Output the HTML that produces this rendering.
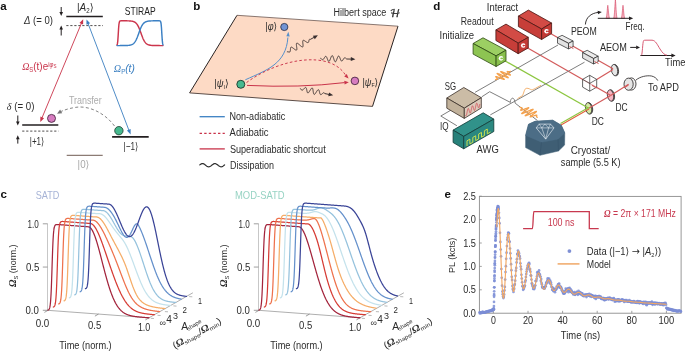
<!DOCTYPE html>
<html><head><meta charset="utf-8"><title>Superadiabatic figure</title>
<style>
html,body{margin:0;padding:0;background:#fff;}
body{width:685px;height:354px;overflow:hidden;}
svg{display:block;}
svg text{font-family:"Liberation Sans", "DejaVu Sans", sans-serif;}
</style></head><body>
<svg width="685" height="354" viewBox="0 0 685 354" fill="#2b2b2b">
<rect width="685" height="354" fill="#fff"/>
<text x="0.30" y="10.20" font-size="11.55" fill="#111" font-weight="bold">a</text>
<line x1="66.30" y1="16.40" x2="102.80" y2="16.40" stroke="#231f20" stroke-width="1.5" />
<line x1="66.30" y1="25.60" x2="103.00" y2="25.60" stroke="#231f20" stroke-width="0.8" stroke-dasharray="2.2,1.8"/>
<line x1="61.20" y1="7.00" x2="61.20" y2="13.00" stroke="#231f20" stroke-width="1.0" />
<polygon points="61.20,16.00 59.40,12.00 63.00,12.00" fill="#231f20" stroke="none" stroke-width="0" stroke-linejoin="round" />
<line x1="61.20" y1="28.50" x2="61.20" y2="35.50" stroke="#231f20" stroke-width="1.0" />
<polygon points="61.20,25.40 63.00,29.40 59.40,29.40" fill="#231f20" stroke="none" stroke-width="0" stroke-linejoin="round" />
<text x="24.00" y="24.40" font-size="10.56" textLength="29.00" lengthAdjust="spacingAndGlyphs"><tspan font-style="italic">Δ</tspan> (= 0)</text>
<text x="77.00" y="11.20" font-size="10.56" textLength="16.60" lengthAdjust="spacingAndGlyphs">|<tspan font-style="italic">A</tspan><tspan font-size="6.5" dy="2">2</tspan><tspan dy="-2">⟩</tspan></text>
<line x1="22.20" y1="124.90" x2="58.30" y2="124.90" stroke="#231f20" stroke-width="1.5" />
<line x1="22.20" y1="131.10" x2="58.50" y2="131.10" stroke="#231f20" stroke-width="0.8" stroke-dasharray="2.2,1.8"/>
<line x1="17.80" y1="115.50" x2="17.80" y2="122.00" stroke="#231f20" stroke-width="1.0" />
<polygon points="17.80,125.50 16.00,121.50 19.60,121.50" fill="#231f20" stroke="none" stroke-width="0" stroke-linejoin="round" />
<line x1="17.80" y1="138.50" x2="17.80" y2="143.60" stroke="#231f20" stroke-width="1.0" />
<polygon points="17.80,135.30 19.60,139.30 16.00,139.30" fill="#231f20" stroke="none" stroke-width="0" stroke-linejoin="round" />
<text x="6.80" y="110.30" font-size="10.56" textLength="27.60" lengthAdjust="spacingAndGlyphs"><tspan font-style="italic" font-family="Liberation Serif, serif" font-size="11">δ</tspan> (= 0)</text>
<text x="29.80" y="144.60" font-size="10.56" textLength="14.40" lengthAdjust="spacingAndGlyphs">|+1⟩</text>
<line x1="112.10" y1="136.90" x2="148.70" y2="136.90" stroke="#231f20" stroke-width="1.6" />
<text x="123.60" y="150.40" font-size="10.56" textLength="14.60" lengthAdjust="spacingAndGlyphs">|−1⟩</text>
<line x1="66.70" y1="155.40" x2="102.70" y2="155.40" stroke="#8c7b74" stroke-width="1.1" />
<text x="77.60" y="168.40" font-size="10.56" fill="#a8a8a8" textLength="11.80" lengthAdjust="spacingAndGlyphs">|0⟩</text>
<line x1="81.80" y1="22.40" x2="41.70" y2="118.60" stroke="#c9334a" stroke-width="0.9" />
<polygon points="83.20,19.20 83.11,24.58 79.42,23.03" fill="#c9334a" stroke="none" stroke-width="0" stroke-linejoin="round" />
<polygon points="40.30,122.00 40.37,116.62 44.07,118.15" fill="#c9334a" stroke="none" stroke-width="0" stroke-linejoin="round" />
<line x1="87.80" y1="22.80" x2="129.20" y2="131.00" stroke="#3b7fc1" stroke-width="0.9" />
<polygon points="86.50,19.40 90.15,23.36 86.42,24.78" fill="#3b7fc1" stroke="none" stroke-width="0" stroke-linejoin="round" />
<polygon points="130.60,134.40 126.94,130.45 130.67,129.02" fill="#3b7fc1" stroke="none" stroke-width="0" stroke-linejoin="round" />
<text x="22.20" y="70.30" font-size="10.56" fill="#c9334a" textLength="34.20" lengthAdjust="spacingAndGlyphs"><tspan font-style="italic" font-family="Liberation Serif, serif" font-size="10.5">Ω</tspan><tspan font-size="6.3" dy="2">S</tspan><tspan dy="-2">(t)e</tspan><tspan font-size="6.3" dy="-3.6">i<tspan font-style="italic">φ</tspan></tspan><tspan font-size="4.8" dy="1.5">S</tspan></text>
<text x="113.80" y="72.00" font-size="10.56" fill="#3b7fc1" textLength="21.00" lengthAdjust="spacingAndGlyphs"><tspan font-style="italic" font-family="Liberation Serif, serif" font-size="10.5">Ω</tspan><tspan font-size="6.3" dy="2">P</tspan><tspan dy="-2" font-style="italic">(t)</tspan></text>
<text x="68.90" y="104.00" font-size="10.56" fill="#acacac" textLength="32.90" lengthAdjust="spacingAndGlyphs">Transfer</text>
<path d="M 114.5,126.0 C 104,112 88,105.5 76,107.3 C 68,108.5 63,110.5 60.5,111.8" stroke="#7e7e7e" stroke-width="0.95" fill="none" stroke-dasharray="3,2.3"/>
<polygon points="57.00,113.80 60.09,109.57 62.20,113.20" fill="#777" stroke="none" stroke-width="0" stroke-linejoin="round" />
<circle cx="51.50" cy="118.40" r="4.00" fill="#d77cc0" stroke="#3a1c33" stroke-width="0.8"/>
<circle cx="118.90" cy="130.70" r="4.20" fill="#46b98e" stroke="#1b3a2c" stroke-width="0.8"/>
<text x="124.80" y="15.30" font-size="10.23" fill="#222" textLength="30.80" lengthAdjust="spacingAndGlyphs">STIRAP</text>
<polyline points="117.00,45.01 117.39,43.90 117.77,41.10 118.16,35.65 118.55,29.01 118.93,24.29 119.32,22.08 119.71,21.24 120.09,20.95 120.48,20.85 120.87,20.82 121.25,20.81 121.64,20.81 122.03,20.81 122.41,20.81 122.80,20.81 123.18,20.81 123.57,20.81 123.96,20.81 124.34,20.81 124.73,20.82 125.12,20.82 125.50,20.82 125.89,20.83 126.28,20.83 126.66,20.84 127.05,20.84 127.44,20.85 127.82,20.86 128.21,20.87 128.60,20.89 128.98,20.90 129.37,20.92 129.76,20.95 130.14,20.98 130.53,21.01 130.92,21.05 131.30,21.10 131.69,21.15 132.08,21.22 132.46,21.30 132.85,21.40 133.24,21.51 133.62,21.64 134.01,21.79 134.39,21.97 134.78,22.19 135.17,22.44 135.55,22.72 135.94,23.06 136.33,23.45 136.71,23.89 137.10,24.40 137.49,24.98 137.87,25.62 138.26,26.34 138.65,27.14 139.03,28.00 139.42,28.93 139.81,29.92 140.19,30.95 140.58,32.02 140.97,33.11 141.35,34.19 141.74,35.26 142.13,36.31 142.51,37.30 142.90,38.24 143.29,39.12 143.67,39.92 144.06,40.66 144.45,41.32 144.83,41.90 145.22,42.42 145.61,42.88 145.99,43.28 146.38,43.62 146.76,43.92 147.15,44.17 147.54,44.39 147.92,44.58 148.31,44.74 148.70,44.87 149.08,44.99 149.47,45.08 149.86,45.17 150.24,45.23 150.63,45.29 151.02,45.34 151.40,45.38 151.79,45.42 152.18,45.45 152.56,45.47 152.95,45.49 153.34,45.51 153.72,45.52 154.11,45.54 154.50,45.55 154.88,45.56 155.27,45.56 155.66,45.57 156.04,45.57 156.43,45.58 156.82,45.58 157.20,45.58 157.59,45.59 157.97,45.59 158.36,45.59 158.75,45.59 159.13,45.59 159.52,45.59 159.91,45.60 160.29,45.60 160.68,45.60 161.07,45.60 161.45,45.60 161.84,45.60 162.23,45.60 162.61,45.60 163.00,45.60" fill="none" stroke="#cc354c" stroke-width="1.45" stroke-linejoin="round" stroke-linecap="round" />
<polyline points="117.00,45.60 117.39,45.60 117.77,45.60 118.16,45.60 118.55,45.60 118.93,45.60 119.32,45.60 119.71,45.60 120.09,45.59 120.48,45.59 120.87,45.59 121.25,45.59 121.64,45.59 122.03,45.59 122.41,45.59 122.80,45.58 123.18,45.58 123.57,45.58 123.96,45.57 124.34,45.57 124.73,45.56 125.12,45.55 125.50,45.54 125.89,45.53 126.28,45.52 126.66,45.50 127.05,45.48 127.44,45.46 127.82,45.43 128.21,45.40 128.60,45.36 128.98,45.32 129.37,45.26 129.76,45.20 130.14,45.12 130.53,45.04 130.92,44.93 131.30,44.81 131.69,44.66 132.08,44.49 132.46,44.28 132.85,44.05 133.24,43.77 133.62,43.45 134.01,43.08 134.39,42.65 134.78,42.16 135.17,41.61 135.55,40.98 135.94,40.29 136.33,39.52 136.71,38.67 137.10,37.76 137.49,36.79 137.87,35.77 138.26,34.71 138.65,33.63 139.03,32.54 139.42,31.46 139.81,30.41 140.19,29.40 140.58,28.44 140.97,27.54 141.35,26.72 141.74,25.96 142.13,25.28 142.51,24.67 142.90,24.13 143.29,23.66 143.67,23.24 144.06,22.88 144.45,22.57 144.83,22.30 145.22,22.07 145.61,21.88 145.99,21.71 146.38,21.57 146.76,21.45 147.15,21.34 147.54,21.26 147.92,21.19 148.31,21.12 148.70,21.07 149.08,21.03 149.47,20.99 149.86,20.96 150.24,20.94 150.63,20.91 151.02,20.90 151.40,20.88 151.79,20.87 152.18,20.86 152.56,20.85 152.95,20.84 153.34,20.83 153.72,20.83 154.11,20.82 154.50,20.82 154.88,20.82 155.27,20.81 155.66,20.81 156.04,20.81 156.43,20.81 156.82,20.81 157.20,20.81 157.59,20.80 157.97,20.80 158.36,20.80 158.75,20.81 159.13,20.81 159.52,20.84 159.91,20.91 160.29,21.13 160.68,21.77 161.07,23.52 161.45,27.52 161.84,33.91 162.23,39.95 162.61,43.39 163.00,44.82" fill="none" stroke="#3b80c4" stroke-width="1.45" stroke-linejoin="round" stroke-linecap="round" />
<text x="193.20" y="10.20" font-size="11.55" fill="#111" font-weight="bold">b</text>
<polygon points="237.00,15.30 398.00,26.20 372.50,106.40 189.60,92.90" fill="#fddac5" stroke="none" stroke-width="0" stroke-linejoin="round" />
<line x1="237.00" y1="15.30" x2="398.00" y2="26.20" stroke="#6b5750" stroke-width="0.8" />
<line x1="189.60" y1="92.90" x2="372.50" y2="106.40" stroke="#4a3c38" stroke-width="0.9" />
<line x1="237.00" y1="15.30" x2="189.60" y2="92.90" stroke="#2a2424" stroke-width="1.0" />
<line x1="398.00" y1="26.20" x2="372.50" y2="106.40" stroke="#2a2424" stroke-width="1.0" />
<text x="333.50" y="16.40" font-size="10.45" textLength="52.80" lengthAdjust="spacingAndGlyphs">Hilbert space</text>
<text x="389.80" y="16.80" font-size="10.89" stroke="#2b2b2b" stroke-width="0.3" style="font-family:'DejaVu Math TeX Gyre', 'DejaVu Sans', serif">ℋ</text>
<path d="M 245.3,79.8 C 267,70 286,64 287.9,37.5" stroke="#5590cc" stroke-width="1.0" fill="none" />
<polygon points="288.30,31.80 289.72,36.49 286.33,36.29" fill="#5590cc" stroke="none" stroke-width="0" stroke-linejoin="round" />
<path d="M 246.5,82.6 C 280,58 330,50 345.6,75.2" stroke="#c9334a" stroke-width="0.95" fill="none" stroke-dasharray="2.6,2.2"/>
<polygon points="348.60,78.40 344.22,76.56 346.76,74.02" fill="#c9334a" stroke="none" stroke-width="0" stroke-linejoin="round" />
<path d="M 247,85.4 Q 300,88 344.6,82.6" stroke="#c9334a" stroke-width="1.0" fill="none" />
<polygon points="348.80,82.20 344.61,84.44 344.24,80.86" fill="#c9334a" stroke="none" stroke-width="0" stroke-linejoin="round" />
<polyline points="287.30,51.80 287.46,51.76 287.65,51.76 287.85,51.78 288.05,51.81 288.26,51.86 288.48,51.91 288.69,51.96 288.90,52.00 289.10,52.03 289.29,52.04 289.47,52.03 289.63,51.99 289.78,51.93 289.92,51.83 290.03,51.70 290.13,51.54 290.22,51.35 290.28,51.13 290.33,50.88 290.37,50.61 290.40,50.31 290.42,50.00 290.43,49.68 290.44,49.36 290.46,49.04 290.47,48.73 290.50,48.43 290.53,48.15 290.58,47.90 290.65,47.67 290.73,47.48 290.84,47.34 290.97,47.23 291.12,47.17 291.30,47.15 291.50,47.18 291.72,47.25 291.96,47.36 292.23,47.51 292.52,47.69 292.81,47.90 293.13,48.13 293.45,48.38 293.77,48.64 294.10,48.90 294.42,49.15 294.73,49.39 295.03,49.61 295.32,49.80 295.59,49.95 295.84,50.06 296.06,50.13 296.26,50.15 296.43,50.12 296.57,50.04 296.68,49.90 296.76,49.71 296.82,49.46 296.84,49.17 296.85,48.83 296.83,48.46 296.80,48.05 296.75,47.62 296.69,47.16 296.63,46.70 296.56,46.24 296.50,45.78 296.45,45.34 296.41,44.92 296.39,44.54 296.39,44.19 296.41,43.88 296.45,43.62 296.53,43.42 296.64,43.27 296.77,43.18 296.94,43.15 297.14,43.17 297.37,43.25 297.62,43.38 297.91,43.56 298.21,43.78 298.53,44.04 298.87,44.32 299.22,44.62 299.58,44.93 299.93,45.25 300.29,45.56 300.63,45.86 300.97,46.13 301.28,46.38 301.58,46.59 301.86,46.75 302.11,46.87 302.33,46.94 302.52,46.95 302.68,46.91 302.81,46.81 302.92,46.65 302.99,46.44 303.04,46.18 303.06,45.88 303.06,45.54 303.04,45.16 303.01,44.75 302.97,44.33 302.92,43.90 302.87,43.46 302.82,43.02 302.78,42.60 302.74,42.20 302.73,41.82 302.73,41.48 302.75,41.17 302.79,40.91 302.86,40.69 302.95,40.52 303.07,40.39 303.22,40.32 303.39,40.30 303.59,40.32 303.81,40.38 304.05,40.48 304.31,40.62 304.58,40.78 304.87,40.97 305.16,41.16 305.46,41.37 305.76,41.58 306.05,41.79 306.34,41.98 306.62,42.15 306.89,42.31 307.14,42.43 307.38,42.53 307.60,42.59 307.80,42.61 307.98,42.60 308.14,42.55 308.28,42.46 308.40,42.34 308.50,42.19 308.59,42.01 308.66,41.81 308.73,41.58 308.79,41.34 308.84,41.10 308.89,40.85 308.94,40.60 309.00,40.36 309.06,40.13 309.13,39.92 309.22,39.73 309.31,39.56 309.43,39.43 309.55,39.32 309.70,39.25 309.87,39.22 310.06,39.23 310.33,39.38 314.29,37.25" fill="none" stroke="#382e2e" stroke-width="0.95" stroke-linejoin="round" stroke-linecap="round" />
<polygon points="317.90,35.30 314.80,39.24 312.90,35.72" fill="#382e2e" stroke="none" stroke-width="0" stroke-linejoin="round" />
<polyline points="320.70,58.40 320.86,58.45 321.02,58.54 321.18,58.67 321.34,58.81 321.50,58.96 321.66,59.12 321.82,59.26 321.98,59.40 322.14,59.51 322.30,59.60 322.47,59.66 322.63,59.68 322.79,59.66 322.96,59.60 323.12,59.50 323.29,59.36 323.46,59.18 323.62,58.97 323.79,58.74 323.96,58.48 324.13,58.20 324.30,57.91 324.47,57.63 324.64,57.36 324.81,57.10 324.98,56.87 325.15,56.67 325.31,56.51 325.48,56.40 325.64,56.33 325.81,56.33 325.97,56.38 326.13,56.48 326.29,56.65 326.45,56.86 326.61,57.13 326.76,57.44 326.92,57.78 327.07,58.16 327.23,58.55 327.38,58.95 327.53,59.35 327.69,59.74 327.84,60.11 328.00,60.45 328.15,60.74 328.31,60.99 328.47,61.18 328.63,61.30 328.79,61.36 328.96,61.35 329.12,61.27 329.29,61.13 329.46,60.91 329.63,60.64 329.80,60.31 329.97,59.93 330.14,59.52 330.31,59.08 330.49,58.63 330.66,58.16 330.84,57.71 331.01,57.28 331.18,56.87 331.35,56.51 331.52,56.20 331.69,55.94 331.86,55.76 332.03,55.64 332.19,55.60 332.35,55.63 332.51,55.75 332.67,55.93 332.83,56.18 332.99,56.50 333.14,56.87 333.29,57.28 333.45,57.74 333.60,58.21 333.75,58.70 333.90,59.19 334.06,59.67 334.21,60.12 334.36,60.53 334.52,60.90 334.67,61.22 334.83,61.47 334.99,61.66 335.15,61.77 335.31,61.80 335.48,61.76 335.64,61.64 335.81,61.46 335.98,61.20 336.15,60.89 336.32,60.53 336.49,60.12 336.67,59.69 336.84,59.24 337.01,58.78 337.19,58.32 337.36,57.88 337.53,57.47 337.71,57.09 337.88,56.76 338.05,56.49 338.21,56.28 338.38,56.13 338.55,56.05 338.71,56.04 338.87,56.10 339.03,56.23 339.19,56.41 339.35,56.66 339.50,56.95 339.66,57.29 339.81,57.66 339.97,58.05 340.12,58.45 340.28,58.85 340.43,59.24 340.59,59.62 340.74,59.96 340.90,60.27 341.05,60.54 341.21,60.75 341.37,60.92 341.53,61.02 341.69,61.07 341.86,61.07 342.02,61.01 342.19,60.89 342.36,60.73 342.52,60.54 342.69,60.30 342.86,60.05 343.03,59.77 343.20,59.49 343.37,59.20 343.54,58.93 343.71,58.67 343.88,58.43 344.05,58.22 344.21,58.04 344.38,57.90 344.54,57.80 344.71,57.74 344.87,57.73 345.04,57.75 345.20,57.80 345.36,57.89 345.52,58.00 345.68,58.14 345.84,58.29 346.00,58.44 346.16,58.59 346.32,58.73 346.48,58.86 346.64,58.95 346.80,59.00 351.30,59.11" fill="none" stroke="#382e2e" stroke-width="0.95" stroke-linejoin="round" stroke-linecap="round" />
<polygon points="355.40,59.20 350.76,61.09 350.85,57.09" fill="#382e2e" stroke="none" stroke-width="0" stroke-linejoin="round" />
<polyline points="300.30,88.60 300.44,88.67 300.58,88.79 300.71,88.93 300.84,89.08 300.96,89.25 301.09,89.42 301.21,89.59 301.34,89.75 301.47,89.89 301.61,90.01 301.75,90.11 301.89,90.17 302.04,90.21 302.20,90.20 302.37,90.17 302.54,90.09 302.73,89.99 302.91,89.84 303.11,89.68 303.31,89.48 303.51,89.27 303.72,89.04 303.92,88.80 304.13,88.57 304.34,88.34 304.54,88.12 304.74,87.93 304.93,87.76 305.12,87.62 305.30,87.53 305.47,87.47 305.63,87.46 305.78,87.51 305.92,87.60 306.05,87.74 306.17,87.93 306.28,88.17 306.39,88.44 306.48,88.76 306.57,89.11 306.65,89.48 306.73,89.87 306.81,90.27 306.89,90.67 306.97,91.06 307.05,91.43 307.14,91.78 307.24,92.09 307.34,92.36 307.45,92.59 307.58,92.76 307.71,92.88 307.86,92.94 308.02,92.93 308.19,92.87 308.38,92.75 308.57,92.57 308.78,92.34 308.99,92.06 309.22,91.74 309.45,91.39 309.68,91.02 309.92,90.63 310.16,90.24 310.40,89.85 310.64,89.47 310.87,89.12 311.09,88.81 311.31,88.53 311.51,88.30 311.71,88.13 311.89,88.02 312.06,87.97 312.21,87.98 312.36,88.06 312.49,88.21 312.60,88.41 312.71,88.68 312.80,89.00 312.89,89.36 312.97,89.77 313.04,90.20 313.10,90.66 313.17,91.12 313.23,91.59 313.30,92.05 313.37,92.49 313.44,92.90 313.52,93.28 313.62,93.61 313.72,93.89 313.83,94.12 313.96,94.28 314.10,94.38 314.25,94.42 314.41,94.39 314.59,94.30 314.78,94.15 314.98,93.95 315.19,93.70 315.41,93.40 315.64,93.08 315.87,92.72 316.10,92.35 316.34,91.98 316.57,91.60 316.81,91.24 317.04,90.90 317.26,90.59 317.47,90.32 317.68,90.09 317.88,89.90 318.06,89.77 318.24,89.70 318.40,89.68 318.55,89.72 318.69,89.82 318.82,89.96 318.94,90.16 319.05,90.41 319.15,90.69 319.25,91.00 319.34,91.34 319.42,91.69 319.51,92.06 319.59,92.42 319.68,92.78 319.77,93.12 319.86,93.44 319.96,93.73 320.07,93.99 320.19,94.21 320.31,94.38 320.44,94.52 320.58,94.61 320.73,94.65 320.89,94.65 321.06,94.62 321.23,94.54 321.41,94.43 321.60,94.30 321.79,94.14 321.99,93.97 322.18,93.79 322.38,93.60 322.58,93.42 322.77,93.25 322.96,93.09 323.15,92.96 323.33,92.85 323.51,92.77 323.67,92.72 323.84,92.70 323.99,92.72 324.14,92.77 324.29,92.85 324.42,92.96 324.55,93.10 324.68,93.28 324.77,93.58 329.18,94.48" fill="none" stroke="#382e2e" stroke-width="0.95" stroke-linejoin="round" stroke-linecap="round" />
<polygon points="333.20,95.30 328.29,96.34 329.09,92.42" fill="#382e2e" stroke="none" stroke-width="0" stroke-linejoin="round" />
<circle cx="284.30" cy="27.00" r="3.60" fill="#7294d4" stroke="#222a44" stroke-width="0.8"/>
<circle cx="240.80" cy="84.30" r="4.00" fill="#47b98f" stroke="#1b3a2c" stroke-width="0.9"/>
<circle cx="354.90" cy="80.90" r="3.80" fill="#d77cc0" stroke="#3a1c33" stroke-width="0.8"/>
<text x="265.30" y="29.60" font-size="10.23" textLength="11.80" lengthAdjust="spacingAndGlyphs">|<tspan font-style="italic">φ</tspan>⟩</text>
<text x="214.30" y="87.20" font-size="10.23" textLength="14.40" lengthAdjust="spacingAndGlyphs">|<tspan font-style="italic">ψ</tspan><tspan font-size="5.8" dy="1.8">I</tspan><tspan dy="-1.8">⟩</tspan></text>
<text x="362.40" y="85.60" font-size="10.23" textLength="15.80" lengthAdjust="spacingAndGlyphs">|<tspan font-style="italic">ψ</tspan><tspan font-size="5.8" dy="1.8">F</tspan><tspan dy="-1.8">⟩</tspan></text>
<line x1="199.60" y1="116.70" x2="224.80" y2="116.70" stroke="#3b80c2" stroke-width="1.3" />
<line x1="199.60" y1="133.30" x2="224.80" y2="133.30" stroke="#c9334a" stroke-width="1.2" stroke-dasharray="2.4,2.2"/>
<line x1="199.60" y1="148.90" x2="224.80" y2="148.90" stroke="#c9334a" stroke-width="1.3" />
<polyline points="199.80,164.88 200.22,164.56 200.64,164.26 201.06,164.01 201.48,163.81 201.90,163.67 202.32,163.61 202.74,163.61 203.16,163.69 203.58,163.83 204.00,164.04 204.42,164.30 204.84,164.60 205.26,164.93 205.68,165.26 206.11,165.60 206.53,165.92 206.95,166.21 207.37,166.45 207.79,166.63 208.21,166.75 208.63,166.80 209.05,166.78 209.47,166.68 209.89,166.52 210.31,166.30 210.73,166.03 211.15,165.72 211.57,165.39 211.99,165.05 212.41,164.72 212.83,164.41 213.25,164.13 213.67,163.90 214.09,163.73 214.51,163.63 214.93,163.60 215.35,163.64 215.77,163.75 216.19,163.93 216.61,164.16 217.03,164.44 217.45,164.76 217.87,165.09 218.29,165.43 218.72,165.76 219.14,166.07 219.56,166.33 219.98,166.55 220.40,166.70 220.82,166.78 221.24,166.80 221.66,166.74 222.08,166.61 222.50,166.42 222.92,166.17 223.34,165.88 223.76,165.56 224.18,165.22 224.60,164.88" fill="none" stroke="#2b2b2b" stroke-width="1.2" stroke-linejoin="round" stroke-linecap="round" />
<text x="229.60" y="120.20" font-size="10.45" textLength="55.60" lengthAdjust="spacingAndGlyphs">Non-adiabatic</text>
<text x="229.60" y="136.20" font-size="10.45" textLength="39.00" lengthAdjust="spacingAndGlyphs">Adiabatic</text>
<text x="229.90" y="152.80" font-size="10.45" textLength="95.80" lengthAdjust="spacingAndGlyphs">Superadiabatic shortcut</text>
<text x="229.90" y="169.20" font-size="10.45" textLength="44.00" lengthAdjust="spacingAndGlyphs">Dissipation</text>
<text x="433.20" y="9.90" font-size="11.55" fill="#111" font-weight="bold">d</text>
<ellipse cx="615.40" cy="70.10" rx="3.1" ry="5.7" fill="#9a9a9a" stroke="#231f20" stroke-width="0.7" transform="rotate(-10 615.40 70.10)"/>
<ellipse cx="614.50" cy="70.10" rx="3.1" ry="5.7" fill="#e6e6e6" stroke="#231f20" stroke-width="0.7" transform="rotate(-10 614.50 70.10)"/>
<ellipse cx="611.40" cy="95.50" rx="3.1" ry="5.7" fill="#9a9a9a" stroke="#231f20" stroke-width="0.7" transform="rotate(-10 611.40 95.50)"/>
<ellipse cx="610.50" cy="95.50" rx="3.1" ry="5.7" fill="#f4b6c3" stroke="#231f20" stroke-width="0.7" transform="rotate(-10 610.50 95.50)"/>
<ellipse cx="589.50" cy="108.30" rx="3.1" ry="5.7" fill="#9a9a9a" stroke="#231f20" stroke-width="0.7" transform="rotate(-10 589.50 108.30)"/>
<ellipse cx="588.60" cy="108.30" rx="3.1" ry="5.7" fill="#d6e9a5" stroke="#231f20" stroke-width="0.7" transform="rotate(-10 588.60 108.30)"/>
<ellipse cx="631.4" cy="84.0" rx="4.6" ry="6.1" fill="#f2f2f2" stroke="#231f20" stroke-width="0.8"/>
<ellipse cx="628.60" cy="84.20" rx="4.6" ry="6.1" fill="#e6e6e6" stroke="#231f20" stroke-width="0.8" transform="rotate(0 628.60 84.20)"/>
<line x1="546.50" y1="31.30" x2="613.00" y2="68.80" stroke="#d35b5b" stroke-width="1.2" />
<line x1="613.00" y1="69.40" x2="596.70" y2="79.50" stroke="#d35b5b" stroke-width="1.2" />
<line x1="523.30" y1="45.60" x2="610.40" y2="95.30" stroke="#d35b5b" stroke-width="1.2" />
<line x1="610.60" y1="95.40" x2="628.60" y2="84.30" stroke="#d35b5b" stroke-width="1.2" />
<line x1="610.60" y1="95.60" x2="588.80" y2="108.20" stroke="#d35b5b" stroke-width="1.2" />
<line x1="500.90" y1="58.50" x2="588.80" y2="108.20" stroke="#8cc63f" stroke-width="1.3" />
<line x1="588.60" y1="107.60" x2="560.50" y2="123.60" stroke="#8cc63f" stroke-width="1.1" />
<line x1="589.00" y1="108.90" x2="561.00" y2="124.90" stroke="#e0603a" stroke-width="1.1" />
<line x1="475.10" y1="92.30" x2="558.00" y2="45.00" stroke="#777777" stroke-width="0.95" />
<polyline points="482.10,96.60 489.70,91.70 510.20,102.30" fill="none" stroke="#777777" stroke-width="0.95" stroke-linejoin="round" stroke-linecap="round" />
<path d="M 510.2,102.3 C 511,96.5 514.5,96.8 515.2,103.2" stroke="#777777" stroke-width="0.95" fill="none" />
<line x1="515.20" y1="103.20" x2="537.50" y2="120.60" stroke="#777777" stroke-width="0.95" />
<line x1="490.30" y1="114.90" x2="584.50" y2="62.20" stroke="#777777" stroke-width="0.95" />
<polyline points="455.50,107.50 440.80,116.00 456.50,125.50" fill="none" stroke="#777777" stroke-width="0.95" stroke-linejoin="round" stroke-linecap="round" />
<polyline points="495.61,79.57 495.70,79.53 495.79,79.50 495.89,79.48 496.00,79.45 496.11,79.44 496.23,79.42 496.35,79.40 496.48,79.39 496.61,79.38 496.74,79.37 496.87,79.36 497.00,79.35 497.12,79.33 497.23,79.31 497.33,79.29 497.42,79.25 497.49,79.21 497.54,79.16 497.57,79.09 497.58,79.01 497.56,78.92 497.51,78.81 497.44,78.68 497.35,78.55 497.23,78.40 497.09,78.24 496.93,78.06 496.77,77.89 496.60,77.71 496.42,77.53 496.25,77.35 496.10,77.18 495.97,77.02 495.86,76.88 495.79,76.75 495.75,76.65 495.76,76.57 495.83,76.52 495.94,76.51 496.11,76.52 496.34,76.57 496.63,76.64 496.97,76.75 497.36,76.89 497.80,77.05 498.28,77.24 498.79,77.45 499.33,77.67 499.89,77.90 500.45,78.13 501.01,78.36 501.56,78.59 502.08,78.80 502.56,78.99 503.01,79.15 503.40,79.29 503.73,79.39 503.99,79.46 504.19,79.48 504.30,79.47 504.34,79.41 504.31,79.30 504.19,79.15 504.00,78.96 503.74,78.73 503.42,78.47 503.04,78.17 502.61,77.85 502.14,77.50 501.64,77.13 501.11,76.75 500.58,76.37 500.06,75.99 499.54,75.62 499.05,75.26 498.59,74.92 498.18,74.60 497.82,74.32 497.52,74.07 497.30,73.85 497.14,73.68 497.06,73.55 497.06,73.47 497.15,73.44 497.31,73.45 497.56,73.50 497.88,73.60 498.28,73.74 498.74,73.92 499.27,74.13 499.84,74.37 500.46,74.64 501.12,74.92 501.79,75.22 502.48,75.53 503.18,75.83 503.86,76.13 504.53,76.43 505.16,76.70 505.76,76.96 506.31,77.18 506.81,77.38 507.24,77.54 507.60,77.66 507.88,77.73 508.09,77.77 508.21,77.75 508.26,77.70 508.22,77.59 508.11,77.44 507.91,77.25 507.65,77.02 507.32,76.75 506.93,76.45 506.50,76.12 506.02,75.77 505.51,75.40 504.98,75.01 504.43,74.63 503.89,74.24 503.36,73.86 502.86,73.49 502.38,73.14 501.95,72.81 501.57,72.51 501.26,72.25 501.00,72.03 500.82,71.84 500.72,71.70 500.70,71.60 500.75,71.55 500.89,71.55 501.11,71.59 501.40,71.67 501.76,71.79 502.19,71.95 502.68,72.14 503.21,72.35 503.78,72.59 504.39,72.85 505.01,73.11 505.63,73.38 506.26,73.65 506.87,73.91 507.45,74.16 508.00,74.39 508.51,74.59 508.97,74.76 509.37,74.91 509.71,75.01 509.98,75.08 510.19,75.12 510.33,75.11 510.40,75.07 510.41,74.99 510.36,74.88 510.25,74.74 510.10,74.56 509.90,74.37 509.67,74.16 509.42,73.93 509.15,73.70 508.87,73.46 508.60,73.22 508.33,72.99 508.08,72.77 507.86,72.55 507.66,72.36 507.49,72.18 507.36,72.02 507.26,71.89 507.21,71.77 507.19,71.68 507.20,71.60 507.26,71.55 507.34,71.51 507.45,71.49 507.59,71.49 507.74,71.49 507.91,71.50 508.09,71.52 508.28,71.54 508.47,71.57 508.66,71.59 508.84,71.61 509.02,71.63 509.19,71.64 509.35,71.64 509.49,71.64 509.63,71.64 509.75,71.62 509.87,71.60 509.97,71.58 510.07,71.55 510.15,71.52 510.23,71.48 510.31,71.43 510.37,71.39 510.44,71.34 510.50,71.30" fill="none" stroke="#f4a24e" stroke-width="1.25" stroke-linejoin="round" stroke-linecap="round" />
<polyline points="520.10,107.40 520.21,107.44 520.32,107.47 520.44,107.50 520.57,107.53 520.70,107.55 520.83,107.58 520.97,107.60 521.11,107.61 521.25,107.63 521.39,107.65 521.53,107.67 521.65,107.70 521.77,107.74 521.86,107.78 521.94,107.83 522.00,107.90 522.03,107.98 522.04,108.07 522.02,108.18 521.97,108.31 521.90,108.45 521.80,108.60 521.68,108.77 521.54,108.94 521.39,109.12 521.24,109.31 521.09,109.49 520.95,109.66 520.84,109.83 520.75,109.97 520.70,110.10 520.70,110.20 520.75,110.27 520.86,110.31 521.03,110.31 521.26,110.27 521.56,110.20 521.93,110.09 522.35,109.95 522.83,109.78 523.36,109.58 523.91,109.37 524.50,109.14 525.09,108.90 525.68,108.66 526.26,108.44 526.81,108.23 527.31,108.05 527.75,107.89 528.12,107.78 528.42,107.71 528.62,107.70 528.74,107.73 528.75,107.82 528.67,107.96 528.49,108.16 528.22,108.41 527.87,108.71 527.44,109.05 526.95,109.42 526.41,109.82 525.83,110.25 525.24,110.68 524.64,111.11 524.06,111.54 523.51,111.95 523.00,112.33 522.56,112.68 522.19,112.98 521.91,113.24 521.73,113.44 521.65,113.58 521.67,113.67 521.81,113.69 522.06,113.65 522.41,113.55 522.86,113.39 523.41,113.18 524.03,112.93 524.73,112.63 525.48,112.31 526.26,111.96 527.08,111.60 527.90,111.24 528.70,110.88 529.49,110.54 530.22,110.22 530.91,109.94 531.52,109.69 532.04,109.49 532.47,109.35 532.81,109.26 533.03,109.23 533.15,109.26 533.15,109.36 533.05,109.52 532.84,109.73 532.53,110.00 532.14,110.32 531.66,110.69 531.13,111.09 530.54,111.52 529.91,111.97 529.27,112.43 528.62,112.89 527.99,113.34 527.39,113.78 526.83,114.19 526.34,114.57 525.92,114.90 525.58,115.19 525.34,115.42 525.20,115.60 525.17,115.72 525.25,115.77 525.44,115.76 525.74,115.69 526.14,115.56 526.64,115.38 527.22,115.15 527.88,114.87 528.60,114.57 529.37,114.23 530.17,113.88 530.97,113.52 531.78,113.17 532.57,112.82 533.32,112.50 534.01,112.20 534.65,111.95 535.20,111.73 535.66,111.57 536.03,111.46 536.29,111.41 536.44,111.43 536.49,111.50 536.43,111.63 536.28,111.81 536.03,112.05 535.69,112.34 535.29,112.66 534.82,113.02 534.32,113.41 533.78,113.80 533.24,114.21 532.70,114.61 532.18,115.00 531.69,115.37 531.26,115.72 530.88,116.03 530.58,116.30 530.35,116.52 530.21,116.70 530.15,116.83 530.18,116.91 530.30,116.95 530.49,116.93 530.76,116.88 531.09,116.79 531.48,116.67 531.91,116.53 532.37,116.36 532.86,116.19 533.35,116.01 533.83,115.84 534.30,115.67 534.74,115.52 535.16,115.38 535.53,115.27 535.85,115.19 536.13,115.13 536.36,115.10 536.53,115.10 536.66,115.12 536.75,115.17 536.80,115.24 536.82,115.33 536.80,115.44 536.77,115.55 536.72,115.68 536.66,115.81 536.60,115.94 536.54,116.07 536.49,116.20 536.45,116.32 536.42,116.43 536.41,116.54 536.42,116.63 536.44,116.72 536.47,116.80 536.53,116.87 536.59,116.93 536.67,116.98 536.76,117.03 536.85,117.07 536.95,117.12 537.06,117.15 537.17,117.19 537.28,117.23 537.39,117.26" fill="none" stroke="#f4a24e" stroke-width="1.25" stroke-linejoin="round" stroke-linecap="round" />
<path d="M 517.5,98.6 L 522.5,95.6 C 523.8,93.5 523.8,90.5 525.6,88.6 C 527,87.8 529,88.5 530.5,89.4 C 532,90.2 533,89.6 535.5,88.3 L 541,85.3" stroke="#f2a65a" stroke-width="0.85" fill="none" />
<polygon points="518.40,16.10 528.40,10.10 551.60,23.00 541.60,29.00" fill="#d24b45" stroke="#4a1512" stroke-width="0.8" stroke-linejoin="round" />
<polygon points="518.40,16.10 541.60,29.00 541.60,39.50 518.40,26.60" fill="#c73e39" stroke="#4a1512" stroke-width="0.8" stroke-linejoin="round" />
<polygon points="541.60,29.00 551.60,23.00 551.60,33.50 541.60,39.50" fill="#c33a35" stroke="#4a1512" stroke-width="0.8" stroke-linejoin="round" />
<circle cx="546.60" cy="31.25" r="2.3" fill="#fff"/>
<path d="M 546.60,31.25 L 549.20,30.15 L 549.20,32.55 Z" fill="#c33a35"/>
<circle cx="546.80" cy="31.35" r="0.9" fill="#c33a35"/>
<polygon points="495.90,29.90 506.00,24.10 528.30,37.30 518.20,43.10" fill="#d24b45" stroke="#4a1512" stroke-width="0.8" stroke-linejoin="round" />
<polygon points="495.90,29.90 518.20,43.10 518.20,53.70 495.90,40.50" fill="#c73e39" stroke="#4a1512" stroke-width="0.8" stroke-linejoin="round" />
<polygon points="518.20,43.10 528.30,37.30 528.30,47.90 518.20,53.70" fill="#c33a35" stroke="#4a1512" stroke-width="0.8" stroke-linejoin="round" />
<circle cx="523.25" cy="45.50" r="2.3" fill="#fff"/>
<path d="M 523.25,45.50 L 525.85,44.40 L 525.85,46.80 Z" fill="#c33a35"/>
<circle cx="523.45" cy="45.60" r="0.9" fill="#c33a35"/>
<polygon points="473.10,43.50 483.00,37.80 506.00,50.20 496.10,55.90" fill="#9ccf63" stroke="#2c4712" stroke-width="0.8" stroke-linejoin="round" />
<polygon points="473.10,43.50 496.10,55.90 496.10,66.50 473.10,54.10" fill="#8dc452" stroke="#2c4712" stroke-width="0.8" stroke-linejoin="round" />
<polygon points="496.10,55.90 506.00,50.20 506.00,60.80 496.10,66.50" fill="#88bf4c" stroke="#2c4712" stroke-width="0.8" stroke-linejoin="round" />
<circle cx="501.05" cy="58.35" r="2.3" fill="#fff"/>
<path d="M 501.05,58.35 L 503.65,57.25 L 503.65,59.65 Z" fill="#88bf4c"/>
<circle cx="501.25" cy="58.45" r="0.9" fill="#88bf4c"/>
<polygon points="557.50,37.60 562.10,35.30 573.10,41.00 568.50,43.30" fill="#ececec" stroke="#222" stroke-width="0.7" stroke-linejoin="round" />
<polygon points="557.50,37.60 568.50,43.30 568.50,48.90 557.50,43.20" fill="#e2e2e2" stroke="#222" stroke-width="0.7" stroke-linejoin="round" />
<polygon points="568.50,43.30 573.10,41.00 573.10,46.60 568.50,48.90" fill="#e8e8e8" stroke="#222" stroke-width="0.7" stroke-linejoin="round" />
<polygon points="582.60,52.60 587.20,50.30 598.20,56.20 593.60,58.50" fill="#ececec" stroke="#222" stroke-width="0.7" stroke-linejoin="round" />
<polygon points="582.60,52.60 593.60,58.50 593.60,64.00 582.60,58.10" fill="#e2e2e2" stroke="#222" stroke-width="0.7" stroke-linejoin="round" />
<polygon points="593.60,58.50 598.20,56.20 598.20,61.70 593.60,64.00" fill="#e8e8e8" stroke="#222" stroke-width="0.7" stroke-linejoin="round" />
<line x1="569.50" y1="46.50" x2="573.40" y2="48.60" stroke="#d35b5b" stroke-width="1.0" />
<line x1="594.50" y1="61.50" x2="598.60" y2="63.60" stroke="#d35b5b" stroke-width="1.0" />
<polygon points="589.70,75.30 596.70,79.40 596.70,87.10 589.70,91.20 582.60,87.10 582.60,79.40" fill="rgba(255,255,255,0.55)" stroke="#333" stroke-width="0.75" stroke-linejoin="round" />
<line x1="589.70" y1="75.30" x2="589.70" y2="91.20" stroke="#333" stroke-width="0.7" />
<line x1="582.60" y1="79.40" x2="589.70" y2="83.40" stroke="#333" stroke-width="0.7" />
<line x1="596.70" y1="79.40" x2="589.70" y2="83.40" stroke="#333" stroke-width="0.7" />
<line x1="592.00" y1="85.30" x2="596.70" y2="88.00" stroke="#d35b5b" stroke-width="1.1" />
<line x1="624.50" y1="87.60" x2="628.40" y2="85.00" stroke="#d35b5b" stroke-width="1.1" />
<path d="M 635.8,80.2 C 640,76.5 647,75.2 651.5,76.0 C 654.5,76.6 656.8,78.5 657.8,80.6" stroke="#231f20" stroke-width="0.8" fill="none" />
<polygon points="463.80,87.50 481.30,97.70 464.30,108.20 446.80,98.00" fill="#cbbca6" stroke="#3a2e28" stroke-width="0.8" stroke-linejoin="round" />
<polygon points="446.80,98.00 464.30,108.20 464.30,118.40 446.80,108.20" fill="#c2b29b" stroke="#3a2e28" stroke-width="0.8" stroke-linejoin="round" />
<polygon points="464.30,108.20 481.30,97.70 481.30,107.90 464.30,118.40" fill="#dccbbb" stroke="#3a2e28" stroke-width="0.8" stroke-linejoin="round" />
<polyline points="465.80,115.67 465.98,115.75 466.15,115.62 466.32,115.30 466.50,114.80 466.68,114.14 466.85,113.36 467.03,112.50 467.20,111.61 467.38,110.76 467.55,109.98 467.73,109.32 467.90,108.82 468.07,108.50 468.25,108.38 468.43,108.46 468.60,108.73 468.78,109.16 468.95,109.71 469.12,110.35 469.30,111.01 469.48,111.66 469.65,112.24 469.82,112.70 470.00,113.00 470.18,113.13 470.35,113.05 470.53,112.78 470.70,112.32 470.88,111.69 471.05,110.93 471.23,110.09 471.40,109.21 471.57,108.34 471.75,107.54 471.93,106.84 472.10,106.30 472.28,105.94 472.45,105.77 472.62,105.80 472.80,106.03 472.98,106.42 473.15,106.95 473.32,107.57 473.50,108.23 473.68,108.89 473.85,109.48 474.03,109.98 474.20,110.32 474.38,110.49 474.55,110.47 474.73,110.24 474.90,109.83 475.07,109.24 475.25,108.51 475.43,107.68 475.60,106.80 475.78,105.93 475.95,105.10 476.12,104.38 476.30,103.80 476.48,103.39 476.65,103.17 476.82,103.16 477.00,103.34 477.18,103.69 477.35,104.19 477.53,104.79 477.70,105.45 477.88,106.11 478.05,106.73 478.23,107.25 478.40,107.63 478.57,107.85 478.75,107.87 478.93,107.70 479.10,107.32 479.28,106.77 479.45,106.07 479.62,105.27 479.80,104.40" fill="none" stroke="#d2505a" stroke-width="0.8" stroke-linejoin="round" stroke-linecap="round" />
<polygon points="453.10,130.10 483.20,112.80 493.80,119.10 463.70,136.40" fill="#31928a" stroke="#123a36" stroke-width="0.8" stroke-linejoin="round" />
<polygon points="453.10,130.10 463.70,136.40 463.70,148.80 453.10,142.50" fill="#27817a" stroke="#123a36" stroke-width="0.8" stroke-linejoin="round" />
<polygon points="463.70,136.40 493.80,119.10 493.80,131.50 463.70,148.80" fill="#2b8880" stroke="#123a36" stroke-width="0.8" stroke-linejoin="round" />
<polyline points="467.00,145.60 467.00,140.80 469.90,139.12 469.90,143.92 472.80,142.25 472.80,142.25 472.80,137.45 475.70,135.77 475.70,140.57 478.60,138.90 478.60,138.90 478.60,134.10 481.50,132.42 481.50,137.22 484.40,135.55 484.40,135.55 484.40,130.75 487.30,129.07 487.30,133.88 490.20,132.20" fill="none" stroke="#d8e64a" stroke-width="0.9" stroke-linejoin="round" stroke-linecap="round" />
<polygon points="528.50,124.30 535.00,121.30 552.80,120.20 561.30,125.30 564.80,133.00 564.60,145.00 558.50,151.00 540.00,155.30 525.60,147.60 525.60,135.40" fill="#3f5e74" stroke="#3f5e74" stroke-width="0.5" stroke-linejoin="round" />
<polygon points="528.50,124.30 535.00,121.30 552.80,120.20 561.30,125.30 564.80,133.00 558.00,139.20 541.50,142.20 525.60,135.40" fill="#4c6d86" stroke="#4c6d86" stroke-width="0.4" stroke-linejoin="round" />
<line x1="541.50" y1="142.20" x2="540.00" y2="155.30" stroke="#36536a" stroke-width="0.6" />
<line x1="558.00" y1="139.20" x2="558.50" y2="151.00" stroke="#36536a" stroke-width="0.6" />
<polygon points="539.20,124.10 550.50,124.10 554.00,127.90 545.70,139.10 536.20,127.90" fill="none" stroke="#dfe8ef" stroke-width="0.7" stroke-linejoin="round" />
<line x1="536.20" y1="127.90" x2="554.00" y2="127.90" stroke="#dfe8ef" stroke-width="0.6" />
<polyline points="539.20,124.10 541.80,127.90 545.70,139.10 548.60,127.90 550.50,124.10" fill="none" stroke="#dfe8ef" stroke-width="0.6" stroke-linejoin="round" stroke-linecap="round" />
<polyline points="541.80,127.90 544.90,124.10 548.60,127.90" fill="none" stroke="#dfe8ef" stroke-width="0.6" stroke-linejoin="round" stroke-linecap="round" />
<path d="M 585.4,24.5 C 585.8,17.5 591,13.2 598.2,12.4" stroke="#231f20" stroke-width="0.9" fill="none" />
<polygon points="601.80,12.00 598.03,14.25 597.62,10.67" fill="#231f20" stroke="none" stroke-width="0" stroke-linejoin="round" />
<path d="M 606.10,18.3 C 607.00,16 607.30,8.30 607.80,5.30 C 608.30,8.30 608.60,16 609.50,18.3 Z" stroke="#d4405e" stroke-width="0.6" fill="#f6b5c2" />
<path d="M 613.70,18.3 C 614.60,16 614.90,3.00 615.40,0.00 C 615.90,3.00 616.20,16 617.10,18.3 Z" stroke="#d4405e" stroke-width="0.6" fill="#f6b5c2" />
<path d="M 621.30,18.3 C 622.20,16 622.50,8.30 623.00,5.30 C 623.50,8.30 623.80,16 624.70,18.3 Z" stroke="#d4405e" stroke-width="0.6" fill="#f6b5c2" />
<line x1="597.80" y1="18.30" x2="629.50" y2="18.30" stroke="#231f20" stroke-width="1.0" />
<polygon points="633.20,18.30 629.00,20.20 629.00,16.40" fill="#231f20" stroke="none" stroke-width="0" stroke-linejoin="round" />
<line x1="630.20" y1="47.40" x2="636.50" y2="47.40" stroke="#231f20" stroke-width="1.0" />
<polygon points="640.00,47.40 636.20,49.20 636.20,45.60" fill="#231f20" stroke="none" stroke-width="0" stroke-linejoin="round" />
<line x1="640.40" y1="55.50" x2="672.00" y2="55.50" stroke="#231f20" stroke-width="1.0" />
<polygon points="675.60,55.50 671.40,57.40 671.40,53.60" fill="#231f20" stroke="none" stroke-width="0" stroke-linejoin="round" />
<path d="M 641.4,55.3 C 642.4,55 642.6,42 643.6,40.6 C 644,40.2 645,40.2 646,40.2 L 652,40.2 C 655.5,40.2 657.5,45 660,49 C 662.5,53 664.5,55 667,55.2" stroke="#d44a64" stroke-width="0.9" fill="none" />
<text x="486.80" y="10.90" font-size="10.34" textLength="31.40" lengthAdjust="spacingAndGlyphs">Interact</text>
<text x="460.80" y="25.00" font-size="10.34" textLength="32.80" lengthAdjust="spacingAndGlyphs">Readout</text>
<text x="439.60" y="38.70" font-size="10.34" textLength="34.50" lengthAdjust="spacingAndGlyphs">Initialize</text>
<text x="570.90" y="34.80" font-size="10.34" textLength="25.80" lengthAdjust="spacingAndGlyphs">PEOM</text>
<text x="625.60" y="29.80" font-size="10.34" textLength="19.00" lengthAdjust="spacingAndGlyphs">Freq.</text>
<text x="599.90" y="51.40" font-size="10.34" textLength="26.90" lengthAdjust="spacingAndGlyphs">AEOM</text>
<text x="665.00" y="65.80" font-size="10.34" textLength="20.40" lengthAdjust="spacingAndGlyphs">Time</text>
<text x="648.00" y="91.30" font-size="10.34" textLength="30.90" lengthAdjust="spacingAndGlyphs">To APD</text>
<text x="444.70" y="89.80" font-size="10.29" textLength="11.30" lengthAdjust="spacingAndGlyphs">SG</text>
<text x="439.90" y="130.30" font-size="10.34" textLength="8.60" lengthAdjust="spacingAndGlyphs">IQ</text>
<text x="476.60" y="153.10" font-size="10.34" textLength="22.20" lengthAdjust="spacingAndGlyphs">AWG</text>
<text x="615.50" y="111.10" font-size="10.34" textLength="12.20" lengthAdjust="spacingAndGlyphs">DC</text>
<text x="591.70" y="125.20" font-size="10.34" textLength="12.20" lengthAdjust="spacingAndGlyphs">DC</text>
<text x="570.70" y="154.30" font-size="10.34" textLength="39.60" lengthAdjust="spacingAndGlyphs">Cryostat/</text>
<text x="560.80" y="165.80" font-size="10.34" textLength="59.70" lengthAdjust="spacingAndGlyphs">sample (5.5 K)</text>
<text x="0.60" y="198.30" font-size="11.55" fill="#111" font-weight="bold">c</text>
<line x1="47.50" y1="223.60" x2="47.50" y2="310.50" stroke="#b9b9b9" stroke-width="0.8" />
<line x1="42.80" y1="223.80" x2="47.50" y2="223.80" stroke="#777" stroke-width="0.7" />
<line x1="42.80" y1="267.05" x2="47.50" y2="267.05" stroke="#777" stroke-width="0.7" />
<line x1="42.80" y1="310.30" x2="47.50" y2="310.30" stroke="#777" stroke-width="0.7" />
<text x="27.60" y="227.50" font-size="10.23" textLength="11.30" lengthAdjust="spacingAndGlyphs">1.0</text>
<text x="26.00" y="270.90" font-size="10.23" textLength="13.40" lengthAdjust="spacingAndGlyphs">0.5</text>
<text x="25.40" y="313.80" font-size="10.23" textLength="13.40" lengthAdjust="spacingAndGlyphs">0.0</text>
<line x1="47.50" y1="310.30" x2="149.00" y2="317.80" stroke="#9a9a9a" stroke-width="0.8" />
<line x1="48.00" y1="310.30" x2="44.40" y2="312.40" stroke="#777" stroke-width="0.7" />
<line x1="98.50" y1="314.05" x2="94.90" y2="316.15" stroke="#777" stroke-width="0.7" />
<line x1="149.00" y1="317.80" x2="145.40" y2="319.90" stroke="#777" stroke-width="0.7" />
<text x="35.70" y="326.80" font-size="10.23" textLength="13.60" lengthAdjust="spacingAndGlyphs">0.0</text>
<text x="88.00" y="328.70" font-size="10.23" textLength="13.20" lengthAdjust="spacingAndGlyphs">0.5</text>
<text x="137.90" y="331.30" font-size="10.23" textLength="12.40" lengthAdjust="spacingAndGlyphs">1.0</text>
<line x1="149.00" y1="317.80" x2="192.87" y2="292.79" stroke="#9a9a9a" stroke-width="0.8" />
<line x1="150.80" y1="318.30" x2="153.90" y2="318.50" stroke="#8a8a8a" stroke-width="0.6" />
<line x1="157.50" y1="315.30" x2="160.60" y2="315.50" stroke="#8a8a8a" stroke-width="0.6" />
<line x1="164.90" y1="311.60" x2="168.00" y2="311.80" stroke="#8a8a8a" stroke-width="0.6" />
<line x1="173.40" y1="305.90" x2="176.50" y2="306.10" stroke="#8a8a8a" stroke-width="0.6" />
<line x1="189.20" y1="296.60" x2="192.30" y2="296.80" stroke="#8a8a8a" stroke-width="0.6" />
<text x="198.00" y="304.00" font-size="9.24" textLength="4.00" lengthAdjust="spacingAndGlyphs">1</text>
<text x="182.50" y="313.30" font-size="9.24" textLength="4.40" lengthAdjust="spacingAndGlyphs">2</text>
<text x="173.00" y="319.00" font-size="9.46" textLength="5.00" lengthAdjust="spacingAndGlyphs">3</text>
<text x="166.30" y="323.20" font-size="10.12" textLength="5.60" lengthAdjust="spacingAndGlyphs">4</text>
<text x="159.40" y="326.00" font-size="9.24" textLength="6.60" lengthAdjust="spacingAndGlyphs">∞</text>
<text x="181.30" y="329.80" font-size="11.22" textLength="6.80" lengthAdjust="spacingAndGlyphs">A</text>
<text x="188.60" y="331.00" font-size="5.8" textLength="16.00" lengthAdjust="spacingAndGlyphs" transform="rotate(-34 188.60 331.0)">shape</text>
<text x="174.80" y="349.00" font-size="9.4" textLength="54" lengthAdjust="spacingAndGlyphs" transform="rotate(-29 174.80 349.0)">(<tspan font-family="Liberation Serif, serif" font-style="italic" font-weight="bold" font-size="10">Ω</tspan><tspan font-size="5.8" dy="1.6">shape</tspan><tspan dy="-1.6">/</tspan><tspan font-family="Liberation Serif, serif" font-style="italic" font-weight="bold" font-size="10">Ω</tspan><tspan font-size="5.8" dy="1.6">min</tspan><tspan dy="-1.6">)</tspan></text>
<text x="59.30" y="348.50" font-size="10.23" textLength="52.40" lengthAdjust="spacingAndGlyphs">Time (norm.)</text>
<text x="16.00" y="287.00" font-size="9.3" transform="rotate(-90 16.00 287.0)" textLength="42.5" lengthAdjust="spacingAndGlyphs"><tspan font-family="Liberation Serif, serif" font-style="italic" font-weight="bold" font-size="10.5">Ω</tspan><tspan font-size="6" dy="1.8">S</tspan><tspan dy="-1.8"> (norm.)</tspan></text>
<text x="35.70" y="198.70" font-size="11.0" fill="#a6b3d6" textLength="23.60" lengthAdjust="spacingAndGlyphs">SATD</text>
<polyline points="48.00,310.06 48.10,310.03 48.20,309.99 48.25,309.97 48.31,309.95 48.41,309.90 48.51,309.84 48.51,309.83 48.61,309.76 48.72,309.67 48.76,309.63 48.82,309.57 48.92,309.46 49.01,309.33 49.02,309.32 49.13,309.16 49.23,308.97 49.27,308.90 49.33,308.76 49.43,308.51 49.52,308.27 49.53,308.22 49.64,307.89 49.74,307.50 49.77,307.36 49.84,307.05 49.94,306.54 50.03,306.08 50.05,305.96 50.15,305.29 50.25,304.52 50.28,304.29 50.35,303.65 50.45,302.66 50.53,301.83 50.56,301.54 50.66,300.28 50.76,298.87 50.78,298.53 50.86,297.29 50.97,295.55 51.04,294.22 51.07,293.62 51.17,291.51 51.27,289.21 51.29,288.80 51.38,286.74 51.48,284.09 51.54,282.29 51.58,281.29 51.68,278.35 51.78,275.29 51.80,274.90 51.89,272.15 51.99,268.96 52.05,267.03 52.09,265.74 52.19,262.55 52.30,259.41 52.30,259.18 52.40,256.35 52.50,253.41 52.56,251.85 52.60,250.61 52.70,247.96 52.81,245.49 52.81,245.43 52.91,243.19 53.01,241.08 53.06,240.10 53.11,239.15 53.22,237.41 53.32,235.87 53.32,235.83 53.42,234.42 53.52,233.16 53.57,232.64 53.63,232.04 53.73,231.05 53.82,230.24 53.83,230.18 53.93,229.41 54.03,228.74 54.08,228.50 54.14,228.16 54.24,227.65 54.33,227.25 54.34,227.20 54.44,226.81 54.55,226.48 54.58,226.37 54.65,226.19 54.75,225.94 54.83,225.76 54.85,225.73 54.95,225.54 55.06,225.38 55.09,225.34 55.16,225.24 55.26,225.13 55.34,225.05 55.36,225.03 55.47,224.94 55.57,224.87 55.59,224.85 55.67,224.80 55.77,224.75 55.85,224.72 55.88,224.71 55.98,224.67 56.08,224.64 56.10,224.64 56.35,224.58 56.61,224.55 56.86,224.54 57.11,224.53 57.37,224.53 57.62,224.54 57.87,224.55 58.13,224.56 58.38,224.58 58.63,224.60 58.88,224.61 59.14,224.63 59.39,224.65 59.64,224.67 59.90,224.68 60.15,224.70 60.40,224.72 60.66,224.74 60.91,224.76 61.16,224.78 61.42,224.80 61.67,224.82 61.92,224.83 62.18,224.85 62.43,224.87 62.68,224.89 62.93,224.91 63.19,224.93 63.44,224.95 63.69,224.97 63.95,224.98 64.20,225.00 64.45,225.02 64.71,225.04 64.96,225.06 65.21,225.08 65.47,225.10 65.72,225.12 65.97,225.13 66.23,225.15 66.48,225.17 66.73,225.19 66.98,225.21 67.24,225.23 67.49,225.25 67.74,225.27 68.00,225.28 68.25,225.30 68.50,225.32 68.76,225.34 69.01,225.36 69.26,225.38 69.52,225.40 69.77,225.42 70.02,225.44 70.28,225.45 70.53,225.47 70.78,225.49 71.04,225.51 71.29,225.53 71.54,225.55 71.79,225.57 72.05,225.59 72.30,225.60 72.55,225.62 72.81,225.64 73.06,225.66 73.31,225.68 73.57,225.70 73.82,225.72 74.07,225.74 74.33,225.75 74.58,225.77 74.83,225.79 75.09,225.81 75.34,225.83 75.59,225.85 75.84,225.87 76.10,225.89 76.35,225.91 76.60,225.92 76.86,225.94 77.11,225.96 77.36,225.98 77.62,226.00 77.87,226.02 78.12,226.04 78.38,226.06 78.63,226.07 78.88,226.09 79.14,226.11 79.39,226.13 79.64,226.15 79.89,226.17 80.15,226.19 80.40,226.21 80.65,226.22 80.91,226.24 81.16,226.26 81.41,226.28 81.67,226.30 81.92,226.32 82.17,226.34 82.43,226.36 82.68,226.38 82.93,226.39 83.19,226.41 83.44,226.43 83.69,226.45 83.94,226.47 84.20,226.49 84.45,226.51 84.70,226.53 84.96,226.54 85.21,226.56 85.46,226.58 85.72,226.60 85.97,226.62 86.22,226.64 86.48,226.66 86.73,226.68 86.98,226.69 87.24,226.71 87.49,226.73 87.74,226.75 87.99,226.77 88.25,226.79 88.50,226.81 88.75,226.85 89.01,226.91 89.26,227.01 89.51,227.14 89.77,227.29 90.02,227.47 90.27,227.69 90.53,227.93 90.78,228.20 91.03,228.50 91.29,228.82 91.54,229.18 91.79,229.56 92.05,229.97 92.30,230.40 92.55,230.86 92.80,231.35 93.06,231.86 93.31,232.40 93.56,232.96 93.82,233.54 94.07,234.15 94.32,234.78 94.58,235.43 94.83,236.11 95.08,236.80 95.34,237.52 95.59,238.25 95.84,239.00 96.10,239.77 96.35,240.56 96.60,241.37 96.85,242.19 97.11,243.03 97.36,243.88 97.61,244.74 97.87,245.62 98.12,246.51 98.37,247.41 98.63,248.32 98.88,249.25 99.13,250.18 99.39,251.12 99.64,252.07 99.89,253.02 100.15,253.98 100.40,254.95 100.65,255.92 100.90,256.90 101.16,257.88 101.41,258.86 101.66,259.85 101.92,260.84 102.17,261.82 102.42,262.81 102.68,263.80 102.93,264.78 103.18,265.76 103.44,266.75 103.69,267.72 103.94,268.70 104.20,269.67 104.45,270.63 104.70,271.59 104.95,272.54 105.21,273.49 105.46,274.43 105.71,275.37 105.97,276.29 106.22,277.21 106.47,278.12 106.73,279.02 106.98,279.91 107.23,280.79 107.49,281.66 107.74,282.52 107.99,283.37 108.25,284.20 108.50,285.03 108.75,285.85 109.01,286.65 109.26,287.44 109.51,288.22 109.76,288.99 110.02,289.74 110.27,290.49 110.52,291.22 110.78,291.93 111.03,292.64 111.28,293.33 111.54,294.00 111.79,294.67 112.04,295.32 112.30,295.96 112.55,296.58 112.80,297.20 113.06,297.80 113.31,298.38 113.56,298.95 113.81,299.51 114.07,300.06 114.32,300.60 114.57,301.12 114.83,301.63 115.08,302.12 115.33,302.61 115.59,303.08 115.84,303.54 116.09,303.99 116.35,304.42 116.60,304.85 116.85,305.26 117.11,305.66 117.36,306.05 117.61,306.43 117.86,306.80 118.12,307.15 118.37,307.50 118.62,307.84 118.88,308.16 119.13,308.48 119.38,308.79 119.64,309.08 119.89,309.37 120.14,309.65 120.40,309.92 120.65,310.18 120.90,310.44 121.16,310.68 121.41,310.92 121.66,311.15 121.91,311.37 122.17,311.58 122.42,311.79 122.67,311.99 122.93,312.18 123.18,312.37 123.43,312.55 123.69,312.72 123.94,312.89 124.19,313.05 124.45,313.21 124.70,313.36 124.95,313.50 125.21,313.64 125.46,313.78 125.71,313.91 125.96,314.03 126.22,314.15 126.47,314.27 126.72,314.38 126.98,314.49 127.23,314.59 127.48,314.69 127.74,314.79 127.99,314.88 128.24,314.97 128.50,315.06 128.75,315.14 129.00,315.22 129.26,315.30 129.51,315.37 129.76,315.44 130.02,315.51 130.27,315.58 130.52,315.64 130.77,315.70 131.03,315.76 131.28,315.82 131.53,315.88 131.79,315.93 132.04,315.98 132.29,316.04 132.55,316.08 132.80,316.13 133.05,316.18 133.31,316.22 133.56,316.26 133.81,316.31 134.07,316.35 134.32,316.39 134.57,316.42 134.82,316.46 135.08,316.50 135.33,316.53 135.58,316.57 135.84,316.60 136.09,316.63 136.34,316.66 136.60,316.70 136.85,316.73 137.10,316.76 137.36,316.78 137.61,316.81 137.86,316.84 138.12,316.87 138.37,316.90 138.62,316.92 138.87,316.95 139.13,316.97 139.38,317.00 139.63,317.02 139.89,317.05 140.14,317.07 140.39,317.09 140.65,317.12 140.90,317.14 141.15,317.16 141.41,317.19 141.66,317.21 141.91,317.23 142.17,317.25 142.42,317.27 142.67,317.30 142.92,317.32 143.18,317.34 143.43,317.36 143.68,317.38 143.94,317.40 144.19,317.42 144.44,317.44 144.70,317.46 144.95,317.48 145.20,317.50 145.46,317.52 145.71,317.54 145.96,317.56 146.22,317.58 146.47,317.60 146.72,317.62 146.97,317.64 147.23,317.66 147.48,317.68 147.73,317.70 147.99,317.72 148.24,317.74 148.49,317.76 148.75,317.78 149.00,317.79" fill="none" stroke="#a3243c" stroke-width="1.25" stroke-linejoin="round" stroke-linecap="round" />
<polyline points="53.35,307.01 53.45,306.98 53.55,306.94 53.60,306.92 53.66,306.90 53.76,306.85 53.86,306.79 53.86,306.78 53.96,306.71 54.07,306.62 54.11,306.58 54.17,306.52 54.27,306.41 54.36,306.28 54.37,306.27 54.48,306.11 54.58,305.92 54.62,305.85 54.68,305.71 54.78,305.46 54.87,305.22 54.88,305.17 54.99,304.84 55.09,304.45 55.12,304.31 55.19,304.00 55.29,303.49 55.38,303.03 55.40,302.91 55.50,302.24 55.60,301.47 55.63,301.24 55.70,300.60 55.80,299.61 55.88,298.78 55.91,298.49 56.01,297.23 56.11,295.82 56.13,295.48 56.21,294.24 56.32,292.50 56.39,291.17 56.42,290.57 56.52,288.46 56.62,286.16 56.64,285.75 56.73,283.69 56.83,281.04 56.89,279.24 56.93,278.24 57.03,275.30 57.13,272.24 57.15,271.85 57.24,269.10 57.34,265.91 57.40,263.98 57.44,262.69 57.54,259.50 57.65,256.36 57.65,256.13 57.75,253.30 57.85,250.36 57.91,248.80 57.95,247.56 58.05,244.91 58.16,242.44 58.16,242.38 58.26,240.14 58.36,238.03 58.41,237.05 58.46,236.10 58.57,234.36 58.67,232.82 58.67,232.78 58.77,231.37 58.87,230.11 58.92,229.59 58.98,228.99 59.08,228.00 59.17,227.19 59.18,227.13 59.28,226.36 59.38,225.69 59.43,225.45 59.49,225.11 59.59,224.60 59.68,224.20 59.69,224.15 59.79,223.76 59.90,223.43 59.93,223.32 60.00,223.14 60.10,222.89 60.18,222.71 60.20,222.68 60.30,222.49 60.41,222.33 60.44,222.29 60.51,222.19 60.61,222.08 60.69,222.00 60.71,221.98 60.82,221.89 60.92,221.82 60.94,221.80 61.02,221.75 61.12,221.70 61.20,221.67 61.23,221.66 61.33,221.62 61.43,221.59 61.45,221.59 61.70,221.53 61.96,221.50 62.21,221.49 62.46,221.48 62.72,221.48 62.97,221.49 63.22,221.50 63.48,221.51 63.73,221.53 63.98,221.55 64.23,221.56 64.49,221.58 64.74,221.60 64.99,221.62 65.25,221.63 65.50,221.65 65.75,221.67 66.01,221.69 66.26,221.71 66.51,221.73 66.77,221.75 67.02,221.77 67.27,221.78 67.53,221.80 67.78,221.82 68.03,221.84 68.28,221.86 68.54,221.88 68.79,221.90 69.04,221.92 69.30,221.93 69.55,221.95 69.80,221.97 70.06,221.99 70.31,222.01 70.56,222.03 70.82,222.05 71.07,222.07 71.32,222.08 71.58,222.10 71.83,222.12 72.08,222.14 72.33,222.16 72.59,222.18 72.84,222.20 73.09,222.22 73.35,222.23 73.60,222.25 73.85,222.27 74.11,222.29 74.36,222.31 74.61,222.33 74.87,222.35 75.12,222.37 75.37,222.39 75.63,222.40 75.88,222.42 76.13,222.44 76.39,222.46 76.64,222.48 76.89,222.50 77.14,222.52 77.40,222.54 77.65,222.55 77.90,222.57 78.16,222.59 78.41,222.61 78.66,222.63 78.92,222.65 79.17,222.67 79.42,222.69 79.68,222.70 79.93,222.72 80.18,222.74 80.44,222.76 80.69,222.78 80.94,222.80 81.19,222.82 81.45,222.83 81.70,222.85 81.95,222.87 82.21,222.89 82.46,222.91 82.71,222.93 82.97,222.94 83.22,222.96 83.47,222.98 83.73,223.00 83.98,223.02 84.23,223.03 84.49,223.05 84.74,223.07 84.99,223.09 85.24,223.11 85.50,223.12 85.75,223.14 86.00,223.16 86.26,223.17 86.51,223.19 86.76,223.21 87.02,223.22 87.27,223.24 87.52,223.26 87.78,223.27 88.03,223.29 88.28,223.30 88.54,223.32 88.79,223.33 89.04,223.35 89.29,223.36 89.55,223.37 89.80,223.39 90.05,223.40 90.31,223.42 90.56,223.46 90.81,223.52 91.07,223.59 91.32,223.69 91.57,223.81 91.83,223.95 92.08,224.10 92.33,224.28 92.59,224.47 92.84,224.68 93.09,224.91 93.34,225.16 93.60,225.43 93.85,225.72 94.10,226.02 94.36,226.34 94.61,226.68 94.86,227.03 95.12,227.40 95.37,227.79 95.62,228.19 95.88,228.61 96.13,229.05 96.38,229.50 96.64,229.96 96.89,230.44 97.14,230.94 97.40,231.44 97.65,231.96 97.90,232.50 98.15,233.04 98.41,233.60 98.66,234.17 98.91,234.75 99.17,235.34 99.42,235.95 99.67,236.56 99.93,237.18 100.18,237.81 100.43,238.45 100.69,239.10 100.94,239.76 101.19,240.43 101.45,241.10 101.70,241.78 101.95,242.46 102.20,243.16 102.46,243.85 102.71,244.56 102.96,245.27 103.22,245.98 103.47,246.70 103.72,247.42 103.98,248.15 104.23,248.88 104.48,249.61 104.74,250.34 104.99,251.08 105.24,251.82 105.50,252.56 105.75,253.30 106.00,254.05 106.25,254.79 106.51,255.54 106.76,256.29 107.01,257.04 107.27,257.78 107.52,258.53 107.77,259.28 108.03,260.03 108.28,260.77 108.53,261.52 108.79,262.26 109.04,263.00 109.29,263.74 109.55,264.48 109.80,265.22 110.05,265.96 110.30,266.69 110.56,267.43 110.81,268.16 111.06,268.88 111.32,269.61 111.57,270.33 111.82,271.05 112.08,271.76 112.33,272.48 112.58,273.19 112.84,273.89 113.09,274.60 113.34,275.30 113.60,275.99 113.85,276.68 114.10,277.37 114.36,278.05 114.61,278.73 114.86,279.41 115.11,280.07 115.37,280.74 115.62,281.39 115.87,282.05 116.13,282.69 116.38,283.33 116.63,283.96 116.89,284.59 117.14,285.21 117.39,285.83 117.65,286.44 117.90,287.04 118.15,287.63 118.41,288.22 118.66,288.80 118.91,289.38 119.16,289.95 119.42,290.51 119.67,291.06 119.92,291.60 120.18,292.14 120.43,292.67 120.68,293.20 120.94,293.71 121.19,294.22 121.44,294.72 121.70,295.22 121.95,295.70 122.20,296.18 122.46,296.65 122.71,297.11 122.96,297.57 123.21,298.01 123.47,298.45 123.72,298.88 123.97,299.30 124.23,299.72 124.48,300.12 124.73,300.52 124.99,300.91 125.24,301.30 125.49,301.67 125.75,302.04 126.00,302.40 126.25,302.75 126.51,303.09 126.76,303.43 127.01,303.76 127.26,304.08 127.52,304.39 127.77,304.70 128.02,305.00 128.28,305.29 128.53,305.57 128.78,305.85 129.04,306.12 129.29,306.39 129.54,306.64 129.80,306.89 130.05,307.13 130.30,307.37 130.56,307.60 130.81,307.82 131.06,308.04 131.31,308.25 131.57,308.46 131.82,308.66 132.07,308.85 132.33,309.04 132.58,309.22 132.83,309.40 133.09,309.57 133.34,309.74 133.59,309.90 133.85,310.05 134.10,310.21 134.35,310.35 134.61,310.49 134.86,310.63 135.11,310.77 135.37,310.89 135.62,311.02 135.87,311.14 136.12,311.26 136.38,311.37 136.63,311.48 136.88,311.59 137.14,311.69 137.39,311.79 137.64,311.89 137.90,311.98 138.15,312.07 138.40,312.16 138.66,312.24 138.91,312.32 139.16,312.40 139.42,312.48 139.67,312.55 139.92,312.62 140.17,312.69 140.43,312.76 140.68,312.82 140.93,312.89 141.19,312.95 141.44,313.01 141.69,313.06 141.95,313.12 142.20,313.17 142.45,313.23 142.71,313.28 142.96,313.33 143.21,313.37 143.47,313.42 143.72,313.46 143.97,313.51 144.22,313.55 144.48,313.59 144.73,313.63 144.98,313.67 145.24,313.71 145.49,313.75 145.74,313.79 146.00,313.82 146.25,313.86 146.50,313.89 146.76,313.92 147.01,313.96 147.26,313.99 147.52,314.02 147.77,314.05 148.02,314.08 148.27,314.11 148.53,314.14 148.78,314.17 149.03,314.20 149.29,314.22 149.54,314.25 149.79,314.28 150.05,314.30 150.30,314.33 150.55,314.35 150.81,314.38 151.06,314.40 151.31,314.43 151.57,314.45 151.82,314.48 152.07,314.50 152.32,314.52 152.58,314.55 152.83,314.57 153.08,314.59 153.34,314.62 153.59,314.64 153.84,314.66 154.10,314.68 154.35,314.70" fill="none" stroke="#d63b34" stroke-width="1.25" stroke-linejoin="round" stroke-linecap="round" />
<polyline points="58.70,303.96 58.80,303.93 58.90,303.89 58.95,303.87 59.01,303.85 59.11,303.80 59.21,303.74 59.21,303.73 59.31,303.66 59.42,303.57 59.46,303.53 59.52,303.47 59.62,303.36 59.71,303.23 59.72,303.22 59.83,303.06 59.93,302.87 59.97,302.80 60.03,302.66 60.13,302.41 60.22,302.17 60.23,302.12 60.34,301.79 60.44,301.40 60.47,301.26 60.54,300.95 60.64,300.44 60.73,299.98 60.75,299.86 60.85,299.19 60.95,298.42 60.98,298.19 61.05,297.55 61.15,296.56 61.23,295.73 61.26,295.44 61.36,294.18 61.46,292.77 61.48,292.43 61.56,291.19 61.67,289.45 61.74,288.12 61.77,287.52 61.87,285.41 61.97,283.11 61.99,282.70 62.08,280.64 62.18,277.99 62.24,276.19 62.28,275.19 62.38,272.25 62.48,269.19 62.50,268.80 62.59,266.05 62.69,262.86 62.75,260.93 62.79,259.64 62.89,256.45 63.00,253.31 63.00,253.08 63.10,250.25 63.20,247.31 63.26,245.75 63.30,244.51 63.40,241.86 63.51,239.39 63.51,239.33 63.61,237.09 63.71,234.98 63.76,234.00 63.81,233.05 63.92,231.31 64.02,229.77 64.02,229.73 64.12,228.32 64.22,227.06 64.27,226.54 64.33,225.94 64.43,224.95 64.52,224.14 64.53,224.08 64.63,223.31 64.73,222.64 64.78,222.40 64.84,222.06 64.94,221.55 65.03,221.15 65.04,221.10 65.14,220.71 65.25,220.38 65.28,220.27 65.35,220.09 65.45,219.84 65.53,219.66 65.55,219.63 65.65,219.44 65.76,219.28 65.79,219.24 65.86,219.14 65.96,219.03 66.04,218.95 66.06,218.93 66.17,218.84 66.27,218.77 66.29,218.75 66.37,218.70 66.47,218.65 66.55,218.62 66.58,218.61 66.68,218.57 66.78,218.54 66.80,218.54 67.05,218.48 67.31,218.45 67.56,218.44 67.81,218.43 68.07,218.43 68.32,218.44 68.57,218.45 68.83,218.46 69.08,218.48 69.33,218.50 69.58,218.51 69.84,218.53 70.09,218.55 70.34,218.57 70.60,218.58 70.85,218.60 71.10,218.62 71.36,218.64 71.61,218.66 71.86,218.68 72.12,218.70 72.37,218.72 72.62,218.73 72.88,218.75 73.13,218.77 73.38,218.79 73.63,218.81 73.89,218.83 74.14,218.85 74.39,218.87 74.65,218.88 74.90,218.90 75.15,218.92 75.41,218.94 75.66,218.96 75.91,218.98 76.17,219.00 76.42,219.02 76.67,219.03 76.93,219.05 77.18,219.07 77.43,219.09 77.68,219.11 77.94,219.13 78.19,219.15 78.44,219.17 78.70,219.18 78.95,219.20 79.20,219.22 79.46,219.24 79.71,219.26 79.96,219.28 80.22,219.30 80.47,219.32 80.72,219.33 80.98,219.35 81.23,219.37 81.48,219.39 81.74,219.41 81.99,219.43 82.24,219.45 82.49,219.47 82.75,219.48 83.00,219.50 83.25,219.52 83.51,219.54 83.76,219.56 84.01,219.58 84.27,219.59 84.52,219.61 84.77,219.63 85.03,219.65 85.28,219.67 85.53,219.69 85.79,219.70 86.04,219.72 86.29,219.74 86.54,219.76 86.80,219.77 87.05,219.79 87.30,219.81 87.56,219.83 87.81,219.84 88.06,219.86 88.32,219.88 88.57,219.89 88.82,219.91 89.08,219.93 89.33,219.94 89.58,219.96 89.84,219.97 90.09,219.99 90.34,220.00 90.59,220.01 90.85,220.03 91.10,220.04 91.35,220.05 91.61,220.07 91.86,220.08 92.11,220.09 92.37,220.10 92.62,220.11 92.87,220.12 93.13,220.14 93.38,220.18 93.63,220.24 93.89,220.31 94.14,220.39 94.39,220.49 94.64,220.61 94.90,220.74 95.15,220.88 95.40,221.04 95.66,221.21 95.91,221.39 96.16,221.59 96.42,221.81 96.67,222.03 96.92,222.27 97.18,222.52 97.43,222.79 97.68,223.06 97.94,223.35 98.19,223.66 98.44,223.97 98.69,224.29 98.95,224.63 99.20,224.98 99.45,225.33 99.71,225.70 99.96,226.08 100.21,226.47 100.47,226.87 100.72,227.27 100.97,227.69 101.23,228.11 101.48,228.55 101.73,228.99 101.99,229.44 102.24,229.89 102.49,230.36 102.75,230.83 103.00,231.30 103.25,231.79 103.50,232.28 103.76,232.77 104.01,233.27 104.26,233.78 104.52,234.29 104.77,234.81 105.02,235.33 105.28,235.85 105.53,236.38 105.78,236.92 106.04,237.45 106.29,237.99 106.54,238.54 106.80,239.09 107.05,239.64 107.30,240.19 107.55,240.75 107.81,241.31 108.06,241.87 108.31,242.44 108.57,243.00 108.82,243.57 109.07,244.15 109.33,244.72 109.58,245.30 109.83,245.88 110.09,246.46 110.34,247.04 110.59,247.63 110.85,248.22 111.10,248.81 111.35,249.40 111.60,250.00 111.86,250.60 112.11,251.20 112.36,251.80 112.62,252.41 112.87,253.02 113.12,253.63 113.38,254.24 113.63,254.86 113.88,255.48 114.14,256.10 114.39,256.73 114.64,257.35 114.90,257.98 115.15,258.62 115.40,259.25 115.65,259.89 115.91,260.53 116.16,261.17 116.41,261.82 116.67,262.47 116.92,263.12 117.17,263.77 117.43,264.43 117.68,265.09 117.93,265.74 118.19,266.41 118.44,267.07 118.69,267.74 118.95,268.40 119.20,269.07 119.45,269.74 119.71,270.42 119.96,271.09 120.21,271.76 120.46,272.43 120.72,273.11 120.97,273.78 121.22,274.45 121.48,275.12 121.73,275.79 121.98,276.46 122.24,277.13 122.49,277.79 122.74,278.46 123.00,279.12 123.25,279.77 123.50,280.42 123.76,281.07 124.01,281.72 124.26,282.36 124.51,282.99 124.77,283.62 125.02,284.24 125.27,284.86 125.53,285.47 125.78,286.08 126.03,286.68 126.29,287.27 126.54,287.85 126.79,288.43 127.05,289.00 127.30,289.56 127.55,290.11 127.81,290.65 128.06,291.19 128.31,291.72 128.56,292.24 128.82,292.74 129.07,293.24 129.32,293.73 129.58,294.22 129.83,294.69 130.08,295.15 130.34,295.60 130.59,296.05 130.84,296.48 131.10,296.91 131.35,297.32 131.60,297.73 131.86,298.12 132.11,298.51 132.36,298.89 132.61,299.26 132.87,299.61 133.12,299.96 133.37,300.31 133.63,300.64 133.88,300.96 134.13,301.28 134.39,301.58 134.64,301.88 134.89,302.17 135.15,302.45 135.40,302.73 135.65,302.99 135.91,303.25 136.16,303.51 136.41,303.75 136.66,303.99 136.92,304.22 137.17,304.44 137.42,304.66 137.68,304.87 137.93,305.07 138.18,305.27 138.44,305.46 138.69,305.65 138.94,305.83 139.20,306.01 139.45,306.18 139.70,306.34 139.96,306.50 140.21,306.66 140.46,306.81 140.72,306.96 140.97,307.10 141.22,307.24 141.47,307.37 141.73,307.50 141.98,307.63 142.23,307.75 142.49,307.87 142.74,307.98 142.99,308.09 143.25,308.20 143.50,308.31 143.75,308.41 144.01,308.51 144.26,308.60 144.51,308.70 144.77,308.79 145.02,308.88 145.27,308.96 145.52,309.05 145.78,309.13 146.03,309.21 146.28,309.28 146.54,309.36 146.79,309.43 147.04,309.50 147.30,309.57 147.55,309.64 147.80,309.70 148.06,309.77 148.31,309.83 148.56,309.89 148.82,309.95 149.07,310.00 149.32,310.06 149.57,310.11 149.83,310.17 150.08,310.22 150.33,310.27 150.59,310.32 150.84,310.37 151.09,310.41 151.35,310.46 151.60,310.50 151.85,310.55 152.11,310.59 152.36,310.63 152.61,310.67 152.87,310.71 153.12,310.75 153.37,310.79 153.62,310.83 153.88,310.87 154.13,310.90 154.38,310.94 154.64,310.97 154.89,311.01 155.14,311.04 155.40,311.08 155.65,311.11 155.90,311.14 156.16,311.17 156.41,311.20 156.66,311.23 156.92,311.26 157.17,311.29 157.42,311.32 157.67,311.35 157.93,311.38 158.18,311.40 158.43,311.43 158.69,311.46 158.94,311.49 159.19,311.51 159.45,311.54 159.70,311.56" fill="none" stroke="#ee714c" stroke-width="1.25" stroke-linejoin="round" stroke-linecap="round" />
<polyline points="64.05,300.91 64.15,300.88 64.25,300.84 64.30,300.82 64.36,300.80 64.46,300.75 64.56,300.69 64.56,300.68 64.66,300.61 64.77,300.52 64.81,300.48 64.87,300.42 64.97,300.31 65.06,300.18 65.07,300.17 65.18,300.01 65.28,299.82 65.32,299.75 65.38,299.61 65.48,299.36 65.57,299.12 65.58,299.07 65.69,298.74 65.79,298.35 65.82,298.21 65.89,297.90 65.99,297.39 66.08,296.93 66.10,296.81 66.20,296.14 66.30,295.37 66.33,295.14 66.40,294.50 66.50,293.51 66.58,292.68 66.61,292.39 66.71,291.13 66.81,289.72 66.83,289.38 66.91,288.14 67.02,286.40 67.09,285.07 67.12,284.47 67.22,282.36 67.32,280.06 67.34,279.65 67.43,277.59 67.53,274.94 67.59,273.14 67.63,272.14 67.73,269.20 67.83,266.14 67.85,265.75 67.94,263.00 68.04,259.81 68.10,257.88 68.14,256.59 68.24,253.40 68.35,250.26 68.35,250.03 68.45,247.20 68.55,244.26 68.61,242.70 68.65,241.46 68.75,238.81 68.86,236.34 68.86,236.28 68.96,234.04 69.06,231.93 69.11,230.95 69.16,230.00 69.27,228.26 69.37,226.72 69.37,226.68 69.47,225.27 69.57,224.01 69.62,223.49 69.68,222.89 69.78,221.90 69.87,221.09 69.88,221.03 69.98,220.26 70.08,219.59 70.13,219.35 70.19,219.01 70.29,218.50 70.38,218.10 70.39,218.05 70.49,217.66 70.60,217.33 70.63,217.22 70.70,217.04 70.80,216.79 70.88,216.61 70.90,216.58 71.00,216.39 71.11,216.23 71.14,216.19 71.21,216.09 71.31,215.98 71.39,215.90 71.41,215.88 71.52,215.79 71.62,215.72 71.64,215.70 71.72,215.65 71.82,215.60 71.90,215.57 71.93,215.56 72.03,215.52 72.13,215.49 72.15,215.49 72.40,215.43 72.66,215.40 72.91,215.39 73.16,215.38 73.42,215.38 73.67,215.39 73.92,215.40 74.18,215.41 74.43,215.43 74.68,215.45 74.93,215.46 75.19,215.48 75.44,215.50 75.69,215.52 75.95,215.53 76.20,215.55 76.45,215.57 76.71,215.59 76.96,215.61 77.21,215.63 77.47,215.65 77.72,215.67 77.97,215.68 78.23,215.70 78.48,215.72 78.73,215.74 78.98,215.76 79.24,215.78 79.49,215.80 79.74,215.82 80.00,215.83 80.25,215.85 80.50,215.87 80.76,215.89 81.01,215.91 81.26,215.93 81.52,215.95 81.77,215.97 82.02,215.98 82.28,216.00 82.53,216.02 82.78,216.04 83.03,216.06 83.29,216.08 83.54,216.10 83.79,216.12 84.05,216.13 84.30,216.15 84.55,216.17 84.81,216.19 85.06,216.21 85.31,216.23 85.57,216.25 85.82,216.27 86.07,216.28 86.33,216.30 86.58,216.32 86.83,216.34 87.09,216.36 87.34,216.38 87.59,216.40 87.84,216.41 88.10,216.43 88.35,216.45 88.60,216.47 88.86,216.49 89.11,216.51 89.36,216.53 89.62,216.54 89.87,216.56 90.12,216.58 90.38,216.60 90.63,216.62 90.88,216.63 91.14,216.65 91.39,216.67 91.64,216.69 91.89,216.71 92.15,216.72 92.40,216.74 92.65,216.76 92.91,216.77 93.16,216.79 93.41,216.81 93.67,216.82 93.92,216.84 94.17,216.85 94.43,216.87 94.68,216.88 94.93,216.90 95.19,216.91 95.44,216.93 95.69,216.94 95.94,216.95 96.20,216.96 96.45,216.98 96.70,216.99 96.96,217.03 97.21,217.08 97.46,217.14 97.72,217.22 97.97,217.31 98.22,217.42 98.48,217.54 98.73,217.68 98.98,217.83 99.24,217.99 99.49,218.17 99.74,218.37 99.99,218.57 100.25,218.79 100.50,219.02 100.75,219.27 101.01,219.53 101.26,219.80 101.51,220.08 101.77,220.38 102.02,220.69 102.27,221.00 102.53,221.33 102.78,221.67 103.03,222.02 103.29,222.38 103.54,222.75 103.79,223.13 104.04,223.52 104.30,223.91 104.55,224.32 104.80,224.73 105.06,225.15 105.31,225.58 105.56,226.01 105.82,226.45 106.07,226.90 106.32,227.35 106.58,227.81 106.83,228.27 107.08,228.73 107.34,229.20 107.59,229.68 107.84,230.15 108.10,230.63 108.35,231.12 108.60,231.60 108.85,232.09 109.11,232.57 109.36,233.06 109.61,233.55 109.87,234.04 110.12,234.53 110.37,235.02 110.63,235.52 110.88,236.01 111.13,236.50 111.39,236.98 111.64,237.47 111.89,237.96 112.15,238.45 112.40,238.93 112.65,239.41 112.90,239.89 113.16,240.37 113.41,240.85 113.66,241.33 113.92,241.81 114.17,242.28 114.42,242.75 114.68,243.23 114.93,243.70 115.18,244.17 115.44,244.63 115.69,245.10 115.94,245.57 116.20,246.04 116.45,246.50 116.70,246.97 116.95,247.44 117.21,247.91 117.46,248.38 117.71,248.85 117.97,249.32 118.22,249.79 118.47,250.27 118.73,250.75 118.98,251.23 119.23,251.71 119.49,252.20 119.74,252.69 119.99,253.18 120.25,253.68 120.50,254.19 120.75,254.70 121.00,255.21 121.26,255.73 121.51,256.25 121.76,256.78 122.02,257.32 122.27,257.86 122.52,258.40 122.78,258.96 123.03,259.52 123.28,260.08 123.54,260.66 123.79,261.24 124.04,261.82 124.30,262.41 124.55,263.01 124.80,263.63 125.06,264.26 125.31,264.90 125.56,265.55 125.81,266.22 126.07,266.90 126.32,267.59 126.57,268.29 126.83,269.00 127.08,269.72 127.33,270.45 127.59,271.18 127.84,271.93 128.09,272.68 128.35,273.43 128.60,274.18 128.85,274.94 129.11,275.71 129.36,276.47 129.61,277.23 129.86,277.99 130.12,278.75 130.37,279.51 130.62,280.26 130.88,281.00 131.13,281.74 131.38,282.48 131.64,283.20 131.89,283.92 132.14,284.63 132.40,285.32 132.65,286.01 132.90,286.69 133.16,287.35 133.41,288.00 133.66,288.64 133.91,289.26 134.17,289.87 134.42,290.47 134.67,291.05 134.93,291.62 135.18,292.18 135.43,292.71 135.69,293.24 135.94,293.75 136.19,294.24 136.45,294.72 136.70,295.18 136.95,295.63 137.21,296.07 137.46,296.49 137.71,296.90 137.96,297.29 138.22,297.67 138.47,298.04 138.72,298.40 138.98,298.74 139.23,299.07 139.48,299.39 139.74,299.69 139.99,299.99 140.24,300.27 140.50,300.54 140.75,300.81 141.00,301.06 141.26,301.31 141.51,301.54 141.76,301.77 142.01,301.99 142.27,302.20 142.52,302.40 142.77,302.60 143.03,302.78 143.28,302.97 143.53,303.14 143.79,303.31 144.04,303.47 144.29,303.63 144.55,303.78 144.80,303.93 145.05,304.07 145.31,304.21 145.56,304.34 145.81,304.47 146.07,304.59 146.32,304.71 146.57,304.83 146.82,304.94 147.08,305.05 147.33,305.15 147.58,305.25 147.84,305.35 148.09,305.45 148.34,305.54 148.60,305.63 148.85,305.72 149.10,305.81 149.36,305.89 149.61,305.97 149.86,306.05 150.12,306.12 150.37,306.20 150.62,306.27 150.87,306.34 151.13,306.41 151.38,306.47 151.63,306.54 151.89,306.60 152.14,306.66 152.39,306.72 152.65,306.78 152.90,306.84 153.15,306.89 153.41,306.95 153.66,307.00 153.91,307.05 154.17,307.10 154.42,307.15 154.67,307.20 154.92,307.25 155.18,307.29 155.43,307.34 155.68,307.38 155.94,307.43 156.19,307.47 156.44,307.51 156.70,307.55 156.95,307.59 157.20,307.63 157.46,307.66 157.71,307.70 157.96,307.74 158.22,307.77 158.47,307.81 158.72,307.84 158.97,307.88 159.23,307.91 159.48,307.94 159.73,307.97 159.99,308.01 160.24,308.04 160.49,308.07 160.75,308.10 161.00,308.13 161.25,308.16 161.51,308.18 161.76,308.21 162.01,308.24 162.27,308.27 162.52,308.29 162.77,308.32 163.02,308.35 163.28,308.37 163.53,308.40 163.78,308.42 164.04,308.45 164.29,308.47 164.54,308.50 164.80,308.52 165.05,308.55" fill="none" stroke="#f5ad68" stroke-width="1.25" stroke-linejoin="round" stroke-linecap="round" />
<polyline points="69.40,297.86 69.50,297.83 69.60,297.79 69.65,297.77 69.71,297.75 69.81,297.70 69.91,297.64 69.91,297.63 70.01,297.56 70.12,297.47 70.16,297.43 70.22,297.37 70.32,297.26 70.41,297.13 70.42,297.12 70.53,296.96 70.63,296.77 70.67,296.70 70.73,296.56 70.83,296.31 70.92,296.07 70.93,296.02 71.04,295.69 71.14,295.30 71.17,295.16 71.24,294.85 71.34,294.34 71.43,293.88 71.45,293.76 71.55,293.09 71.65,292.32 71.68,292.09 71.75,291.45 71.85,290.46 71.93,289.63 71.96,289.34 72.06,288.08 72.16,286.67 72.18,286.33 72.26,285.09 72.37,283.35 72.44,282.02 72.47,281.42 72.57,279.31 72.67,277.01 72.69,276.60 72.78,274.54 72.88,271.89 72.94,270.09 72.98,269.09 73.08,266.15 73.18,263.09 73.20,262.70 73.29,259.95 73.39,256.76 73.45,254.83 73.49,253.54 73.59,250.35 73.70,247.21 73.70,246.98 73.80,244.15 73.90,241.21 73.96,239.65 74.00,238.41 74.10,235.76 74.21,233.29 74.21,233.23 74.31,230.99 74.41,228.88 74.46,227.90 74.51,226.95 74.62,225.21 74.72,223.67 74.72,223.63 74.82,222.22 74.92,220.96 74.97,220.44 75.03,219.84 75.13,218.85 75.22,218.04 75.23,217.98 75.33,217.21 75.43,216.54 75.48,216.30 75.54,215.96 75.64,215.45 75.73,215.05 75.74,215.00 75.84,214.61 75.95,214.28 75.98,214.17 76.05,213.99 76.15,213.74 76.23,213.56 76.25,213.53 76.35,213.34 76.46,213.18 76.49,213.14 76.56,213.04 76.66,212.93 76.74,212.85 76.76,212.83 76.87,212.74 76.97,212.67 76.99,212.65 77.07,212.60 77.17,212.55 77.25,212.52 77.28,212.51 77.38,212.47 77.48,212.44 77.50,212.44 77.75,212.38 78.01,212.35 78.26,212.34 78.51,212.33 78.77,212.33 79.02,212.34 79.27,212.35 79.53,212.36 79.78,212.38 80.03,212.40 80.28,212.41 80.54,212.43 80.79,212.45 81.04,212.47 81.30,212.48 81.55,212.50 81.80,212.52 82.06,212.54 82.31,212.56 82.56,212.58 82.82,212.60 83.07,212.62 83.32,212.63 83.58,212.65 83.83,212.67 84.08,212.69 84.33,212.71 84.59,212.73 84.84,212.75 85.09,212.77 85.35,212.78 85.60,212.80 85.85,212.82 86.11,212.84 86.36,212.86 86.61,212.88 86.87,212.90 87.12,212.92 87.37,212.93 87.63,212.95 87.88,212.97 88.13,212.99 88.38,213.01 88.64,213.03 88.89,213.05 89.14,213.06 89.40,213.08 89.65,213.10 89.90,213.12 90.16,213.14 90.41,213.16 90.66,213.18 90.92,213.19 91.17,213.21 91.42,213.23 91.68,213.25 91.93,213.27 92.18,213.29 92.44,213.30 92.69,213.32 92.94,213.34 93.19,213.36 93.45,213.38 93.70,213.39 93.95,213.41 94.21,213.43 94.46,213.44 94.71,213.46 94.97,213.48 95.22,213.49 95.47,213.51 95.73,213.53 95.98,213.54 96.23,213.56 96.49,213.57 96.74,213.59 96.99,213.60 97.24,213.62 97.50,213.63 97.75,213.64 98.00,213.65 98.26,213.67 98.51,213.68 98.76,213.69 99.02,213.70 99.27,213.71 99.52,213.71 99.78,213.72 100.03,213.75 100.28,213.78 100.54,213.83 100.79,213.89 101.04,213.97 101.29,214.06 101.55,214.16 101.80,214.27 102.05,214.40 102.31,214.54 102.56,214.69 102.81,214.85 103.07,215.02 103.32,215.21 103.57,215.40 103.83,215.61 104.08,215.83 104.33,216.06 104.59,216.29 104.84,216.54 105.09,216.80 105.34,217.06 105.60,217.34 105.85,217.62 106.10,217.91 106.36,218.21 106.61,218.52 106.86,218.83 107.12,219.15 107.37,219.48 107.62,219.81 107.88,220.15 108.13,220.49 108.38,220.84 108.64,221.19 108.89,221.54 109.14,221.90 109.39,222.26 109.65,222.62 109.90,222.99 110.15,223.36 110.41,223.73 110.66,224.10 110.91,224.47 111.17,224.84 111.42,225.21 111.67,225.58 111.93,225.95 112.18,226.32 112.43,226.68 112.69,227.05 112.94,227.41 113.19,227.77 113.45,228.13 113.70,228.49 113.95,228.84 114.20,229.19 114.46,229.54 114.71,229.88 114.96,230.22 115.22,230.56 115.47,230.89 115.72,231.22 115.98,231.55 116.23,231.87 116.48,232.19 116.74,232.51 116.99,232.83 117.24,233.14 117.50,233.45 117.75,233.75 118.00,234.06 118.25,234.36 118.51,234.66 118.76,234.97 119.01,235.27 119.27,235.56 119.52,235.86 119.77,236.17 120.03,236.47 120.28,236.77 120.53,237.08 120.79,237.38 121.04,237.69 121.29,238.01 121.55,238.33 121.80,238.65 122.05,238.98 122.30,239.31 122.56,239.65 122.81,240.00 123.06,240.36 123.32,240.72 123.57,241.09 123.82,241.47 124.08,241.86 124.33,242.26 124.58,242.67 124.84,243.09 125.09,243.52 125.34,243.97 125.60,244.42 125.85,244.89 126.10,245.37 126.35,245.86 126.61,246.37 126.86,246.89 127.11,247.42 127.37,247.96 127.62,248.52 127.87,249.09 128.13,249.68 128.38,250.27 128.63,250.87 128.89,251.47 129.14,252.08 129.39,252.70 129.65,253.33 129.90,253.96 130.15,254.59 130.41,255.23 130.66,255.88 130.91,256.53 131.16,257.19 131.42,257.85 131.67,258.52 131.92,259.18 132.18,259.86 132.43,260.53 132.68,261.21 132.94,261.90 133.19,262.58 133.44,263.27 133.70,263.96 133.95,264.65 134.20,265.34 134.46,266.03 134.71,266.72 134.96,267.42 135.21,268.11 135.47,268.80 135.72,269.49 135.97,270.18 136.23,270.86 136.48,271.55 136.73,272.23 136.99,272.91 137.24,273.58 137.49,274.25 137.75,274.92 138.00,275.58 138.25,276.24 138.51,276.89 138.76,277.54 139.01,278.18 139.26,278.82 139.52,279.45 139.77,280.07 140.02,280.68 140.28,281.29 140.53,281.89 140.78,282.49 141.04,283.07 141.29,283.65 141.54,284.22 141.80,284.78 142.05,285.34 142.30,285.88 142.56,286.41 142.81,286.94 143.06,287.46 143.31,287.97 143.57,288.46 143.82,288.95 144.07,289.43 144.33,289.90 144.58,290.36 144.83,290.82 145.09,291.26 145.34,291.69 145.59,292.11 145.85,292.52 146.10,292.93 146.35,293.32 146.61,293.71 146.86,294.08 147.11,294.45 147.36,294.80 147.62,295.15 147.87,295.49 148.12,295.82 148.38,296.14 148.63,296.45 148.88,296.75 149.14,297.05 149.39,297.33 149.64,297.61 149.90,297.88 150.15,298.14 150.40,298.39 150.66,298.64 150.91,298.88 151.16,299.11 151.42,299.33 151.67,299.55 151.92,299.76 152.17,299.97 152.43,300.16 152.68,300.35 152.93,300.54 153.19,300.71 153.44,300.89 153.69,301.05 153.95,301.21 154.20,301.37 154.45,301.52 154.71,301.67 154.96,301.81 155.21,301.94 155.47,302.07 155.72,302.20 155.97,302.32 156.22,302.44 156.48,302.55 156.73,302.66 156.98,302.77 157.24,302.87 157.49,302.97 157.74,303.06 158.00,303.15 158.25,303.24 158.50,303.33 158.76,303.41 159.01,303.49 159.26,303.57 159.52,303.64 159.77,303.72 160.02,303.79 160.27,303.85 160.53,303.92 160.78,303.98 161.03,304.04 161.29,304.10 161.54,304.16 161.79,304.22 162.05,304.27 162.30,304.32 162.55,304.38 162.81,304.42 163.06,304.47 163.31,304.52 163.57,304.56 163.82,304.61 164.07,304.65 164.32,304.69 164.58,304.73 164.83,304.77 165.08,304.81 165.34,304.85 165.59,304.89 165.84,304.92 166.10,304.96 166.35,304.99 166.60,305.03 166.86,305.06 167.11,305.09 167.36,305.12 167.62,305.15 167.87,305.18 168.12,305.21 168.37,305.24 168.63,305.27 168.88,305.30 169.13,305.33 169.39,305.36 169.64,305.38 169.89,305.41 170.15,305.44 170.40,305.46" fill="none" stroke="#c4e2ec" stroke-width="1.25" stroke-linejoin="round" stroke-linecap="round" />
<polyline points="74.75,294.81 74.85,294.78 74.95,294.74 75.00,294.72 75.06,294.70 75.16,294.65 75.26,294.59 75.26,294.58 75.36,294.51 75.47,294.42 75.51,294.38 75.57,294.32 75.67,294.21 75.76,294.08 75.77,294.07 75.88,293.91 75.98,293.72 76.02,293.65 76.08,293.51 76.18,293.26 76.27,293.02 76.28,292.97 76.39,292.64 76.49,292.25 76.52,292.11 76.59,291.80 76.69,291.29 76.78,290.83 76.80,290.71 76.90,290.04 77.00,289.27 77.03,289.04 77.10,288.40 77.20,287.41 77.28,286.58 77.31,286.29 77.41,285.03 77.51,283.62 77.53,283.28 77.61,282.04 77.72,280.30 77.79,278.97 77.82,278.37 77.92,276.26 78.02,273.96 78.04,273.55 78.13,271.49 78.23,268.84 78.29,267.04 78.33,266.04 78.43,263.10 78.53,260.04 78.55,259.65 78.64,256.90 78.74,253.71 78.80,251.78 78.84,250.49 78.94,247.30 79.05,244.16 79.05,243.93 79.15,241.10 79.25,238.16 79.31,236.60 79.35,235.36 79.45,232.71 79.56,230.24 79.56,230.18 79.66,227.94 79.76,225.83 79.81,224.85 79.86,223.90 79.97,222.16 80.07,220.62 80.07,220.58 80.17,219.17 80.27,217.91 80.32,217.39 80.38,216.79 80.48,215.80 80.57,214.99 80.58,214.93 80.68,214.16 80.78,213.49 80.83,213.25 80.89,212.91 80.99,212.40 81.08,212.00 81.09,211.95 81.19,211.56 81.30,211.23 81.33,211.12 81.40,210.94 81.50,210.69 81.58,210.51 81.60,210.48 81.70,210.29 81.81,210.13 81.84,210.09 81.91,209.99 82.01,209.88 82.09,209.80 82.11,209.78 82.22,209.69 82.32,209.62 82.34,209.60 82.42,209.55 82.52,209.50 82.60,209.47 82.63,209.46 82.73,209.42 82.83,209.39 82.85,209.39 83.10,209.33 83.36,209.30 83.61,209.29 83.86,209.28 84.12,209.28 84.37,209.29 84.62,209.30 84.88,209.31 85.13,209.33 85.38,209.35 85.63,209.36 85.89,209.38 86.14,209.40 86.39,209.42 86.65,209.43 86.90,209.45 87.15,209.47 87.41,209.49 87.66,209.51 87.91,209.53 88.17,209.55 88.42,209.57 88.67,209.58 88.93,209.60 89.18,209.62 89.43,209.64 89.68,209.66 89.94,209.68 90.19,209.70 90.44,209.72 90.70,209.73 90.95,209.75 91.20,209.77 91.46,209.79 91.71,209.81 91.96,209.83 92.22,209.85 92.47,209.87 92.72,209.88 92.98,209.90 93.23,209.92 93.48,209.94 93.73,209.96 93.99,209.98 94.24,210.00 94.49,210.02 94.75,210.03 95.00,210.05 95.25,210.07 95.51,210.09 95.76,210.11 96.01,210.13 96.27,210.15 96.52,210.16 96.77,210.18 97.03,210.20 97.28,210.22 97.53,210.24 97.79,210.26 98.04,210.28 98.29,210.29 98.54,210.31 98.80,210.33 99.05,210.35 99.30,210.37 99.56,210.38 99.81,210.40 100.06,210.42 100.32,210.44 100.57,210.46 100.82,210.47 101.08,210.49 101.33,210.51 101.58,210.52 101.84,210.54 102.09,210.56 102.34,210.57 102.59,210.59 102.85,210.60 103.10,210.62 103.35,210.65 103.61,210.70 103.86,210.76 104.11,210.84 104.37,210.93 104.62,211.03 104.87,211.15 105.13,211.29 105.38,211.44 105.63,211.60 105.89,211.78 106.14,211.97 106.39,212.18 106.64,212.40 106.90,212.63 107.15,212.88 107.40,213.13 107.66,213.41 107.91,213.69 108.16,213.98 108.42,214.29 108.67,214.61 108.92,214.94 109.18,215.28 109.43,215.63 109.68,215.99 109.94,216.36 110.19,216.74 110.44,217.13 110.69,217.52 110.95,217.93 111.20,218.34 111.45,218.75 111.71,219.18 111.96,219.61 112.21,220.04 112.47,220.48 112.72,220.93 112.97,221.37 113.23,221.82 113.48,222.27 113.73,222.73 113.99,223.18 114.24,223.64 114.49,224.09 114.74,224.55 115.00,225.00 115.25,225.45 115.50,225.90 115.76,226.34 116.01,226.78 116.26,227.22 116.52,227.65 116.77,228.07 117.02,228.49 117.28,228.90 117.53,229.30 117.78,229.70 118.04,230.08 118.29,230.46 118.54,230.82 118.80,231.18 119.05,231.52 119.30,231.86 119.55,232.18 119.81,232.49 120.06,232.78 120.31,233.06 120.57,233.33 120.82,233.59 121.07,233.83 121.33,234.06 121.58,234.28 121.83,234.48 122.09,234.67 122.34,234.84 122.59,235.00 122.85,235.15 123.10,235.28 123.35,235.41 123.60,235.51 123.86,235.61 124.11,235.69 124.36,235.77 124.62,235.83 124.87,235.88 125.12,235.92 125.38,235.96 125.63,235.99 125.88,236.01 126.14,236.02 126.39,236.03 126.64,236.03 126.90,236.03 127.15,236.03 127.40,236.03 127.65,236.03 127.91,236.03 128.16,236.03 128.41,236.03 128.67,236.04 128.92,236.06 129.17,236.08 129.43,236.11 129.68,236.16 129.93,236.21 130.19,236.27 130.44,236.35 130.69,236.44 130.95,236.55 131.20,236.67 131.45,236.81 131.70,236.98 131.96,237.15 132.21,237.35 132.46,237.58 132.72,237.82 132.97,238.09 133.22,238.38 133.48,238.69 133.73,239.03 133.98,239.39 134.24,239.78 134.49,240.20 134.74,240.64 135.00,241.10 135.25,241.59 135.50,242.09 135.76,242.61 136.01,243.14 136.26,243.69 136.51,244.25 136.77,244.82 137.02,245.41 137.27,246.00 137.53,246.62 137.78,247.24 138.03,247.88 138.29,248.53 138.54,249.19 138.79,249.86 139.05,250.54 139.30,251.24 139.55,251.94 139.81,252.65 140.06,253.38 140.31,254.11 140.56,254.84 140.82,255.59 141.07,256.34 141.32,257.10 141.58,257.86 141.83,258.63 142.08,259.40 142.34,260.18 142.59,260.96 142.84,261.74 143.10,262.52 143.35,263.31 143.60,264.09 143.86,264.88 144.11,265.66 144.36,266.45 144.61,267.23 144.87,268.01 145.12,268.78 145.37,269.56 145.63,270.33 145.88,271.09 146.13,271.85 146.39,272.60 146.64,273.35 146.89,274.09 147.15,274.82 147.40,275.55 147.65,276.26 147.91,276.97 148.16,277.67 148.41,278.36 148.66,279.04 148.92,279.72 149.17,280.38 149.42,281.03 149.68,281.67 149.93,282.30 150.18,282.92 150.44,283.52 150.69,284.12 150.94,284.70 151.20,285.27 151.45,285.83 151.70,286.38 151.96,286.91 152.21,287.44 152.46,287.95 152.71,288.45 152.97,288.93 153.22,289.41 153.47,289.87 153.73,290.32 153.98,290.76 154.23,291.18 154.49,291.60 154.74,292.00 154.99,292.39 155.25,292.77 155.50,293.14 155.75,293.49 156.01,293.84 156.26,294.17 156.51,294.50 156.77,294.81 157.02,295.11 157.27,295.41 157.52,295.69 157.78,295.96 158.03,296.23 158.28,296.48 158.54,296.73 158.79,296.96 159.04,297.19 159.30,297.41 159.55,297.62 159.80,297.82 160.06,298.02 160.31,298.21 160.56,298.39 160.82,298.56 161.07,298.73 161.32,298.89 161.57,299.04 161.83,299.19 162.08,299.33 162.33,299.47 162.59,299.60 162.84,299.72 163.09,299.85 163.35,299.96 163.60,300.07 163.85,300.18 164.11,300.28 164.36,300.38 164.61,300.47 164.87,300.56 165.12,300.65 165.37,300.73 165.62,300.81 165.88,300.88 166.13,300.96 166.38,301.03 166.64,301.10 166.89,301.16 167.14,301.22 167.40,301.28 167.65,301.34 167.90,301.39 168.16,301.45 168.41,301.50 168.66,301.55 168.92,301.60 169.17,301.64 169.42,301.69 169.67,301.73 169.93,301.77 170.18,301.81 170.43,301.85 170.69,301.89 170.94,301.92 171.19,301.96 171.45,301.99 171.70,302.03 171.95,302.06 172.21,302.09 172.46,302.12 172.71,302.15 172.97,302.18 173.22,302.21 173.47,302.24 173.72,302.27 173.98,302.30 174.23,302.32 174.48,302.35 174.74,302.37 174.99,302.40 175.24,302.42 175.50,302.45 175.75,302.47" fill="none" stroke="#95c2dd" stroke-width="1.25" stroke-linejoin="round" stroke-linecap="round" />
<polyline points="80.10,291.76 80.20,291.73 80.30,291.69 80.35,291.67 80.41,291.65 80.51,291.60 80.61,291.54 80.61,291.53 80.71,291.46 80.82,291.37 80.86,291.33 80.92,291.27 81.02,291.16 81.11,291.03 81.12,291.02 81.23,290.86 81.33,290.67 81.37,290.60 81.43,290.46 81.53,290.21 81.62,289.97 81.63,289.92 81.74,289.59 81.84,289.20 81.87,289.06 81.94,288.75 82.04,288.24 82.13,287.78 82.15,287.66 82.25,286.99 82.35,286.22 82.38,285.99 82.45,285.35 82.55,284.36 82.63,283.53 82.66,283.24 82.76,281.98 82.86,280.57 82.88,280.23 82.96,278.99 83.07,277.25 83.14,275.92 83.17,275.32 83.27,273.21 83.37,270.91 83.39,270.50 83.48,268.44 83.58,265.79 83.64,263.99 83.68,262.99 83.78,260.05 83.88,256.99 83.90,256.60 83.99,253.85 84.09,250.66 84.15,248.73 84.19,247.44 84.29,244.25 84.40,241.11 84.40,240.88 84.50,238.05 84.60,235.11 84.66,233.55 84.70,232.31 84.80,229.66 84.91,227.19 84.91,227.13 85.01,224.89 85.11,222.78 85.16,221.80 85.21,220.85 85.32,219.11 85.42,217.57 85.42,217.53 85.52,216.12 85.62,214.86 85.67,214.34 85.73,213.74 85.83,212.75 85.92,211.94 85.93,211.88 86.03,211.11 86.13,210.44 86.18,210.20 86.24,209.86 86.34,209.35 86.43,208.95 86.44,208.90 86.54,208.51 86.65,208.18 86.68,208.07 86.75,207.89 86.85,207.64 86.93,207.46 86.95,207.43 87.05,207.24 87.16,207.08 87.19,207.04 87.26,206.94 87.36,206.83 87.44,206.75 87.46,206.73 87.57,206.64 87.67,206.57 87.69,206.55 87.77,206.50 87.87,206.45 87.95,206.42 87.98,206.41 88.08,206.37 88.18,206.34 88.20,206.34 88.45,206.28 88.71,206.25 88.96,206.24 89.21,206.23 89.47,206.23 89.72,206.24 89.97,206.25 90.23,206.26 90.48,206.28 90.73,206.30 90.98,206.31 91.24,206.33 91.49,206.35 91.74,206.37 92.00,206.38 92.25,206.40 92.50,206.42 92.76,206.44 93.01,206.46 93.26,206.48 93.52,206.50 93.77,206.52 94.02,206.53 94.28,206.55 94.53,206.57 94.78,206.59 95.03,206.61 95.29,206.63 95.54,206.65 95.79,206.67 96.05,206.68 96.30,206.70 96.55,206.72 96.81,206.74 97.06,206.76 97.31,206.78 97.57,206.80 97.82,206.82 98.07,206.83 98.33,206.85 98.58,206.87 98.83,206.89 99.08,206.91 99.34,206.93 99.59,206.95 99.84,206.97 100.10,206.98 100.35,207.00 100.60,207.02 100.86,207.04 101.11,207.06 101.36,207.08 101.62,207.10 101.87,207.12 102.12,207.14 102.38,207.15 102.63,207.17 102.88,207.19 103.14,207.21 103.39,207.23 103.64,207.25 103.89,207.27 104.15,207.29 104.40,207.30 104.65,207.33 104.91,207.37 105.16,207.42 105.41,207.49 105.67,207.57 105.92,207.66 106.17,207.76 106.43,207.87 106.68,208.00 106.93,208.14 107.19,208.29 107.44,208.45 107.69,208.63 107.94,208.81 108.20,209.01 108.45,209.22 108.70,209.45 108.96,209.68 109.21,209.93 109.46,210.19 109.72,210.45 109.97,210.73 110.22,211.02 110.48,211.33 110.73,211.64 110.98,211.96 111.24,212.30 111.49,212.64 111.74,213.00 111.99,213.36 112.25,213.74 112.50,214.12 112.75,214.51 113.01,214.92 113.26,215.33 113.51,215.75 113.77,216.18 114.02,216.62 114.27,217.07 114.53,217.52 114.78,217.98 115.03,218.45 115.29,218.93 115.54,219.41 115.79,219.90 116.04,220.40 116.30,220.90 116.55,221.40 116.80,221.91 117.06,222.43 117.31,222.95 117.56,223.47 117.82,223.99 118.07,224.52 118.32,225.05 118.58,225.58 118.83,226.11 119.08,226.64 119.34,227.16 119.59,227.69 119.84,228.21 120.09,228.73 120.35,229.25 120.60,229.76 120.85,230.26 121.11,230.75 121.36,231.24 121.61,231.72 121.87,232.18 122.12,232.64 122.37,233.08 122.63,233.50 122.88,233.91 123.13,234.31 123.39,234.68 123.64,235.04 123.89,235.37 124.15,235.69 124.40,235.98 124.65,236.24 124.90,236.48 125.16,236.69 125.41,236.88 125.66,237.03 125.92,237.16 126.17,237.25 126.42,237.32 126.68,237.34 126.93,237.34 127.18,237.30 127.44,237.23 127.69,237.13 127.94,236.99 128.20,236.81 128.45,236.60 128.70,236.36 128.95,236.08 129.21,235.78 129.46,235.44 129.71,235.07 129.97,234.68 130.22,234.26 130.47,233.81 130.73,233.34 130.98,232.85 131.23,232.35 131.49,231.83 131.74,231.30 131.99,230.76 132.25,230.21 132.50,229.67 132.75,229.12 133.00,228.58 133.26,228.05 133.51,227.54 133.76,227.04 134.02,226.56 134.27,226.11 134.52,225.68 134.78,225.29 135.03,224.94 135.28,224.62 135.54,224.35 135.79,224.13 136.04,223.95 136.30,223.83 136.55,223.77 136.80,223.76 137.05,223.82 137.31,223.94 137.56,224.12 137.81,224.37 138.07,224.69 138.32,225.07 138.57,225.53 138.83,226.01 139.08,226.50 139.33,227.00 139.59,227.51 139.84,228.04 140.09,228.58 140.35,229.12 140.60,229.68 140.85,230.25 141.11,230.83 141.36,231.42 141.61,232.02 141.86,232.63 142.12,233.25 142.37,233.88 142.62,234.52 142.88,235.17 143.13,235.83 143.38,236.50 143.64,237.17 143.89,237.85 144.14,238.54 144.40,239.24 144.65,239.95 144.90,240.66 145.16,241.38 145.41,242.10 145.66,242.83 145.91,243.57 146.17,244.31 146.42,245.05 146.67,245.80 146.93,246.55 147.18,247.31 147.43,248.07 147.69,248.83 147.94,249.60 148.19,250.36 148.45,251.13 148.70,251.90 148.95,252.67 149.21,253.44 149.46,254.21 149.71,254.98 149.96,255.75 150.22,256.51 150.47,257.28 150.72,258.04 150.98,258.80 151.23,259.56 151.48,260.32 151.74,261.07 151.99,261.82 152.24,262.56 152.50,263.31 152.75,264.04 153.00,264.77 153.26,265.50 153.51,266.22 153.76,266.93 154.01,267.64 154.27,268.34 154.52,269.03 154.77,269.72 155.03,270.40 155.28,271.07 155.53,271.74 155.79,272.39 156.04,273.04 156.29,273.68 156.55,274.32 156.80,274.94 157.05,275.56 157.31,276.16 157.56,276.76 157.81,277.35 158.06,277.93 158.32,278.50 158.57,279.06 158.82,279.61 159.08,280.16 159.33,280.69 159.58,281.21 159.84,281.72 160.09,282.23 160.34,282.72 160.60,283.21 160.85,283.68 161.10,284.15 161.36,284.60 161.61,285.05 161.86,285.49 162.12,285.91 162.37,286.33 162.62,286.74 162.87,287.14 163.13,287.53 163.38,287.91 163.63,288.28 163.89,288.64 164.14,288.99 164.39,289.34 164.65,289.67 164.90,290.00 165.15,290.32 165.41,290.63 165.66,290.93 165.91,291.22 166.17,291.51 166.42,291.79 166.67,292.06 166.92,292.32 167.18,292.58 167.43,292.82 167.68,293.07 167.94,293.30 168.19,293.53 168.44,293.75 168.70,293.96 168.95,294.17 169.20,294.37 169.46,294.56 169.71,294.75 169.96,294.93 170.22,295.11 170.47,295.28 170.72,295.44 170.97,295.60 171.23,295.76 171.48,295.91 171.73,296.06 171.99,296.20 172.24,296.33 172.49,296.46 172.75,296.59 173.00,296.71 173.25,296.83 173.51,296.95 173.76,297.06 174.01,297.16 174.27,297.27 174.52,297.37 174.77,297.46 175.02,297.56 175.28,297.65 175.53,297.74 175.78,297.82 176.04,297.90 176.29,297.98 176.54,298.06 176.80,298.13 177.05,298.20 177.30,298.27 177.56,298.34 177.81,298.40 178.06,298.46 178.32,298.52 178.57,298.58 178.82,298.64 179.07,298.69 179.33,298.75 179.58,298.80 179.83,298.85 180.09,298.90 180.34,298.94 180.59,298.99 180.85,299.03 181.10,299.08" fill="none" stroke="#6490cb" stroke-width="1.25" stroke-linejoin="round" stroke-linecap="round" />
<polyline points="85.45,288.71 85.55,288.68 85.65,288.64 85.70,288.62 85.76,288.60 85.86,288.55 85.96,288.49 85.96,288.48 86.06,288.41 86.17,288.32 86.21,288.28 86.27,288.22 86.37,288.11 86.46,287.98 86.47,287.97 86.58,287.81 86.68,287.62 86.72,287.55 86.78,287.41 86.88,287.16 86.97,286.92 86.98,286.87 87.09,286.54 87.19,286.15 87.22,286.01 87.29,285.70 87.39,285.19 87.48,284.73 87.50,284.61 87.60,283.94 87.70,283.17 87.73,282.94 87.80,282.30 87.90,281.31 87.98,280.48 88.01,280.19 88.11,278.93 88.21,277.52 88.23,277.18 88.31,275.94 88.42,274.20 88.49,272.87 88.52,272.27 88.62,270.16 88.72,267.86 88.74,267.45 88.83,265.39 88.93,262.74 88.99,260.94 89.03,259.94 89.13,257.00 89.23,253.94 89.25,253.55 89.34,250.80 89.44,247.61 89.50,245.68 89.54,244.39 89.64,241.20 89.75,238.06 89.75,237.83 89.85,235.00 89.95,232.06 90.01,230.50 90.05,229.26 90.15,226.61 90.26,224.14 90.26,224.08 90.36,221.84 90.46,219.73 90.51,218.75 90.56,217.80 90.67,216.06 90.77,214.52 90.77,214.48 90.87,213.07 90.97,211.81 91.02,211.29 91.08,210.69 91.18,209.70 91.27,208.89 91.28,208.83 91.38,208.06 91.48,207.39 91.53,207.15 91.59,206.81 91.69,206.30 91.78,205.90 91.79,205.85 91.89,205.46 92.00,205.13 92.03,205.02 92.10,204.84 92.20,204.59 92.28,204.41 92.30,204.38 92.40,204.19 92.51,204.03 92.54,203.99 92.61,203.89 92.71,203.78 92.79,203.70 92.81,203.68 92.92,203.59 93.02,203.52 93.04,203.50 93.12,203.45 93.22,203.40 93.30,203.37 93.33,203.36 93.43,203.32 93.53,203.29 93.55,203.28 93.80,203.23 94.06,203.20 94.31,203.19 94.56,203.18 94.82,203.18 95.07,203.19 95.32,203.20 95.58,203.21 95.83,203.23 96.08,203.24 96.33,203.26 96.59,203.28 96.84,203.30 97.09,203.31 97.35,203.33 97.60,203.35 97.85,203.37 98.11,203.39 98.36,203.41 98.61,203.43 98.87,203.44 99.12,203.46 99.37,203.48 99.63,203.50 99.88,203.52 100.13,203.54 100.38,203.55 100.64,203.57 100.89,203.59 101.14,203.61 101.40,203.63 101.65,203.65 101.90,203.66 102.16,203.68 102.41,203.70 102.66,203.72 102.92,203.73 103.17,203.75 103.42,203.77 103.68,203.79 103.93,203.80 104.18,203.82 104.43,203.84 104.69,203.85 104.94,203.87 105.19,203.89 105.45,203.90 105.70,203.92 105.95,203.93 106.21,203.95 106.46,203.96 106.71,203.98 106.97,203.99 107.22,204.01 107.47,204.02 107.73,204.03 107.98,204.04 108.23,204.06 108.49,204.07 108.74,204.08 108.99,204.11 109.24,204.16 109.50,204.23 109.75,204.32 110.00,204.44 110.26,204.57 110.51,204.72 110.76,204.90 111.02,205.09 111.27,205.31 111.52,205.54 111.78,205.80 112.03,206.07 112.28,206.36 112.54,206.67 112.79,207.00 113.04,207.35 113.29,207.71 113.55,208.09 113.80,208.48 114.05,208.90 114.31,209.32 114.56,209.77 114.81,210.22 115.07,210.69 115.32,211.18 115.57,211.68 115.83,212.18 116.08,212.70 116.33,213.24 116.59,213.78 116.84,214.33 117.09,214.89 117.34,215.46 117.60,216.03 117.85,216.62 118.10,217.21 118.36,217.80 118.61,218.40 118.86,219.00 119.12,219.61 119.37,220.21 119.62,220.82 119.88,221.43 120.13,222.04 120.38,222.65 120.64,223.25 120.89,223.86 121.14,224.46 121.39,225.05 121.65,225.64 121.90,226.22 122.15,226.80 122.41,227.36 122.66,227.92 122.91,228.47 123.17,229.01 123.42,229.53 123.67,230.04 123.93,230.54 124.18,231.03 124.43,231.50 124.69,231.95 124.94,232.39 125.19,232.81 125.44,233.21 125.70,233.59 125.95,233.95 126.20,234.30 126.46,234.62 126.71,234.92 126.96,235.19 127.22,235.45 127.47,235.68 127.72,235.88 127.98,236.06 128.23,236.22 128.48,236.35 128.74,236.45 128.99,236.53 129.24,236.58 129.50,236.60 129.75,236.60 130.00,236.57 130.25,236.51 130.51,236.42 130.76,236.30 131.01,236.16 131.27,235.99 131.52,235.79 131.77,235.57 132.03,235.31 132.28,235.03 132.53,234.73 132.79,234.40 133.04,234.04 133.29,233.65 133.55,233.25 133.80,232.81 134.05,232.36 134.30,231.88 134.56,231.38 134.81,230.86 135.06,230.32 135.32,229.76 135.57,229.18 135.82,228.59 136.08,227.98 136.33,227.35 136.58,226.71 136.84,226.06 137.09,225.40 137.34,224.73 137.60,224.05 137.85,223.36 138.10,222.67 138.35,221.98 138.61,221.28 138.86,220.58 139.11,219.88 139.37,219.18 139.62,218.49 139.87,217.81 140.13,217.13 140.38,216.46 140.63,215.80 140.89,215.15 141.14,214.51 141.39,213.89 141.65,213.29 141.90,212.71 142.15,212.14 142.40,211.60 142.66,211.08 142.91,210.58 143.16,210.11 143.42,209.66 143.67,209.24 143.92,208.86 144.18,208.50 144.43,208.17 144.68,207.88 144.94,207.62 145.19,207.40 145.44,207.21 145.70,207.06 145.95,206.95 146.20,206.87 146.46,206.83 146.71,206.84 146.96,206.88 147.21,206.96 147.47,207.08 147.72,207.25 147.97,207.45 148.23,207.70 148.48,207.99 148.73,208.32 148.99,208.69 149.24,209.11 149.49,209.57 149.75,210.07 150.00,210.61 150.25,211.19 150.51,211.81 150.76,212.47 151.01,213.17 151.26,213.90 151.52,214.67 151.77,215.48 152.02,216.32 152.28,217.19 152.53,218.09 152.78,219.03 153.04,220.00 153.29,220.99 153.54,222.01 153.80,223.06 154.05,224.13 154.30,225.22 154.56,226.33 154.81,227.47 155.06,228.62 155.31,229.79 155.57,230.97 155.82,232.17 156.07,233.38 156.33,234.60 156.58,235.83 156.83,237.07 157.09,238.31 157.34,239.56 157.59,240.82 157.85,242.07 158.10,243.32 158.35,244.58 158.61,245.83 158.86,247.08 159.11,248.32 159.36,249.56 159.62,250.79 159.87,252.01 160.12,253.22 160.38,254.42 160.63,255.61 160.88,256.79 161.14,257.95 161.39,259.10 161.64,260.24 161.90,261.36 162.15,262.46 162.40,263.54 162.66,264.61 162.91,265.66 163.16,266.68 163.41,267.69 163.67,268.68 163.92,269.65 164.17,270.60 164.43,271.53 164.68,272.43 164.93,273.32 165.19,274.18 165.44,275.02 165.69,275.84 165.95,276.64 166.20,277.42 166.45,278.17 166.71,278.91 166.96,279.62 167.21,280.31 167.47,280.98 167.72,281.63 167.97,282.25 168.22,282.86 168.48,283.45 168.73,284.01 168.98,284.56 169.24,285.09 169.49,285.60 169.74,286.09 170.00,286.56 170.25,287.02 170.50,287.45 170.76,287.87 171.01,288.28 171.26,288.66 171.52,289.04 171.77,289.39 172.02,289.73 172.27,290.06 172.53,290.38 172.78,290.68 173.03,290.96 173.29,291.24 173.54,291.50 173.79,291.75 174.05,291.99 174.30,292.22 174.55,292.43 174.81,292.64 175.06,292.84 175.31,293.03 175.57,293.21 175.82,293.38 176.07,293.54 176.32,293.69 176.58,293.84 176.83,293.98 177.08,294.11 177.34,294.24 177.59,294.36 177.84,294.47 178.10,294.58 178.35,294.69 178.60,294.78 178.86,294.88 179.11,294.97 179.36,295.05 179.62,295.13 179.87,295.21 180.12,295.28 180.37,295.35 180.63,295.42 180.88,295.48 181.13,295.54 181.39,295.60 181.64,295.65 181.89,295.70 182.15,295.75 182.40,295.80 182.65,295.85 182.91,295.89 183.16,295.93 183.41,295.97 183.67,296.01 183.92,296.05 184.17,296.08 184.42,296.12 184.68,296.15 184.93,296.18 185.18,296.22 185.44,296.25 185.69,296.28 185.94,296.30 186.20,296.33 186.45,296.36" fill="none" stroke="#3a4497" stroke-width="1.25" stroke-linejoin="round" stroke-linecap="round" />
<line x1="258.50" y1="223.60" x2="258.50" y2="310.50" stroke="#b9b9b9" stroke-width="0.8" />
<line x1="253.80" y1="223.80" x2="258.50" y2="223.80" stroke="#777" stroke-width="0.7" />
<line x1="253.80" y1="267.05" x2="258.50" y2="267.05" stroke="#777" stroke-width="0.7" />
<line x1="253.80" y1="310.30" x2="258.50" y2="310.30" stroke="#777" stroke-width="0.7" />
<text x="238.60" y="227.50" font-size="10.23" textLength="11.30" lengthAdjust="spacingAndGlyphs">1.0</text>
<text x="237.00" y="270.90" font-size="10.23" textLength="13.40" lengthAdjust="spacingAndGlyphs">0.5</text>
<text x="236.40" y="313.80" font-size="10.23" textLength="13.40" lengthAdjust="spacingAndGlyphs">0.0</text>
<line x1="258.50" y1="310.30" x2="360.00" y2="317.80" stroke="#9a9a9a" stroke-width="0.8" />
<line x1="259.00" y1="310.30" x2="255.40" y2="312.40" stroke="#777" stroke-width="0.7" />
<line x1="309.50" y1="314.05" x2="305.90" y2="316.15" stroke="#777" stroke-width="0.7" />
<line x1="360.00" y1="317.80" x2="356.40" y2="319.90" stroke="#777" stroke-width="0.7" />
<text x="246.70" y="326.80" font-size="10.23" textLength="13.60" lengthAdjust="spacingAndGlyphs">0.0</text>
<text x="299.00" y="328.70" font-size="10.23" textLength="13.20" lengthAdjust="spacingAndGlyphs">0.5</text>
<text x="348.90" y="331.30" font-size="10.23" textLength="12.40" lengthAdjust="spacingAndGlyphs">1.0</text>
<line x1="360.00" y1="317.80" x2="403.87" y2="292.79" stroke="#9a9a9a" stroke-width="0.8" />
<line x1="361.80" y1="318.30" x2="364.90" y2="318.50" stroke="#8a8a8a" stroke-width="0.6" />
<line x1="368.50" y1="315.30" x2="371.60" y2="315.50" stroke="#8a8a8a" stroke-width="0.6" />
<line x1="375.90" y1="311.60" x2="379.00" y2="311.80" stroke="#8a8a8a" stroke-width="0.6" />
<line x1="384.40" y1="305.90" x2="387.50" y2="306.10" stroke="#8a8a8a" stroke-width="0.6" />
<line x1="400.20" y1="296.60" x2="403.30" y2="296.80" stroke="#8a8a8a" stroke-width="0.6" />
<text x="409.00" y="304.00" font-size="9.24" textLength="4.00" lengthAdjust="spacingAndGlyphs">1</text>
<text x="393.50" y="313.30" font-size="9.24" textLength="4.40" lengthAdjust="spacingAndGlyphs">2</text>
<text x="384.00" y="319.00" font-size="9.46" textLength="5.00" lengthAdjust="spacingAndGlyphs">3</text>
<text x="377.30" y="323.20" font-size="10.12" textLength="5.60" lengthAdjust="spacingAndGlyphs">4</text>
<text x="370.40" y="326.00" font-size="9.24" textLength="6.60" lengthAdjust="spacingAndGlyphs">∞</text>
<text x="392.30" y="329.80" font-size="11.22" textLength="6.80" lengthAdjust="spacingAndGlyphs">A</text>
<text x="399.60" y="331.00" font-size="5.8" textLength="16.00" lengthAdjust="spacingAndGlyphs" transform="rotate(-34 399.60 331.0)">shape</text>
<text x="385.80" y="349.00" font-size="9.4" textLength="54" lengthAdjust="spacingAndGlyphs" transform="rotate(-29 385.80 349.0)">(<tspan font-family="Liberation Serif, serif" font-style="italic" font-weight="bold" font-size="10">Ω</tspan><tspan font-size="5.8" dy="1.6">shape</tspan><tspan dy="-1.6">/</tspan><tspan font-family="Liberation Serif, serif" font-style="italic" font-weight="bold" font-size="10">Ω</tspan><tspan font-size="5.8" dy="1.6">min</tspan><tspan dy="-1.6">)</tspan></text>
<text x="270.30" y="348.50" font-size="10.23" textLength="52.40" lengthAdjust="spacingAndGlyphs">Time (norm.)</text>
<text x="227.00" y="287.00" font-size="9.3" transform="rotate(-90 227.00 287.0)" textLength="42.5" lengthAdjust="spacingAndGlyphs"><tspan font-family="Liberation Serif, serif" font-style="italic" font-weight="bold" font-size="10.5">Ω</tspan><tspan font-size="6" dy="1.8">S</tspan><tspan dy="-1.8"> (norm.)</tspan></text>
<text x="235.00" y="198.70" font-size="11.0" fill="#97d3c3" textLength="49.60" lengthAdjust="spacingAndGlyphs">MOD-SATD</text>
<polyline points="259.00,310.06 259.10,310.03 259.20,309.99 259.25,309.97 259.31,309.95 259.41,309.90 259.51,309.84 259.51,309.83 259.61,309.76 259.72,309.67 259.76,309.63 259.82,309.57 259.92,309.46 260.01,309.33 260.02,309.32 260.13,309.16 260.23,308.97 260.27,308.90 260.33,308.76 260.43,308.51 260.52,308.27 260.53,308.22 260.64,307.89 260.74,307.50 260.77,307.36 260.84,307.05 260.94,306.54 261.03,306.08 261.05,305.96 261.15,305.29 261.25,304.52 261.28,304.29 261.35,303.65 261.45,302.66 261.53,301.83 261.56,301.54 261.66,300.28 261.76,298.87 261.78,298.53 261.86,297.29 261.97,295.55 262.04,294.22 262.07,293.62 262.17,291.51 262.27,289.21 262.29,288.80 262.38,286.74 262.48,284.09 262.54,282.29 262.58,281.29 262.68,278.35 262.78,275.29 262.80,274.90 262.89,272.15 262.99,268.96 263.05,267.03 263.09,265.74 263.19,262.55 263.30,259.41 263.30,259.18 263.40,256.35 263.50,253.41 263.56,251.85 263.60,250.61 263.70,247.96 263.81,245.49 263.81,245.43 263.91,243.19 264.01,241.08 264.06,240.10 264.11,239.15 264.22,237.41 264.32,235.87 264.32,235.83 264.42,234.42 264.52,233.16 264.57,232.64 264.63,232.04 264.73,231.05 264.82,230.24 264.83,230.18 264.93,229.41 265.03,228.74 265.08,228.50 265.14,228.16 265.24,227.65 265.33,227.25 265.34,227.20 265.44,226.81 265.55,226.48 265.58,226.37 265.65,226.19 265.75,225.94 265.83,225.76 265.85,225.73 265.95,225.54 266.06,225.38 266.09,225.34 266.16,225.24 266.26,225.13 266.34,225.05 266.36,225.03 266.47,224.94 266.57,224.87 266.59,224.85 266.67,224.80 266.77,224.75 266.85,224.72 266.88,224.71 266.98,224.67 267.08,224.64 267.10,224.64 267.35,224.58 267.61,224.55 267.86,224.54 268.11,224.53 268.37,224.53 268.62,224.54 268.87,224.55 269.13,224.56 269.38,224.58 269.63,224.60 269.88,224.61 270.14,224.63 270.39,224.65 270.64,224.67 270.90,224.68 271.15,224.70 271.40,224.72 271.66,224.74 271.91,224.76 272.16,224.78 272.42,224.80 272.67,224.82 272.92,224.83 273.18,224.85 273.43,224.87 273.68,224.89 273.93,224.91 274.19,224.93 274.44,224.95 274.69,224.97 274.95,224.98 275.20,225.00 275.45,225.02 275.71,225.04 275.96,225.06 276.21,225.08 276.47,225.10 276.72,225.12 276.97,225.13 277.23,225.15 277.48,225.17 277.73,225.19 277.98,225.21 278.24,225.23 278.49,225.25 278.74,225.27 279.00,225.28 279.25,225.30 279.50,225.32 279.76,225.34 280.01,225.36 280.26,225.38 280.52,225.40 280.77,225.42 281.02,225.44 281.28,225.45 281.53,225.47 281.78,225.49 282.04,225.51 282.29,225.53 282.54,225.55 282.79,225.57 283.05,225.59 283.30,225.60 283.55,225.62 283.81,225.64 284.06,225.66 284.31,225.68 284.57,225.70 284.82,225.72 285.07,225.74 285.33,225.75 285.58,225.77 285.83,225.79 286.09,225.81 286.34,225.83 286.59,225.85 286.84,225.87 287.10,225.89 287.35,225.91 287.60,225.92 287.86,225.94 288.11,225.96 288.36,225.98 288.62,226.00 288.87,226.02 289.12,226.04 289.38,226.06 289.63,226.07 289.88,226.09 290.14,226.11 290.39,226.13 290.64,226.15 290.89,226.17 291.15,226.19 291.40,226.21 291.65,226.22 291.91,226.24 292.16,226.26 292.41,226.28 292.67,226.30 292.92,226.32 293.17,226.34 293.43,226.36 293.68,226.38 293.93,226.39 294.19,226.41 294.44,226.43 294.69,226.45 294.94,226.47 295.20,226.49 295.45,226.51 295.70,226.53 295.96,226.54 296.21,226.56 296.46,226.58 296.72,226.60 296.97,226.62 297.22,226.64 297.48,226.66 297.73,226.68 297.98,226.69 298.24,226.71 298.49,226.73 298.74,226.75 298.99,226.77 299.25,226.81 299.50,226.88 299.75,226.98 300.01,227.11 300.26,227.27 300.51,227.45 300.77,227.66 301.02,227.90 301.27,228.16 301.53,228.45 301.78,228.77 302.03,229.11 302.29,229.47 302.54,229.86 302.79,230.27 303.05,230.71 303.30,231.17 303.55,231.65 303.80,232.15 304.06,232.67 304.31,233.22 304.56,233.78 304.82,234.37 305.07,234.97 305.32,235.60 305.58,236.24 305.83,236.90 306.08,237.57 306.34,238.27 306.59,238.97 306.84,239.70 307.10,240.44 307.35,241.19 307.60,241.96 307.85,242.74 308.11,243.53 308.36,244.33 308.61,245.15 308.87,245.97 309.12,246.81 309.37,247.65 309.63,248.50 309.88,249.36 310.13,250.23 310.39,251.11 310.64,251.99 310.89,252.88 311.15,253.77 311.40,254.67 311.65,255.57 311.90,256.47 312.16,257.38 312.41,258.29 312.66,259.20 312.92,260.11 313.17,261.02 313.42,261.93 313.68,262.84 313.93,263.76 314.18,264.66 314.44,265.57 314.69,266.48 314.94,267.38 315.20,268.28 315.45,269.17 315.70,270.06 315.95,270.95 316.21,271.83 316.46,272.71 316.71,273.58 316.97,274.44 317.22,275.30 317.47,276.15 317.73,276.99 317.98,277.83 318.23,278.66 318.49,279.48 318.74,280.29 318.99,281.10 319.25,281.89 319.50,282.68 319.75,283.45 320.01,284.22 320.26,284.98 320.51,285.73 320.76,286.46 321.02,287.19 321.27,287.91 321.52,288.62 321.78,289.31 322.03,290.00 322.28,290.67 322.54,291.34 322.79,291.99 323.04,292.63 323.30,293.27 323.55,293.89 323.80,294.50 324.06,295.10 324.31,295.68 324.56,296.26 324.81,296.83 325.07,297.38 325.32,297.93 325.57,298.46 325.83,298.98 326.08,299.49 326.33,299.99 326.59,300.48 326.84,300.96 327.09,301.43 327.35,301.89 327.60,302.34 327.85,302.78 328.11,303.21 328.36,303.62 328.61,304.03 328.86,304.43 329.12,304.82 329.37,305.20 329.62,305.57 329.88,305.93 330.13,306.28 330.38,306.62 330.64,306.95 330.89,307.28 331.14,307.59 331.40,307.90 331.65,308.20 331.90,308.49 332.16,308.77 332.41,309.05 332.66,309.31 332.91,309.57 333.17,309.83 333.42,310.07 333.67,310.31 333.93,310.54 334.18,310.76 334.43,310.98 334.69,311.19 334.94,311.40 335.19,311.60 335.45,311.79 335.70,311.98 335.95,312.16 336.21,312.33 336.46,312.50 336.71,312.67 336.96,312.83 337.22,312.98 337.47,313.13 337.72,313.28 337.98,313.42 338.23,313.56 338.48,313.69 338.74,313.81 338.99,313.94 339.24,314.06 339.50,314.17 339.75,314.29 340.00,314.39 340.26,314.50 340.51,314.60 340.76,314.70 341.02,314.79 341.27,314.88 341.52,314.97 341.77,315.06 342.03,315.14 342.28,315.22 342.53,315.30 342.79,315.38 343.04,315.45 343.29,315.52 343.55,315.59 343.80,315.66 344.05,315.72 344.31,315.78 344.56,315.84 344.81,315.90 345.07,315.96 345.32,316.01 345.57,316.07 345.82,316.12 346.08,316.17 346.33,316.22 346.58,316.27 346.84,316.31 347.09,316.36 347.34,316.40 347.60,316.45 347.85,316.49 348.10,316.53 348.36,316.57 348.61,316.60 348.86,316.64 349.12,316.68 349.37,316.71 349.62,316.75 349.87,316.78 350.13,316.82 350.38,316.85 350.63,316.88 350.89,316.91 351.14,316.94 351.39,316.97 351.65,317.00 351.90,317.03 352.15,317.06 352.41,317.09 352.66,317.11 352.91,317.14 353.17,317.17 353.42,317.19 353.67,317.22 353.92,317.24 354.18,317.27 354.43,317.29 354.68,317.32 354.94,317.34 355.19,317.37 355.44,317.39 355.70,317.41 355.95,317.44 356.20,317.46 356.46,317.48 356.71,317.50 356.96,317.52 357.22,317.55 357.47,317.57 357.72,317.59 357.97,317.61 358.23,317.63 358.48,317.65 358.73,317.67 358.99,317.70 359.24,317.72 359.49,317.74 359.75,317.76 360.00,317.78" fill="none" stroke="#a3243c" stroke-width="1.25" stroke-linejoin="round" stroke-linecap="round" />
<polyline points="264.35,307.01 264.45,306.98 264.55,306.94 264.60,306.92 264.66,306.90 264.76,306.85 264.86,306.79 264.86,306.78 264.96,306.71 265.07,306.62 265.11,306.58 265.17,306.52 265.27,306.41 265.36,306.28 265.37,306.27 265.48,306.11 265.58,305.92 265.62,305.85 265.68,305.71 265.78,305.46 265.87,305.22 265.88,305.17 265.99,304.84 266.09,304.45 266.12,304.31 266.19,304.00 266.29,303.49 266.38,303.03 266.40,302.91 266.50,302.24 266.60,301.47 266.63,301.24 266.70,300.60 266.80,299.61 266.88,298.78 266.91,298.49 267.01,297.23 267.11,295.82 267.13,295.48 267.21,294.24 267.32,292.50 267.39,291.17 267.42,290.57 267.52,288.46 267.62,286.16 267.64,285.75 267.73,283.69 267.83,281.04 267.89,279.24 267.93,278.24 268.03,275.30 268.13,272.24 268.15,271.85 268.24,269.10 268.34,265.91 268.40,263.98 268.44,262.69 268.54,259.50 268.65,256.36 268.65,256.13 268.75,253.30 268.85,250.36 268.91,248.80 268.95,247.56 269.05,244.91 269.16,242.44 269.16,242.38 269.26,240.14 269.36,238.03 269.41,237.05 269.46,236.10 269.57,234.36 269.67,232.82 269.67,232.78 269.77,231.37 269.87,230.11 269.92,229.59 269.98,228.99 270.08,228.00 270.17,227.19 270.18,227.13 270.28,226.36 270.38,225.69 270.43,225.45 270.49,225.11 270.59,224.60 270.68,224.20 270.69,224.15 270.79,223.76 270.90,223.43 270.93,223.32 271.00,223.14 271.10,222.89 271.18,222.71 271.20,222.68 271.30,222.49 271.41,222.33 271.44,222.29 271.51,222.19 271.61,222.08 271.69,222.00 271.71,221.98 271.82,221.89 271.92,221.82 271.94,221.80 272.02,221.75 272.12,221.70 272.20,221.67 272.23,221.66 272.33,221.62 272.43,221.59 272.45,221.59 272.70,221.53 272.96,221.50 273.21,221.49 273.46,221.48 273.72,221.48 273.97,221.49 274.22,221.50 274.48,221.51 274.73,221.53 274.98,221.55 275.23,221.56 275.49,221.58 275.74,221.60 275.99,221.62 276.25,221.63 276.50,221.65 276.75,221.67 277.01,221.69 277.26,221.71 277.51,221.73 277.77,221.75 278.02,221.77 278.27,221.78 278.53,221.80 278.78,221.82 279.03,221.84 279.28,221.86 279.54,221.88 279.79,221.90 280.04,221.92 280.30,221.93 280.55,221.95 280.80,221.97 281.06,221.99 281.31,222.01 281.56,222.03 281.82,222.05 282.07,222.07 282.32,222.08 282.58,222.10 282.83,222.12 283.08,222.14 283.33,222.16 283.59,222.18 283.84,222.20 284.09,222.22 284.35,222.23 284.60,222.25 284.85,222.27 285.11,222.29 285.36,222.31 285.61,222.33 285.87,222.35 286.12,222.37 286.37,222.39 286.63,222.40 286.88,222.42 287.13,222.44 287.39,222.46 287.64,222.48 287.89,222.50 288.14,222.52 288.40,222.54 288.65,222.55 288.90,222.57 289.16,222.59 289.41,222.61 289.66,222.63 289.92,222.65 290.17,222.67 290.42,222.69 290.68,222.70 290.93,222.72 291.18,222.74 291.44,222.76 291.69,222.78 291.94,222.80 292.19,222.82 292.45,222.84 292.70,222.86 292.95,222.87 293.21,222.89 293.46,222.91 293.71,222.93 293.97,222.95 294.22,222.97 294.47,222.99 294.73,223.01 294.98,223.02 295.23,223.04 295.49,223.06 295.74,223.08 295.99,223.10 296.24,223.12 296.50,223.14 296.75,223.16 297.00,223.17 297.26,223.19 297.51,223.21 297.76,223.23 298.02,223.25 298.27,223.27 298.52,223.29 298.78,223.31 299.03,223.33 299.28,223.34 299.54,223.36 299.79,223.38 300.04,223.40 300.29,223.42 300.55,223.44 300.80,223.46 301.05,223.48 301.31,223.49 301.56,223.51 301.81,223.53 302.07,223.55 302.32,223.57 302.57,223.59 302.83,223.61 303.08,223.62 303.33,223.64 303.59,223.66 303.84,223.68 304.09,223.70 304.34,223.71 304.60,223.73 304.85,223.75 305.10,223.76 305.36,223.78 305.61,223.80 305.86,223.81 306.12,223.83 306.37,223.84 306.62,223.85 306.88,223.86 307.13,223.88 307.38,223.89 307.64,223.89 307.89,223.91 308.14,223.95 308.40,224.02 308.65,224.11 308.90,224.23 309.15,224.38 309.41,224.56 309.66,224.76 309.91,224.99 310.17,225.24 310.42,225.52 310.67,225.82 310.93,226.14 311.18,226.49 311.43,226.86 311.69,227.25 311.94,227.66 312.19,228.10 312.45,228.56 312.70,229.03 312.95,229.53 313.20,230.04 313.46,230.58 313.71,231.13 313.96,231.71 314.22,232.30 314.47,232.91 314.72,233.54 314.98,234.19 315.23,234.86 315.48,235.54 315.74,236.25 315.99,236.97 316.24,237.71 316.50,238.47 316.75,239.25 317.00,240.05 317.25,240.86 317.51,241.70 317.76,242.55 318.01,243.42 318.27,244.31 318.52,245.22 318.77,246.14 319.03,247.08 319.28,248.03 319.53,249.00 319.79,249.98 320.04,250.98 320.29,251.99 320.55,253.01 320.80,254.04 321.05,255.08 321.30,256.13 321.56,257.18 321.81,258.24 322.06,259.30 322.32,260.36 322.57,261.43 322.82,262.49 323.08,263.55 323.33,264.61 323.58,265.67 323.84,266.72 324.09,267.76 324.34,268.80 324.60,269.82 324.85,270.84 325.10,271.85 325.36,272.85 325.61,273.83 325.86,274.80 326.11,275.76 326.37,276.71 326.62,277.64 326.87,278.56 327.13,279.46 327.38,280.35 327.63,281.22 327.89,282.08 328.14,282.93 328.39,283.76 328.65,284.57 328.90,285.37 329.15,286.15 329.41,286.92 329.66,287.68 329.91,288.42 330.16,289.14 330.42,289.85 330.67,290.55 330.92,291.23 331.18,291.90 331.43,292.55 331.68,293.19 331.94,293.81 332.19,294.42 332.44,295.02 332.70,295.60 332.95,296.17 333.20,296.73 333.46,297.27 333.71,297.81 333.96,298.32 334.21,298.83 334.47,299.32 334.72,299.80 334.97,300.27 335.23,300.73 335.48,301.17 335.73,301.60 335.99,302.02 336.24,302.43 336.49,302.83 336.75,303.22 337.00,303.60 337.25,303.96 337.51,304.32 337.76,304.66 338.01,305.00 338.26,305.32 338.52,305.64 338.77,305.94 339.02,306.24 339.28,306.52 339.53,306.80 339.78,307.07 340.04,307.33 340.29,307.58 340.54,307.83 340.80,308.06 341.05,308.29 341.30,308.51 341.56,308.73 341.81,308.93 342.06,309.13 342.31,309.33 342.57,309.51 342.82,309.69 343.07,309.87 343.33,310.03 343.58,310.19 343.83,310.35 344.09,310.50 344.34,310.65 344.59,310.79 344.85,310.92 345.10,311.05 345.35,311.18 345.61,311.30 345.86,311.41 346.11,311.53 346.37,311.63 346.62,311.74 346.87,311.84 347.12,311.94 347.38,312.03 347.63,312.12 347.88,312.21 348.14,312.29 348.39,312.37 348.64,312.45 348.90,312.52 349.15,312.60 349.40,312.66 349.66,312.73 349.91,312.80 350.16,312.86 350.42,312.92 350.67,312.98 350.92,313.04 351.17,313.09 351.43,313.14 351.68,313.19 351.93,313.24 352.19,313.29 352.44,313.34 352.69,313.38 352.95,313.43 353.20,313.47 353.45,313.51 353.71,313.55 353.96,313.59 354.21,313.63 354.47,313.66 354.72,313.70 354.97,313.73 355.22,313.77 355.48,313.80 355.73,313.83 355.98,313.86 356.24,313.89 356.49,313.92 356.74,313.95 357.00,313.98 357.25,314.01 357.50,314.04 357.76,314.06 358.01,314.09 358.26,314.12 358.52,314.14 358.77,314.17 359.02,314.19 359.27,314.22 359.53,314.24 359.78,314.27 360.03,314.29 360.29,314.31 360.54,314.34 360.79,314.36 361.05,314.38 361.30,314.40 361.55,314.42 361.81,314.45 362.06,314.47 362.31,314.49 362.57,314.51 362.82,314.53 363.07,314.55 363.32,314.57 363.58,314.59 363.83,314.61 364.08,314.64 364.34,314.66 364.59,314.68 364.84,314.70 365.10,314.72 365.35,314.74" fill="none" stroke="#d63b34" stroke-width="1.25" stroke-linejoin="round" stroke-linecap="round" />
<polyline points="269.70,303.96 269.80,303.93 269.90,303.89 269.95,303.87 270.01,303.85 270.11,303.80 270.21,303.74 270.21,303.73 270.31,303.66 270.42,303.57 270.46,303.53 270.52,303.47 270.62,303.36 270.71,303.23 270.72,303.22 270.83,303.06 270.93,302.87 270.97,302.80 271.03,302.66 271.13,302.41 271.22,302.17 271.23,302.12 271.34,301.79 271.44,301.40 271.47,301.26 271.54,300.95 271.64,300.44 271.73,299.98 271.75,299.86 271.85,299.19 271.95,298.42 271.98,298.19 272.05,297.55 272.15,296.56 272.23,295.73 272.26,295.44 272.36,294.18 272.46,292.77 272.48,292.43 272.56,291.19 272.67,289.45 272.74,288.12 272.77,287.52 272.87,285.41 272.97,283.11 272.99,282.70 273.08,280.64 273.18,277.99 273.24,276.19 273.28,275.19 273.38,272.25 273.48,269.19 273.50,268.80 273.59,266.05 273.69,262.86 273.75,260.93 273.79,259.64 273.89,256.45 274.00,253.31 274.00,253.08 274.10,250.25 274.20,247.31 274.26,245.75 274.30,244.51 274.40,241.86 274.51,239.39 274.51,239.33 274.61,237.09 274.71,234.98 274.76,234.00 274.81,233.05 274.92,231.31 275.02,229.77 275.02,229.73 275.12,228.32 275.22,227.06 275.27,226.54 275.33,225.94 275.43,224.95 275.52,224.14 275.53,224.08 275.63,223.31 275.73,222.64 275.78,222.40 275.84,222.06 275.94,221.55 276.03,221.15 276.04,221.10 276.14,220.71 276.25,220.38 276.28,220.27 276.35,220.09 276.45,219.84 276.53,219.66 276.55,219.63 276.65,219.44 276.76,219.28 276.79,219.24 276.86,219.14 276.96,219.03 277.04,218.95 277.06,218.93 277.17,218.84 277.27,218.77 277.29,218.75 277.37,218.70 277.47,218.65 277.55,218.62 277.58,218.61 277.68,218.57 277.78,218.54 277.80,218.54 278.05,218.48 278.31,218.45 278.56,218.44 278.81,218.43 279.07,218.43 279.32,218.44 279.57,218.45 279.83,218.46 280.08,218.48 280.33,218.50 280.58,218.51 280.84,218.53 281.09,218.55 281.34,218.57 281.60,218.58 281.85,218.60 282.10,218.62 282.36,218.64 282.61,218.66 282.86,218.68 283.12,218.70 283.37,218.72 283.62,218.73 283.88,218.75 284.13,218.77 284.38,218.79 284.63,218.81 284.89,218.83 285.14,218.85 285.39,218.87 285.65,218.88 285.90,218.90 286.15,218.92 286.41,218.94 286.66,218.96 286.91,218.98 287.17,219.00 287.42,219.02 287.67,219.03 287.93,219.05 288.18,219.07 288.43,219.09 288.68,219.11 288.94,219.13 289.19,219.15 289.44,219.17 289.70,219.18 289.95,219.20 290.20,219.22 290.46,219.24 290.71,219.26 290.96,219.28 291.22,219.30 291.47,219.32 291.72,219.34 291.98,219.35 292.23,219.37 292.48,219.39 292.74,219.41 292.99,219.43 293.24,219.45 293.49,219.47 293.75,219.49 294.00,219.50 294.25,219.52 294.51,219.54 294.76,219.56 295.01,219.58 295.27,219.60 295.52,219.62 295.77,219.64 296.03,219.65 296.28,219.67 296.53,219.69 296.79,219.71 297.04,219.73 297.29,219.75 297.54,219.77 297.80,219.79 298.05,219.80 298.30,219.82 298.56,219.84 298.81,219.86 299.06,219.88 299.32,219.90 299.57,219.91 299.82,219.93 300.08,219.95 300.33,219.97 300.58,219.99 300.84,220.00 301.09,220.02 301.34,220.04 301.59,220.05 301.85,220.07 302.10,220.08 302.35,220.10 302.61,220.11 302.86,220.12 303.11,220.13 303.37,220.14 303.62,220.15 303.87,220.16 304.13,220.16 304.38,220.17 304.63,220.17 304.89,220.17 305.14,220.16 305.39,220.16 305.64,220.15 305.90,220.14 306.15,220.12 306.40,220.10 306.66,220.08 306.91,220.06 307.16,220.03 307.42,219.99 307.67,219.96 307.92,219.92 308.18,219.87 308.43,219.82 308.68,219.77 308.94,219.71 309.19,219.65 309.44,219.59 309.69,219.52 309.95,219.45 310.20,219.38 310.45,219.31 310.71,219.23 310.96,219.16 311.21,219.09 311.47,219.01 311.72,218.94 311.97,218.87 312.23,218.81 312.48,218.74 312.73,218.69 312.99,218.63 313.24,218.59 313.49,218.55 313.75,218.51 314.00,218.50 314.25,218.53 314.50,218.58 314.76,218.68 315.01,218.81 315.26,218.97 315.52,219.17 315.77,219.41 316.02,219.68 316.28,219.99 316.53,220.33 316.78,220.71 317.04,221.12 317.29,221.56 317.54,222.03 317.80,222.53 318.05,223.07 318.30,223.63 318.55,224.22 318.81,224.83 319.06,225.47 319.31,226.14 319.57,226.82 319.82,227.53 320.07,228.26 320.33,229.01 320.58,229.77 320.83,230.55 321.09,231.35 321.34,232.17 321.59,232.99 321.85,233.84 322.10,234.69 322.35,235.56 322.60,236.43 322.86,237.32 323.11,238.22 323.36,239.13 323.62,240.04 323.87,240.96 324.12,241.89 324.38,242.83 324.63,243.78 324.88,244.73 325.14,245.68 325.39,246.64 325.64,247.60 325.90,248.57 326.15,249.54 326.40,250.52 326.65,251.49 326.91,252.47 327.16,253.45 327.41,254.43 327.67,255.41 327.92,256.39 328.17,257.37 328.43,258.34 328.68,259.32 328.93,260.29 329.19,261.26 329.44,262.23 329.69,263.19 329.95,264.15 330.20,265.10 330.45,266.05 330.71,266.99 330.96,267.93 331.21,268.86 331.46,269.78 331.72,270.69 331.97,271.60 332.22,272.50 332.48,273.39 332.73,274.27 332.98,275.14 333.24,276.00 333.49,276.85 333.74,277.69 334.00,278.52 334.25,279.33 334.50,280.14 334.76,280.94 335.01,281.72 335.26,282.49 335.51,283.25 335.77,284.00 336.02,284.74 336.27,285.46 336.53,286.17 336.78,286.87 337.03,287.55 337.29,288.23 337.54,288.89 337.79,289.53 338.05,290.17 338.30,290.79 338.55,291.40 338.81,291.99 339.06,292.58 339.31,293.15 339.56,293.70 339.82,294.25 340.07,294.78 340.32,295.30 340.58,295.80 340.83,296.30 341.08,296.78 341.34,297.25 341.59,297.71 341.84,298.16 342.10,298.59 342.35,299.01 342.60,299.43 342.86,299.83 343.11,300.22 343.36,300.59 343.61,300.96 343.87,301.32 344.12,301.67 344.37,302.00 344.63,302.33 344.88,302.65 345.13,302.95 345.39,303.25 345.64,303.54 345.89,303.82 346.15,304.09 346.40,304.35 346.65,304.61 346.91,304.85 347.16,305.09 347.41,305.32 347.66,305.54 347.92,305.76 348.17,305.96 348.42,306.16 348.68,306.36 348.93,306.54 349.18,306.73 349.44,306.90 349.69,307.07 349.94,307.23 350.20,307.39 350.45,307.54 350.70,307.68 350.96,307.82 351.21,307.96 351.46,308.09 351.72,308.21 351.97,308.34 352.22,308.45 352.47,308.56 352.73,308.67 352.98,308.78 353.23,308.88 353.49,308.98 353.74,309.07 353.99,309.16 354.25,309.25 354.50,309.33 354.75,309.41 355.01,309.49 355.26,309.56 355.51,309.63 355.77,309.70 356.02,309.77 356.27,309.84 356.52,309.90 356.78,309.96 357.03,310.02 357.28,310.07 357.54,310.13 357.79,310.18 358.04,310.23 358.30,310.28 358.55,310.33 358.80,310.37 359.06,310.42 359.31,310.46 359.56,310.50 359.82,310.54 360.07,310.58 360.32,310.62 360.57,310.66 360.83,310.70 361.08,310.73 361.33,310.77 361.59,310.80 361.84,310.83 362.09,310.86 362.35,310.90 362.60,310.93 362.85,310.96 363.11,310.98 363.36,311.01 363.61,311.04 363.87,311.07 364.12,311.10 364.37,311.12 364.62,311.15 364.88,311.17 365.13,311.20 365.38,311.22 365.64,311.25 365.89,311.27 366.14,311.29 366.40,311.32 366.65,311.34 366.90,311.36 367.16,311.39 367.41,311.41 367.66,311.43 367.92,311.45 368.17,311.47 368.42,311.50 368.67,311.52 368.93,311.54 369.18,311.56 369.43,311.58 369.69,311.60 369.94,311.62 370.19,311.64 370.45,311.66 370.70,311.68" fill="none" stroke="#ee714c" stroke-width="1.25" stroke-linejoin="round" stroke-linecap="round" />
<polyline points="275.05,300.91 275.15,300.88 275.25,300.84 275.30,300.82 275.36,300.80 275.46,300.75 275.56,300.69 275.56,300.68 275.66,300.61 275.77,300.52 275.81,300.48 275.87,300.42 275.97,300.31 276.06,300.18 276.07,300.17 276.18,300.01 276.28,299.82 276.32,299.75 276.38,299.61 276.48,299.36 276.57,299.12 276.58,299.07 276.69,298.74 276.79,298.35 276.82,298.21 276.89,297.90 276.99,297.39 277.08,296.93 277.10,296.81 277.20,296.14 277.30,295.37 277.33,295.14 277.40,294.50 277.50,293.51 277.58,292.68 277.61,292.39 277.71,291.13 277.81,289.72 277.83,289.38 277.91,288.14 278.02,286.40 278.09,285.07 278.12,284.47 278.22,282.36 278.32,280.06 278.34,279.65 278.43,277.59 278.53,274.94 278.59,273.14 278.63,272.14 278.73,269.20 278.83,266.14 278.85,265.75 278.94,263.00 279.04,259.81 279.10,257.88 279.14,256.59 279.24,253.40 279.35,250.26 279.35,250.03 279.45,247.20 279.55,244.26 279.61,242.70 279.65,241.46 279.75,238.81 279.86,236.34 279.86,236.28 279.96,234.04 280.06,231.93 280.11,230.95 280.16,230.00 280.27,228.26 280.37,226.72 280.37,226.68 280.47,225.27 280.57,224.01 280.62,223.49 280.68,222.89 280.78,221.90 280.87,221.09 280.88,221.03 280.98,220.26 281.08,219.59 281.13,219.35 281.19,219.01 281.29,218.50 281.38,218.10 281.39,218.05 281.49,217.66 281.60,217.33 281.63,217.22 281.70,217.04 281.80,216.79 281.88,216.61 281.90,216.58 282.00,216.39 282.11,216.23 282.14,216.19 282.21,216.09 282.31,215.98 282.39,215.90 282.41,215.88 282.52,215.79 282.62,215.72 282.64,215.70 282.72,215.65 282.82,215.60 282.90,215.57 282.93,215.56 283.03,215.52 283.13,215.49 283.15,215.49 283.40,215.43 283.66,215.40 283.91,215.39 284.16,215.38 284.42,215.38 284.67,215.39 284.92,215.40 285.18,215.41 285.43,215.43 285.68,215.45 285.93,215.46 286.19,215.48 286.44,215.50 286.69,215.52 286.95,215.53 287.20,215.55 287.45,215.57 287.71,215.59 287.96,215.61 288.21,215.63 288.47,215.65 288.72,215.67 288.97,215.68 289.23,215.70 289.48,215.72 289.73,215.74 289.98,215.76 290.24,215.78 290.49,215.80 290.74,215.82 291.00,215.83 291.25,215.85 291.50,215.87 291.76,215.89 292.01,215.91 292.26,215.93 292.52,215.95 292.77,215.97 293.02,215.98 293.28,216.00 293.53,216.02 293.78,216.04 294.03,216.06 294.29,216.08 294.54,216.10 294.79,216.12 295.05,216.13 295.30,216.15 295.55,216.17 295.81,216.19 296.06,216.21 296.31,216.23 296.57,216.25 296.82,216.27 297.07,216.29 297.33,216.30 297.58,216.32 297.83,216.34 298.09,216.36 298.34,216.38 298.59,216.40 298.84,216.42 299.10,216.44 299.35,216.45 299.60,216.47 299.86,216.49 300.11,216.51 300.36,216.53 300.62,216.55 300.87,216.57 301.12,216.59 301.38,216.60 301.63,216.62 301.88,216.64 302.14,216.66 302.39,216.68 302.64,216.70 302.89,216.72 303.15,216.74 303.40,216.76 303.65,216.77 303.91,216.79 304.16,216.81 304.41,216.83 304.67,216.85 304.92,216.87 305.17,216.89 305.43,216.91 305.68,216.92 305.93,216.94 306.19,216.96 306.44,216.98 306.69,217.00 306.94,217.02 307.20,217.04 307.45,217.06 307.70,217.07 307.96,217.09 308.21,217.11 308.46,217.13 308.72,217.15 308.97,217.17 309.22,217.19 309.48,217.21 309.73,217.23 309.98,217.24 310.24,217.26 310.49,217.28 310.74,217.30 310.99,217.32 311.25,217.34 311.50,217.36 311.75,217.38 312.01,217.39 312.26,217.41 312.51,217.43 312.77,217.45 313.02,217.47 313.27,217.49 313.53,217.51 313.78,217.52 314.03,217.54 314.29,217.56 314.54,217.58 314.79,217.60 315.04,217.62 315.30,217.63 315.55,217.65 315.80,217.67 316.06,217.69 316.31,217.70 316.56,217.72 316.82,217.74 317.07,217.75 317.32,217.77 317.58,217.78 317.83,217.80 318.08,217.81 318.34,217.82 318.59,217.83 318.84,217.84 319.10,217.85 319.35,217.86 319.60,217.86 319.85,217.87 320.11,217.87 320.36,217.87 320.61,217.86 320.87,217.88 321.12,218.02 321.37,218.24 321.63,218.53 321.88,218.86 322.13,219.23 322.39,219.64 322.64,220.08 322.89,220.56 323.15,221.05 323.40,221.58 323.65,222.12 323.90,222.69 324.16,223.27 324.41,223.87 324.66,224.49 324.92,225.12 325.17,225.77 325.42,226.43 325.68,227.10 325.93,227.78 326.18,228.48 326.44,229.18 326.69,229.90 326.94,230.63 327.20,231.37 327.45,232.12 327.70,232.88 327.95,233.65 328.21,234.43 328.46,235.22 328.71,236.03 328.97,236.84 329.22,237.66 329.47,238.49 329.73,239.34 329.98,240.19 330.23,241.05 330.49,241.92 330.74,242.81 330.99,243.70 331.25,244.59 331.50,245.50 331.75,246.41 332.00,247.33 332.26,248.25 332.51,249.17 332.76,250.10 333.02,251.03 333.27,251.97 333.52,252.90 333.78,253.83 334.03,254.76 334.28,255.69 334.54,256.61 334.79,257.53 335.04,258.44 335.30,259.35 335.55,260.25 335.80,261.14 336.06,262.02 336.31,262.89 336.56,263.75 336.81,264.60 337.07,265.44 337.32,266.27 337.57,267.09 337.83,267.89 338.08,268.69 338.33,269.47 338.59,270.24 338.84,270.99 339.09,271.74 339.35,272.47 339.60,273.19 339.85,273.90 340.11,274.59 340.36,275.28 340.61,275.95 340.86,276.61 341.12,277.26 341.37,277.90 341.62,278.53 341.88,279.14 342.13,279.75 342.38,280.35 342.64,280.93 342.89,281.51 343.14,282.08 343.40,282.63 343.65,283.18 343.90,283.72 344.16,284.25 344.41,284.77 344.66,285.28 344.91,285.78 345.17,286.28 345.42,286.76 345.67,287.24 345.93,287.71 346.18,288.17 346.43,288.62 346.69,289.06 346.94,289.50 347.19,289.92 347.45,290.34 347.70,290.75 347.95,291.16 348.21,291.55 348.46,291.94 348.71,292.33 348.96,292.70 349.22,293.07 349.47,293.43 349.72,293.78 349.98,294.13 350.23,294.47 350.48,294.80 350.74,295.12 350.99,295.44 351.24,295.76 351.50,296.06 351.75,296.36 352.00,296.66 352.26,296.95 352.51,297.23 352.76,297.50 353.01,297.77 353.27,298.04 353.52,298.30 353.77,298.55 354.03,298.80 354.28,299.04 354.53,299.28 354.79,299.51 355.04,299.74 355.29,299.96 355.55,300.18 355.80,300.39 356.05,300.60 356.31,300.81 356.56,301.00 356.81,301.20 357.07,301.39 357.32,301.58 357.57,301.76 357.82,301.94 358.08,302.11 358.33,302.28 358.58,302.44 358.84,302.61 359.09,302.77 359.34,302.92 359.60,303.07 359.85,303.22 360.10,303.36 360.36,303.50 360.61,303.64 360.86,303.78 361.12,303.91 361.37,304.04 361.62,304.16 361.87,304.29 362.13,304.41 362.38,304.52 362.63,304.64 362.89,304.75 363.14,304.86 363.39,304.97 363.65,305.07 363.90,305.17 364.15,305.27 364.41,305.37 364.66,305.46 364.91,305.56 365.17,305.65 365.42,305.73 365.67,305.82 365.92,305.91 366.18,305.99 366.43,306.07 366.68,306.15 366.94,306.23 367.19,306.30 367.44,306.38 367.70,306.45 367.95,306.52 368.20,306.59 368.46,306.65 368.71,306.72 368.96,306.79 369.22,306.85 369.47,306.91 369.72,306.97 369.97,307.03 370.23,307.09 370.48,307.15 370.73,307.20 370.99,307.26 371.24,307.31 371.49,307.36 371.75,307.41 372.00,307.46 372.25,307.51 372.51,307.56 372.76,307.61 373.01,307.65 373.27,307.70 373.52,307.74 373.77,307.79 374.02,307.83 374.28,307.87 374.53,307.91 374.78,307.96 375.04,308.00 375.29,308.03 375.54,308.07 375.80,308.11 376.05,308.15" fill="none" stroke="#f5ad68" stroke-width="1.25" stroke-linejoin="round" stroke-linecap="round" />
<polyline points="280.40,297.86 280.50,297.83 280.60,297.79 280.65,297.77 280.71,297.75 280.81,297.70 280.91,297.64 280.91,297.63 281.01,297.56 281.12,297.47 281.16,297.43 281.22,297.37 281.32,297.26 281.41,297.13 281.42,297.12 281.53,296.96 281.63,296.77 281.67,296.70 281.73,296.56 281.83,296.31 281.92,296.07 281.93,296.02 282.04,295.69 282.14,295.30 282.17,295.16 282.24,294.85 282.34,294.34 282.43,293.88 282.45,293.76 282.55,293.09 282.65,292.32 282.68,292.09 282.75,291.45 282.85,290.46 282.93,289.63 282.96,289.34 283.06,288.08 283.16,286.67 283.18,286.33 283.26,285.09 283.37,283.35 283.44,282.02 283.47,281.42 283.57,279.31 283.67,277.01 283.69,276.60 283.78,274.54 283.88,271.89 283.94,270.09 283.98,269.09 284.08,266.15 284.18,263.09 284.20,262.70 284.29,259.95 284.39,256.76 284.45,254.83 284.49,253.54 284.59,250.35 284.70,247.21 284.70,246.98 284.80,244.15 284.90,241.21 284.96,239.65 285.00,238.41 285.10,235.76 285.21,233.29 285.21,233.23 285.31,230.99 285.41,228.88 285.46,227.90 285.51,226.95 285.62,225.21 285.72,223.67 285.72,223.63 285.82,222.22 285.92,220.96 285.97,220.44 286.03,219.84 286.13,218.85 286.22,218.04 286.23,217.98 286.33,217.21 286.43,216.54 286.48,216.30 286.54,215.96 286.64,215.45 286.73,215.05 286.74,215.00 286.84,214.61 286.95,214.28 286.98,214.17 287.05,213.99 287.15,213.74 287.23,213.56 287.25,213.53 287.35,213.34 287.46,213.18 287.49,213.14 287.56,213.04 287.66,212.93 287.74,212.85 287.76,212.83 287.87,212.74 287.97,212.67 287.99,212.65 288.07,212.60 288.17,212.55 288.25,212.52 288.28,212.51 288.38,212.47 288.48,212.44 288.50,212.44 288.75,212.38 289.01,212.35 289.26,212.34 289.51,212.33 289.77,212.33 290.02,212.34 290.27,212.35 290.53,212.36 290.78,212.38 291.03,212.40 291.28,212.41 291.54,212.43 291.79,212.45 292.04,212.47 292.30,212.48 292.55,212.50 292.80,212.52 293.06,212.54 293.31,212.56 293.56,212.58 293.82,212.60 294.07,212.62 294.32,212.63 294.58,212.65 294.83,212.67 295.08,212.69 295.33,212.71 295.59,212.73 295.84,212.75 296.09,212.77 296.35,212.78 296.60,212.80 296.85,212.82 297.11,212.84 297.36,212.86 297.61,212.88 297.87,212.90 298.12,212.92 298.37,212.93 298.63,212.95 298.88,212.97 299.13,212.99 299.38,213.01 299.64,213.03 299.89,213.04 300.14,213.06 300.40,213.08 300.65,213.10 300.90,213.12 301.16,213.13 301.41,213.15 301.66,213.17 301.92,213.18 302.17,213.20 302.42,213.21 302.68,213.23 302.93,213.24 303.18,213.26 303.44,213.27 303.69,213.28 303.94,213.29 304.19,213.30 304.45,213.31 304.70,213.31 304.95,213.31 305.21,213.32 305.46,213.32 305.71,213.31 305.97,213.31 306.22,213.30 306.47,213.29 306.73,213.27 306.98,213.25 307.23,213.23 307.49,213.21 307.74,213.18 307.99,213.15 308.24,213.11 308.50,213.07 308.75,213.02 309.00,212.97 309.26,212.92 309.51,212.86 309.76,212.80 310.02,212.74 310.27,212.67 310.52,212.60 310.78,212.53 311.03,212.46 311.28,212.39 311.54,212.31 311.79,212.24 312.04,212.17 312.29,212.09 312.55,212.02 312.80,211.96 313.05,211.90 313.31,211.84 313.56,211.79 313.81,211.74 314.07,211.70 314.32,211.66 314.57,211.64 314.83,211.62 315.08,211.61 315.33,211.61 315.59,211.62 315.84,211.64 316.09,211.66 316.34,211.70 316.60,211.74 316.85,211.80 317.10,211.86 317.36,211.93 317.61,212.00 317.86,212.08 318.12,212.17 318.37,212.27 318.62,212.37 318.88,212.47 319.13,212.57 319.38,212.68 319.64,212.79 319.89,212.90 320.14,213.02 320.39,213.13 320.65,213.24 320.90,213.35 321.15,213.45 321.41,213.56 321.66,213.66 321.91,213.77 322.17,213.89 322.42,214.01 322.67,214.15 322.93,214.29 323.18,214.45 323.43,214.61 323.69,214.79 323.94,214.98 324.19,215.17 324.45,215.38 324.70,215.60 324.95,215.83 325.20,216.07 325.46,216.32 325.71,216.59 325.96,216.86 326.22,217.15 326.47,217.45 326.72,217.76 326.98,218.09 327.23,218.42 327.48,218.77 327.74,219.13 327.99,219.51 328.24,219.89 328.50,220.29 328.75,220.70 329.00,221.13 329.25,221.56 329.51,222.01 329.76,222.47 330.01,222.94 330.27,223.43 330.52,223.92 330.77,224.43 331.03,224.95 331.28,225.48 331.53,226.02 331.79,226.57 332.04,227.13 332.29,227.70 332.55,228.28 332.80,228.87 333.05,229.47 333.30,230.08 333.56,230.70 333.81,231.33 334.06,231.97 334.32,232.61 334.57,233.26 334.82,233.92 335.08,234.59 335.33,235.26 335.58,235.94 335.84,236.63 336.09,237.32 336.34,238.02 336.60,238.72 336.85,239.43 337.10,240.14 337.35,240.86 337.61,241.58 337.86,242.31 338.11,243.04 338.37,243.77 338.62,244.50 338.87,245.24 339.13,245.98 339.38,246.72 339.63,247.47 339.89,248.21 340.14,248.96 340.39,249.71 340.65,250.45 340.90,251.20 341.15,251.95 341.41,252.70 341.66,253.44 341.91,254.19 342.16,254.93 342.42,255.68 342.67,256.42 342.92,257.16 343.18,257.90 343.43,258.63 343.68,259.37 343.94,260.10 344.19,260.82 344.44,261.55 344.70,262.27 344.95,262.98 345.20,263.70 345.46,264.40 345.71,265.11 345.96,265.81 346.21,266.50 346.47,267.19 346.72,267.87 346.97,268.55 347.23,269.23 347.48,269.89 347.73,270.56 347.99,271.21 348.24,271.86 348.49,272.51 348.75,273.14 349.00,273.77 349.25,274.40 349.51,275.02 349.76,275.63 350.01,276.23 350.26,276.83 350.52,277.42 350.77,278.00 351.02,278.58 351.28,279.15 351.53,279.71 351.78,280.26 352.04,280.81 352.29,281.35 352.54,281.88 352.80,282.41 353.05,282.92 353.30,283.43 353.56,283.93 353.81,284.43 354.06,284.91 354.31,285.39 354.57,285.86 354.82,286.33 355.07,286.78 355.33,287.23 355.58,287.67 355.83,288.10 356.09,288.53 356.34,288.95 356.59,289.36 356.85,289.76 357.10,290.16 357.35,290.55 357.61,290.93 357.86,291.30 358.11,291.67 358.36,292.03 358.62,292.38 358.87,292.72 359.12,293.06 359.38,293.39 359.63,293.72 359.88,294.04 360.14,294.35 360.39,294.65 360.64,294.95 360.90,295.24 361.15,295.53 361.40,295.81 361.66,296.08 361.91,296.35 362.16,296.61 362.42,296.86 362.67,297.11 362.92,297.36 363.17,297.59 363.43,297.83 363.68,298.05 363.93,298.27 364.19,298.49 364.44,298.70 364.69,298.90 364.95,299.10 365.20,299.30 365.45,299.49 365.71,299.68 365.96,299.86 366.21,300.03 366.47,300.21 366.72,300.37 366.97,300.54 367.22,300.70 367.48,300.85 367.73,301.00 367.98,301.15 368.24,301.29 368.49,301.43 368.74,301.57 369.00,301.70 369.25,301.83 369.50,301.95 369.76,302.07 370.01,302.19 370.26,302.31 370.52,302.42 370.77,302.53 371.02,302.63 371.27,302.74 371.53,302.84 371.78,302.94 372.03,303.03 372.29,303.12 372.54,303.21 372.79,303.30 373.05,303.39 373.30,303.47 373.55,303.55 373.81,303.63 374.06,303.70 374.31,303.78 374.57,303.85 374.82,303.92 375.07,303.99 375.32,304.05 375.58,304.12 375.83,304.18 376.08,304.24 376.34,304.30 376.59,304.36 376.84,304.42 377.10,304.47 377.35,304.53 377.60,304.58 377.86,304.63 378.11,304.68 378.36,304.73 378.62,304.78 378.87,304.82 379.12,304.87 379.37,304.91 379.63,304.96 379.88,305.00 380.13,305.04 380.39,305.08 380.64,305.12 380.89,305.16 381.15,305.20 381.40,305.23" fill="none" stroke="#c4e2ec" stroke-width="1.25" stroke-linejoin="round" stroke-linecap="round" />
<polyline points="285.75,294.81 285.85,294.78 285.95,294.74 286.00,294.72 286.06,294.70 286.16,294.65 286.26,294.59 286.26,294.58 286.36,294.51 286.47,294.42 286.51,294.38 286.57,294.32 286.67,294.21 286.76,294.08 286.77,294.07 286.88,293.91 286.98,293.72 287.02,293.65 287.08,293.51 287.18,293.26 287.27,293.02 287.28,292.97 287.39,292.64 287.49,292.25 287.52,292.11 287.59,291.80 287.69,291.29 287.78,290.83 287.80,290.71 287.90,290.04 288.00,289.27 288.03,289.04 288.10,288.40 288.20,287.41 288.28,286.58 288.31,286.29 288.41,285.03 288.51,283.62 288.53,283.28 288.61,282.04 288.72,280.30 288.79,278.97 288.82,278.37 288.92,276.26 289.02,273.96 289.04,273.55 289.13,271.49 289.23,268.84 289.29,267.04 289.33,266.04 289.43,263.10 289.53,260.04 289.55,259.65 289.64,256.90 289.74,253.71 289.80,251.78 289.84,250.49 289.94,247.30 290.05,244.16 290.05,243.93 290.15,241.10 290.25,238.16 290.31,236.60 290.35,235.36 290.45,232.71 290.56,230.24 290.56,230.18 290.66,227.94 290.76,225.83 290.81,224.85 290.86,223.90 290.97,222.16 291.07,220.62 291.07,220.58 291.17,219.17 291.27,217.91 291.32,217.39 291.38,216.79 291.48,215.80 291.57,214.99 291.58,214.93 291.68,214.16 291.78,213.49 291.83,213.25 291.89,212.91 291.99,212.40 292.08,212.00 292.09,211.95 292.19,211.56 292.30,211.23 292.33,211.12 292.40,210.94 292.50,210.69 292.58,210.51 292.60,210.48 292.70,210.29 292.81,210.13 292.84,210.09 292.91,209.99 293.01,209.88 293.09,209.80 293.11,209.78 293.22,209.69 293.32,209.62 293.34,209.60 293.42,209.55 293.52,209.50 293.60,209.47 293.63,209.46 293.73,209.42 293.83,209.39 293.85,209.39 294.10,209.33 294.36,209.30 294.61,209.29 294.86,209.28 295.12,209.28 295.37,209.29 295.62,209.30 295.88,209.31 296.13,209.33 296.38,209.35 296.63,209.36 296.89,209.38 297.14,209.40 297.39,209.42 297.65,209.43 297.90,209.45 298.15,209.47 298.41,209.49 298.66,209.51 298.91,209.53 299.17,209.55 299.42,209.57 299.67,209.58 299.93,209.60 300.18,209.62 300.43,209.64 300.68,209.66 300.94,209.68 301.19,209.70 301.44,209.72 301.70,209.73 301.95,209.75 302.20,209.77 302.46,209.79 302.71,209.81 302.96,209.83 303.22,209.85 303.47,209.87 303.72,209.88 303.98,209.90 304.23,209.92 304.48,209.94 304.73,209.96 304.99,209.98 305.24,209.99 305.49,210.01 305.75,210.03 306.00,210.05 306.25,210.06 306.51,210.08 306.76,210.10 307.01,210.11 307.27,210.13 307.52,210.14 307.77,210.16 308.03,210.17 308.28,210.18 308.53,210.20 308.79,210.21 309.04,210.21 309.29,210.22 309.54,210.23 309.80,210.23 310.05,210.23 310.30,210.23 310.56,210.23 310.81,210.22 311.06,210.21 311.32,210.20 311.57,210.18 311.82,210.16 312.08,210.13 312.33,210.10 312.58,210.07 312.84,210.03 313.09,209.99 313.34,209.94 313.59,209.88 313.85,209.82 314.10,209.76 314.35,209.69 314.61,209.61 314.86,209.53 315.11,209.45 315.37,209.36 315.62,209.27 315.87,209.17 316.13,209.07 316.38,208.97 316.63,208.87 316.89,208.76 317.14,208.66 317.39,208.56 317.64,208.46 317.90,208.36 318.15,208.27 318.40,208.18 318.66,208.10 318.91,208.03 319.16,207.96 319.42,207.90 319.67,207.85 319.92,207.81 320.18,207.78 320.43,207.76 320.68,207.76 320.94,207.76 321.19,207.78 321.44,207.81 321.69,207.85 321.95,207.90 322.20,207.96 322.45,208.04 322.71,208.12 322.96,208.22 323.21,208.32 323.47,208.43 323.72,208.55 323.97,208.67 324.23,208.80 324.48,208.93 324.73,209.07 324.99,209.21 325.24,209.36 325.49,209.51 325.74,209.66 326.00,209.82 326.25,209.98 326.50,210.14 326.76,210.30 327.01,210.47 327.26,210.64 327.52,210.80 327.77,210.97 328.02,211.14 328.28,211.31 328.53,211.49 328.78,211.66 329.04,211.84 329.29,212.02 329.54,212.20 329.80,212.39 330.05,212.58 330.30,212.77 330.55,212.97 330.81,213.17 331.06,213.38 331.31,213.59 331.57,213.81 331.82,214.03 332.07,214.26 332.33,214.50 332.58,214.74 332.83,214.99 333.09,215.26 333.34,215.52 333.59,215.80 333.85,216.09 334.10,216.38 334.35,216.69 334.60,217.00 334.86,217.32 335.11,217.65 335.36,218.00 335.62,218.35 335.87,218.71 336.12,219.08 336.38,219.46 336.63,219.85 336.88,220.26 337.14,220.67 337.39,221.09 337.64,221.52 337.90,221.96 338.15,222.42 338.40,222.88 338.65,223.35 338.91,223.83 339.16,224.32 339.41,224.82 339.67,225.33 339.92,225.85 340.17,226.38 340.43,226.92 340.68,227.47 340.93,228.02 341.19,228.59 341.44,229.16 341.69,229.74 341.95,230.33 342.20,230.93 342.45,231.54 342.70,232.15 342.96,232.77 343.21,233.40 343.46,234.04 343.72,234.68 343.97,235.33 344.22,235.98 344.48,236.64 344.73,237.31 344.98,237.99 345.24,238.67 345.49,239.35 345.74,240.04 346.00,240.73 346.25,241.43 346.50,242.14 346.76,242.84 347.01,243.55 347.26,244.27 347.51,244.99 347.77,245.71 348.02,246.43 348.27,247.16 348.53,247.89 348.78,248.62 349.03,249.35 349.29,250.08 349.54,250.81 349.79,251.55 350.05,252.28 350.30,253.02 350.55,253.75 350.81,254.49 351.06,255.22 351.31,255.96 351.56,256.69 351.82,257.42 352.07,258.15 352.32,258.88 352.58,259.60 352.83,260.32 353.08,261.04 353.34,261.76 353.59,262.47 353.84,263.19 354.10,263.89 354.35,264.59 354.60,265.29 354.86,265.99 355.11,266.68 355.36,267.36 355.61,268.04 355.87,268.72 356.12,269.39 356.37,270.05 356.63,270.71 356.88,271.36 357.13,272.01 357.39,272.65 357.64,273.29 357.89,273.91 358.15,274.53 358.40,275.15 358.65,275.75 358.91,276.35 359.16,276.95 359.41,277.53 359.66,278.11 359.92,278.68 360.17,279.24 360.42,279.80 360.68,280.35 360.93,280.89 361.18,281.42 361.44,281.94 361.69,282.46 361.94,282.96 362.20,283.46 362.45,283.95 362.70,284.44 362.96,284.91 363.21,285.38 363.46,285.84 363.71,286.29 363.97,286.73 364.22,287.16 364.47,287.59 364.73,288.00 364.98,288.41 365.23,288.81 365.49,289.21 365.74,289.59 365.99,289.97 366.25,290.33 366.50,290.70 366.75,291.05 367.01,291.39 367.26,291.73 367.51,292.06 367.77,292.38 368.02,292.70 368.27,293.00 368.52,293.30 368.78,293.60 369.03,293.88 369.28,294.16 369.54,294.43 369.79,294.70 370.04,294.95 370.30,295.20 370.55,295.45 370.80,295.69 371.06,295.92 371.31,296.14 371.56,296.36 371.82,296.58 372.07,296.78 372.32,296.98 372.57,297.18 372.83,297.37 373.08,297.55 373.33,297.73 373.59,297.91 373.84,298.08 374.09,298.24 374.35,298.40 374.60,298.55 374.85,298.70 375.11,298.85 375.36,298.99 375.61,299.12 375.87,299.26 376.12,299.38 376.37,299.51 376.62,299.63 376.88,299.74 377.13,299.86 377.38,299.97 377.64,300.07 377.89,300.17 378.14,300.27 378.40,300.37 378.65,300.46 378.90,300.55 379.16,300.64 379.41,300.72 379.66,300.80 379.92,300.88 380.17,300.96 380.42,301.03 380.67,301.10 380.93,301.17 381.18,301.24 381.43,301.30 381.69,301.36 381.94,301.42 382.19,301.48 382.45,301.54 382.70,301.60 382.95,301.65 383.21,301.70 383.46,301.75 383.71,301.80 383.97,301.85 384.22,301.89 384.47,301.94 384.72,301.98 384.98,302.02 385.23,302.06 385.48,302.10 385.74,302.14 385.99,302.18 386.24,302.22 386.50,302.25 386.75,302.29" fill="none" stroke="#95c2dd" stroke-width="1.25" stroke-linejoin="round" stroke-linecap="round" />
<polyline points="291.10,291.76 291.20,291.73 291.30,291.69 291.35,291.67 291.41,291.65 291.51,291.60 291.61,291.54 291.61,291.53 291.71,291.46 291.82,291.37 291.86,291.33 291.92,291.27 292.02,291.16 292.11,291.03 292.12,291.02 292.23,290.86 292.33,290.67 292.37,290.60 292.43,290.46 292.53,290.21 292.62,289.97 292.63,289.92 292.74,289.59 292.84,289.20 292.87,289.06 292.94,288.75 293.04,288.24 293.13,287.78 293.15,287.66 293.25,286.99 293.35,286.22 293.38,285.99 293.45,285.35 293.55,284.36 293.63,283.53 293.66,283.24 293.76,281.98 293.86,280.57 293.88,280.23 293.96,278.99 294.07,277.25 294.14,275.92 294.17,275.32 294.27,273.21 294.37,270.91 294.39,270.50 294.48,268.44 294.58,265.79 294.64,263.99 294.68,262.99 294.78,260.05 294.88,256.99 294.90,256.60 294.99,253.85 295.09,250.66 295.15,248.73 295.19,247.44 295.29,244.25 295.40,241.11 295.40,240.88 295.50,238.05 295.60,235.11 295.66,233.55 295.70,232.31 295.80,229.66 295.91,227.19 295.91,227.13 296.01,224.89 296.11,222.78 296.16,221.80 296.21,220.85 296.32,219.11 296.42,217.57 296.42,217.53 296.52,216.12 296.62,214.86 296.67,214.34 296.73,213.74 296.83,212.75 296.92,211.94 296.93,211.88 297.03,211.11 297.13,210.44 297.18,210.20 297.24,209.86 297.34,209.35 297.43,208.95 297.44,208.90 297.54,208.51 297.65,208.18 297.68,208.07 297.75,207.89 297.85,207.64 297.93,207.46 297.95,207.43 298.05,207.24 298.16,207.08 298.19,207.04 298.26,206.94 298.36,206.83 298.44,206.75 298.46,206.73 298.57,206.64 298.67,206.57 298.69,206.55 298.77,206.50 298.87,206.45 298.95,206.42 298.98,206.41 299.08,206.37 299.18,206.34 299.20,206.34 299.45,206.28 299.71,206.25 299.96,206.24 300.21,206.23 300.47,206.23 300.72,206.24 300.97,206.25 301.23,206.26 301.48,206.28 301.73,206.30 301.98,206.31 302.24,206.33 302.49,206.35 302.74,206.37 303.00,206.38 303.25,206.40 303.50,206.42 303.76,206.44 304.01,206.46 304.26,206.48 304.52,206.50 304.77,206.52 305.02,206.53 305.28,206.55 305.53,206.57 305.78,206.59 306.03,206.61 306.29,206.63 306.54,206.65 306.79,206.67 307.05,206.68 307.30,206.70 307.55,206.72 307.81,206.74 308.06,206.76 308.31,206.78 308.57,206.80 308.82,206.82 309.07,206.83 309.33,206.85 309.58,206.87 309.83,206.89 310.08,206.91 310.34,206.93 310.59,206.95 310.84,206.97 311.10,206.98 311.35,207.00 311.60,207.02 311.86,207.04 312.11,207.06 312.36,207.08 312.62,207.10 312.87,207.12 313.12,207.14 313.38,207.15 313.63,207.17 313.88,207.19 314.14,207.21 314.39,207.23 314.64,207.25 314.89,207.27 315.15,207.29 315.40,207.30 315.65,207.32 315.91,207.34 316.16,207.36 316.41,207.38 316.67,207.40 316.92,207.42 317.17,207.44 317.43,207.45 317.68,207.47 317.93,207.49 318.19,207.51 318.44,207.53 318.69,207.55 318.94,207.57 319.20,207.59 319.45,207.60 319.70,207.62 319.96,207.64 320.21,207.66 320.46,207.68 320.72,207.70 320.97,207.72 321.22,207.73 321.48,207.75 321.73,207.77 321.98,207.79 322.24,207.81 322.49,207.82 322.74,207.84 322.99,207.86 323.25,207.88 323.50,207.89 323.75,207.91 324.01,207.92 324.26,207.94 324.51,207.95 324.77,207.97 325.02,207.98 325.27,207.99 325.53,208.00 325.78,208.01 326.03,208.02 326.29,208.03 326.54,208.04 326.79,208.04 327.04,208.05 327.30,208.05 327.55,208.05 327.80,208.05 328.06,208.05 328.31,208.05 328.56,208.04 328.82,208.04 329.07,208.03 329.32,208.02 329.58,208.01 329.83,208.01 330.08,208.00 330.34,207.99 330.59,207.98 330.84,207.97 331.09,207.96 331.35,207.95 331.60,207.95 331.85,207.94 332.11,207.94 332.36,207.94 332.61,207.94 332.87,207.95 333.12,207.96 333.37,207.98 333.63,208.00 333.88,208.03 334.13,208.06 334.39,208.10 334.64,208.15 334.89,208.20 335.15,208.27 335.40,208.34 335.65,208.42 335.90,208.52 336.16,208.62 336.41,208.73 336.66,208.85 336.92,208.99 337.17,209.13 337.42,209.28 337.68,209.45 337.93,209.62 338.18,209.81 338.44,210.01 338.69,210.21 338.94,210.43 339.20,210.65 339.45,210.89 339.70,211.13 339.95,211.38 340.21,211.64 340.46,211.91 340.71,212.19 340.97,212.47 341.22,212.76 341.47,213.06 341.73,213.37 341.98,213.68 342.23,214.00 342.49,214.32 342.74,214.65 342.99,214.99 343.25,215.33 343.50,215.68 343.75,216.03 344.00,216.39 344.26,216.76 344.51,217.13 344.76,217.51 345.02,217.90 345.27,218.29 345.52,218.69 345.78,219.09 346.03,219.50 346.28,219.92 346.54,220.35 346.79,220.78 347.04,221.22 347.30,221.67 347.55,222.12 347.80,222.58 348.05,223.05 348.31,223.53 348.56,224.02 348.81,224.51 349.07,225.01 349.32,225.52 349.57,226.04 349.83,226.56 350.08,227.09 350.33,227.63 350.59,228.18 350.84,228.73 351.09,229.30 351.35,229.87 351.60,230.44 351.85,231.03 352.11,231.62 352.36,232.22 352.61,232.82 352.86,233.43 353.12,234.05 353.37,234.68 353.62,235.31 353.88,235.95 354.13,236.59 354.38,237.24 354.64,237.90 354.89,238.56 355.14,239.22 355.40,239.89 355.65,240.57 355.90,241.25 356.16,241.93 356.41,242.62 356.66,243.32 356.91,244.01 357.17,244.71 357.42,245.41 357.67,246.12 357.93,246.83 358.18,247.54 358.43,248.25 358.69,248.97 358.94,249.69 359.19,250.40 359.45,251.12 359.70,251.84 359.95,252.57 360.21,253.29 360.46,254.01 360.71,254.73 360.96,255.45 361.22,256.17 361.47,256.89 361.72,257.61 361.98,258.33 362.23,259.04 362.48,259.76 362.74,260.47 362.99,261.17 363.24,261.88 363.50,262.58 363.75,263.28 364.00,263.98 364.26,264.67 364.51,265.36 364.76,266.04 365.01,266.72 365.27,267.40 365.52,268.07 365.77,268.73 366.03,269.39 366.28,270.04 366.53,270.69 366.79,271.33 367.04,271.97 367.29,272.60 367.55,273.22 367.80,273.83 368.05,274.44 368.31,275.04 368.56,275.64 368.81,276.23 369.06,276.81 369.32,277.38 369.57,277.94 369.82,278.50 370.08,279.05 370.33,279.59 370.58,280.12 370.84,280.65 371.09,281.16 371.34,281.67 371.60,282.17 371.85,282.66 372.10,283.14 372.36,283.61 372.61,284.08 372.86,284.53 373.12,284.98 373.37,285.42 373.62,285.85 373.87,286.27 374.13,286.68 374.38,287.09 374.63,287.48 374.89,287.87 375.14,288.24 375.39,288.61 375.65,288.97 375.90,289.33 376.15,289.67 376.41,290.01 376.66,290.33 376.91,290.65 377.17,290.96 377.42,291.26 377.67,291.56 377.92,291.85 378.18,292.13 378.43,292.40 378.68,292.66 378.94,292.92 379.19,293.17 379.44,293.41 379.70,293.64 379.95,293.87 380.20,294.09 380.46,294.31 380.71,294.51 380.96,294.72 381.22,294.91 381.47,295.10 381.72,295.28 381.97,295.46 382.23,295.63 382.48,295.80 382.73,295.96 382.99,296.11 383.24,296.26 383.49,296.40 383.75,296.54 384.00,296.68 384.25,296.81 384.51,296.93 384.76,297.05 385.01,297.17 385.27,297.28 385.52,297.39 385.77,297.49 386.02,297.60 386.28,297.69 386.53,297.79 386.78,297.88 387.04,297.96 387.29,298.05 387.54,298.13 387.80,298.20 388.05,298.28 388.30,298.35 388.56,298.42 388.81,298.49 389.06,298.55 389.32,298.61 389.57,298.67 389.82,298.73 390.07,298.79 390.33,298.84 390.58,298.89 390.83,298.94 391.09,298.99 391.34,299.04 391.59,299.08 391.85,299.12 392.10,299.17" fill="none" stroke="#6490cb" stroke-width="1.25" stroke-linejoin="round" stroke-linecap="round" />
<polyline points="296.45,288.71 296.55,288.68 296.65,288.64 296.70,288.62 296.76,288.60 296.86,288.55 296.96,288.49 296.96,288.48 297.06,288.41 297.17,288.32 297.21,288.28 297.27,288.22 297.37,288.11 297.46,287.98 297.47,287.97 297.58,287.81 297.68,287.62 297.72,287.55 297.78,287.41 297.88,287.16 297.97,286.92 297.98,286.87 298.09,286.54 298.19,286.15 298.22,286.01 298.29,285.70 298.39,285.19 298.48,284.73 298.50,284.61 298.60,283.94 298.70,283.17 298.73,282.94 298.80,282.30 298.90,281.31 298.98,280.48 299.01,280.19 299.11,278.93 299.21,277.52 299.23,277.18 299.31,275.94 299.42,274.20 299.49,272.87 299.52,272.27 299.62,270.16 299.72,267.86 299.74,267.45 299.83,265.39 299.93,262.74 299.99,260.94 300.03,259.94 300.13,257.00 300.23,253.94 300.25,253.55 300.34,250.80 300.44,247.61 300.50,245.68 300.54,244.39 300.64,241.20 300.75,238.06 300.75,237.83 300.85,235.00 300.95,232.06 301.01,230.50 301.05,229.26 301.15,226.61 301.26,224.14 301.26,224.08 301.36,221.84 301.46,219.73 301.51,218.75 301.56,217.80 301.67,216.06 301.77,214.52 301.77,214.48 301.87,213.07 301.97,211.81 302.02,211.29 302.08,210.69 302.18,209.70 302.27,208.89 302.28,208.83 302.38,208.06 302.48,207.39 302.53,207.15 302.59,206.81 302.69,206.30 302.78,205.90 302.79,205.85 302.89,205.46 303.00,205.13 303.03,205.02 303.10,204.84 303.20,204.59 303.28,204.41 303.30,204.38 303.40,204.19 303.51,204.03 303.54,203.99 303.61,203.89 303.71,203.78 303.79,203.70 303.81,203.68 303.92,203.59 304.02,203.52 304.04,203.50 304.12,203.45 304.22,203.40 304.30,203.37 304.33,203.36 304.43,203.32 304.53,203.29 304.55,203.29 304.80,203.23 305.06,203.20 305.31,203.19 305.56,203.18 305.82,203.18 306.07,203.19 306.32,203.20 306.58,203.21 306.83,203.23 307.08,203.25 307.33,203.26 307.59,203.28 307.84,203.30 308.09,203.32 308.35,203.33 308.60,203.35 308.85,203.37 309.11,203.39 309.36,203.41 309.61,203.43 309.87,203.45 310.12,203.47 310.37,203.48 310.63,203.50 310.88,203.52 311.13,203.54 311.38,203.56 311.64,203.58 311.89,203.60 312.14,203.62 312.40,203.63 312.65,203.65 312.90,203.67 313.16,203.69 313.41,203.71 313.66,203.73 313.92,203.75 314.17,203.77 314.42,203.78 314.68,203.80 314.93,203.82 315.18,203.84 315.43,203.86 315.69,203.88 315.94,203.90 316.19,203.92 316.45,203.93 316.70,203.95 316.95,203.97 317.21,203.99 317.46,204.01 317.71,204.03 317.97,204.05 318.22,204.07 318.47,204.09 318.73,204.10 318.98,204.12 319.23,204.14 319.49,204.16 319.74,204.18 319.99,204.20 320.24,204.22 320.50,204.24 320.75,204.25 321.00,204.27 321.26,204.29 321.51,204.31 321.76,204.33 322.02,204.35 322.27,204.37 322.52,204.39 322.78,204.40 323.03,204.42 323.28,204.44 323.54,204.46 323.79,204.48 324.04,204.50 324.29,204.52 324.55,204.54 324.80,204.56 325.05,204.57 325.31,204.59 325.56,204.61 325.81,204.63 326.07,204.65 326.32,204.67 326.57,204.69 326.83,204.71 327.08,204.72 327.33,204.74 327.59,204.76 327.84,204.78 328.09,204.80 328.34,204.82 328.60,204.84 328.85,204.86 329.10,204.87 329.36,204.89 329.61,204.91 329.86,204.93 330.12,204.95 330.37,204.97 330.62,204.99 330.88,205.01 331.13,205.03 331.38,205.04 331.64,205.06 331.89,205.08 332.14,205.10 332.39,205.12 332.65,205.14 332.90,205.16 333.15,205.18 333.41,205.19 333.66,205.21 333.91,205.23 334.17,205.25 334.42,205.27 334.67,205.29 334.93,205.31 335.18,205.33 335.43,205.34 335.69,205.36 335.94,205.38 336.19,205.40 336.44,205.42 336.70,205.44 336.95,205.46 337.20,205.48 337.46,205.50 337.71,205.51 337.96,205.53 338.22,205.55 338.47,205.57 338.72,205.59 338.98,205.61 339.23,205.63 339.48,205.65 339.74,205.66 339.99,205.68 340.24,205.70 340.50,205.72 340.75,205.74 341.00,205.76 341.25,205.78 341.51,205.80 341.76,205.81 342.01,205.83 342.27,205.85 342.52,205.87 342.77,205.89 343.03,205.91 343.28,205.93 343.53,205.95 343.79,205.97 344.04,205.99 344.29,206.01 344.55,206.03 344.80,206.06 345.05,206.09 345.30,206.12 345.56,206.16 345.81,206.20 346.06,206.24 346.32,206.29 346.57,206.34 346.82,206.40 347.08,206.46 347.33,206.53 347.58,206.60 347.84,206.68 348.09,206.77 348.34,206.86 348.60,206.96 348.85,207.07 349.10,207.19 349.35,207.31 349.61,207.44 349.86,207.58 350.11,207.72 350.37,207.88 350.62,208.04 350.87,208.22 351.13,208.40 351.38,208.59 351.63,208.79 351.89,209.00 352.14,209.23 352.39,209.46 352.65,209.70 352.90,209.95 353.15,210.21 353.40,210.49 353.66,210.77 353.91,211.06 354.16,211.36 354.42,211.68 354.67,212.00 354.92,212.33 355.18,212.68 355.43,213.03 355.68,213.39 355.94,213.76 356.19,214.14 356.44,214.53 356.70,214.92 356.95,215.32 357.20,215.73 357.46,216.15 357.71,216.57 357.96,216.99 358.21,217.42 358.47,217.85 358.72,218.29 358.97,218.73 359.23,219.18 359.48,219.63 359.73,220.08 359.99,220.53 360.24,220.99 360.49,221.45 360.75,221.92 361.00,222.39 361.25,222.87 361.51,223.36 361.76,223.85 362.01,224.36 362.26,224.87 362.52,225.40 362.77,225.95 363.02,226.51 363.28,227.09 363.53,227.69 363.78,228.30 364.04,228.94 364.29,229.61 364.54,230.29 364.80,231.00 365.05,231.74 365.30,232.50 365.56,233.28 365.81,234.09 366.06,234.93 366.31,235.78 366.57,236.66 366.82,237.56 367.07,238.47 367.33,239.40 367.58,240.35 367.83,241.30 368.09,242.27 368.34,243.25 368.59,244.23 368.85,245.21 369.10,246.19 369.35,247.18 369.61,248.16 369.86,249.14 370.11,250.11 370.36,251.07 370.62,252.03 370.87,252.97 371.12,253.91 371.38,254.83 371.63,255.75 371.88,256.65 372.14,257.54 372.39,258.42 372.64,259.28 372.90,260.13 373.15,260.97 373.40,261.80 373.66,262.62 373.91,263.42 374.16,264.21 374.41,265.00 374.67,265.77 374.92,266.53 375.17,267.27 375.43,268.01 375.68,268.74 375.93,269.45 376.19,270.16 376.44,270.85 376.69,271.54 376.95,272.21 377.20,272.88 377.45,273.53 377.71,274.17 377.96,274.81 378.21,275.43 378.47,276.04 378.72,276.64 378.97,277.23 379.22,277.81 379.48,278.38 379.73,278.93 379.98,279.48 380.24,280.02 380.49,280.54 380.74,281.06 381.00,281.56 381.25,282.05 381.50,282.53 381.76,283.00 382.01,283.46 382.26,283.91 382.52,284.35 382.77,284.78 383.02,285.19 383.27,285.60 383.53,286.00 383.78,286.38 384.03,286.76 384.29,287.12 384.54,287.48 384.79,287.82 385.05,288.16 385.30,288.48 385.55,288.80 385.81,289.10 386.06,289.40 386.31,289.69 386.57,289.97 386.82,290.24 387.07,290.50 387.32,290.75 387.58,291.00 387.83,291.23 388.08,291.46 388.34,291.68 388.59,291.90 388.84,292.10 389.10,292.30 389.35,292.49 389.60,292.68 389.86,292.86 390.11,293.03 390.36,293.19 390.62,293.35 390.87,293.51 391.12,293.65 391.37,293.80 391.63,293.93 391.88,294.06 392.13,294.19 392.39,294.31 392.64,294.43 392.89,294.54 393.15,294.65 393.40,294.75 393.65,294.85 393.91,294.95 394.16,295.04 394.41,295.12 394.67,295.21 394.92,295.29 395.17,295.37 395.42,295.44 395.68,295.51 395.93,295.58 396.18,295.65 396.44,295.71 396.69,295.77 396.94,295.83 397.20,295.89 397.45,295.94" fill="none" stroke="#3a4497" stroke-width="1.25" stroke-linejoin="round" stroke-linecap="round" />
<text x="444.50" y="198.10" font-size="11.55" fill="#111" font-weight="bold">e</text>
<rect x="479.4" y="196.4" width="201.70" height="116.80" fill="none" stroke="#8c8c8c" stroke-width="0.9"/>
<line x1="479.40" y1="313.20" x2="481.80" y2="313.20" stroke="#8c8c8c" stroke-width="0.8" />
<text x="463.20" y="316.70" font-size="10.23" textLength="12.80" lengthAdjust="spacingAndGlyphs">0.0</text>
<line x1="479.40" y1="289.80" x2="481.80" y2="289.80" stroke="#8c8c8c" stroke-width="0.8" />
<text x="463.20" y="293.30" font-size="10.23" textLength="12.80" lengthAdjust="spacingAndGlyphs">0.5</text>
<line x1="479.40" y1="266.40" x2="481.80" y2="266.40" stroke="#8c8c8c" stroke-width="0.8" />
<text x="463.20" y="269.90" font-size="10.23" textLength="12.80" lengthAdjust="spacingAndGlyphs">1.0</text>
<line x1="479.40" y1="243.00" x2="481.80" y2="243.00" stroke="#8c8c8c" stroke-width="0.8" />
<text x="463.20" y="246.50" font-size="10.23" textLength="12.80" lengthAdjust="spacingAndGlyphs">1.5</text>
<line x1="479.40" y1="219.60" x2="481.80" y2="219.60" stroke="#8c8c8c" stroke-width="0.8" />
<text x="463.20" y="223.10" font-size="10.23" textLength="12.80" lengthAdjust="spacingAndGlyphs">2.0</text>
<line x1="479.40" y1="196.20" x2="481.80" y2="196.20" stroke="#8c8c8c" stroke-width="0.8" />
<text x="463.20" y="199.70" font-size="10.23" textLength="12.80" lengthAdjust="spacingAndGlyphs">2.5</text>
<line x1="493.40" y1="313.20" x2="493.40" y2="310.80" stroke="#8c8c8c" stroke-width="0.8" />
<text x="493.40" y="323.50" font-size="10.23" textLength="4.90" lengthAdjust="spacingAndGlyphs" text-anchor="middle">0</text>
<line x1="528.00" y1="313.20" x2="528.00" y2="310.80" stroke="#8c8c8c" stroke-width="0.8" />
<text x="528.00" y="323.50" font-size="10.23" textLength="10.20" lengthAdjust="spacingAndGlyphs" text-anchor="middle">20</text>
<line x1="562.60" y1="313.20" x2="562.60" y2="310.80" stroke="#8c8c8c" stroke-width="0.8" />
<text x="562.60" y="323.50" font-size="10.23" textLength="10.40" lengthAdjust="spacingAndGlyphs" text-anchor="middle">40</text>
<line x1="597.20" y1="313.20" x2="597.20" y2="310.80" stroke="#8c8c8c" stroke-width="0.8" />
<text x="597.20" y="323.50" font-size="10.23" textLength="10.40" lengthAdjust="spacingAndGlyphs" text-anchor="middle">60</text>
<line x1="631.80" y1="313.20" x2="631.80" y2="310.80" stroke="#8c8c8c" stroke-width="0.8" />
<text x="631.80" y="323.50" font-size="10.23" textLength="10.40" lengthAdjust="spacingAndGlyphs" text-anchor="middle">80</text>
<line x1="666.40" y1="313.20" x2="666.40" y2="310.80" stroke="#8c8c8c" stroke-width="0.8" />
<text x="666.40" y="323.50" font-size="10.23" textLength="15.60" lengthAdjust="spacingAndGlyphs" text-anchor="middle">100</text>
<text x="560.80" y="338.60" font-size="10.23" textLength="39.40" lengthAdjust="spacingAndGlyphs">Time (ns)</text>
<text x="454.6" y="273.0" font-size="9.3" transform="rotate(-90 454.6 273.0)" textLength="35.2" lengthAdjust="spacingAndGlyphs">PL (kcts)</text>
<g fill="#7d8ed6" fill-opacity="0.85"><circle cx="479.56" cy="312.30" r="1.35"/><circle cx="479.91" cy="313.39" r="1.35"/><circle cx="480.25" cy="312.65" r="1.35"/><circle cx="480.60" cy="312.86" r="1.35"/><circle cx="480.94" cy="312.80" r="1.35"/><circle cx="481.29" cy="312.71" r="1.35"/><circle cx="481.64" cy="313.12" r="1.35"/><circle cx="481.98" cy="312.65" r="1.35"/><circle cx="482.33" cy="312.77" r="1.35"/><circle cx="482.67" cy="311.72" r="1.35"/><circle cx="483.02" cy="312.43" r="1.35"/><circle cx="483.37" cy="312.53" r="1.35"/><circle cx="483.71" cy="312.46" r="1.35"/><circle cx="484.06" cy="312.51" r="1.35"/><circle cx="484.40" cy="312.55" r="1.35"/><circle cx="484.75" cy="312.34" r="1.35"/><circle cx="485.10" cy="312.07" r="1.35"/><circle cx="485.44" cy="312.19" r="1.35"/><circle cx="485.79" cy="311.84" r="1.35"/><circle cx="486.13" cy="312.05" r="1.35"/><circle cx="486.48" cy="311.93" r="1.35"/><circle cx="486.83" cy="311.48" r="1.35"/><circle cx="487.17" cy="311.65" r="1.35"/><circle cx="487.52" cy="311.82" r="1.35"/><circle cx="487.86" cy="311.65" r="1.35"/><circle cx="488.21" cy="311.37" r="1.35"/><circle cx="488.56" cy="310.89" r="1.35"/><circle cx="488.90" cy="311.38" r="1.35"/><circle cx="489.25" cy="311.27" r="1.35"/><circle cx="489.59" cy="310.78" r="1.35"/><circle cx="489.94" cy="311.22" r="1.35"/><circle cx="490.29" cy="310.91" r="1.35"/><circle cx="490.63" cy="310.40" r="1.35"/><circle cx="490.98" cy="310.34" r="1.35"/><circle cx="491.32" cy="310.35" r="1.35"/><circle cx="491.67" cy="309.98" r="1.35"/><circle cx="492.02" cy="311.06" r="1.35"/><circle cx="492.36" cy="309.47" r="1.35"/><circle cx="492.71" cy="310.02" r="1.35"/><circle cx="493.05" cy="310.10" r="1.35"/><circle cx="493.40" cy="309.11" r="1.35"/><circle cx="493.46" cy="308.94" r="1.35"/><circle cx="493.52" cy="309.40" r="1.35"/><circle cx="493.58" cy="309.66" r="1.35"/><circle cx="493.64" cy="309.21" r="1.35"/><circle cx="493.70" cy="309.24" r="1.35"/><circle cx="493.75" cy="308.65" r="1.35"/><circle cx="493.76" cy="308.92" r="1.35"/><circle cx="493.82" cy="309.14" r="1.35"/><circle cx="493.88" cy="308.77" r="1.35"/><circle cx="493.94" cy="306.10" r="1.35"/><circle cx="494.01" cy="301.89" r="1.35"/><circle cx="494.07" cy="296.87" r="1.35"/><circle cx="494.09" cy="295.31" r="1.35"/><circle cx="494.13" cy="294.03" r="1.35"/><circle cx="494.19" cy="291.35" r="1.35"/><circle cx="494.25" cy="287.30" r="1.35"/><circle cx="494.31" cy="287.33" r="1.35"/><circle cx="494.37" cy="281.05" r="1.35"/><circle cx="494.43" cy="278.56" r="1.35"/><circle cx="494.44" cy="280.72" r="1.35"/><circle cx="494.49" cy="276.47" r="1.35"/><circle cx="494.55" cy="275.26" r="1.35"/><circle cx="494.61" cy="270.60" r="1.35"/><circle cx="494.67" cy="271.88" r="1.35"/><circle cx="494.73" cy="268.10" r="1.35"/><circle cx="494.78" cy="264.04" r="1.35"/><circle cx="494.79" cy="263.13" r="1.35"/><circle cx="494.85" cy="265.28" r="1.35"/><circle cx="494.91" cy="260.96" r="1.35"/><circle cx="494.97" cy="257.79" r="1.35"/><circle cx="495.03" cy="256.97" r="1.35"/><circle cx="495.10" cy="252.10" r="1.35"/><circle cx="495.13" cy="254.62" r="1.35"/><circle cx="495.16" cy="251.77" r="1.35"/><circle cx="495.22" cy="251.71" r="1.35"/><circle cx="495.28" cy="246.64" r="1.35"/><circle cx="495.34" cy="246.70" r="1.35"/><circle cx="495.40" cy="245.39" r="1.35"/><circle cx="495.46" cy="245.43" r="1.35"/><circle cx="495.48" cy="240.49" r="1.35"/><circle cx="495.52" cy="240.51" r="1.35"/><circle cx="495.58" cy="238.87" r="1.35"/><circle cx="495.64" cy="236.77" r="1.35"/><circle cx="495.70" cy="236.25" r="1.35"/><circle cx="495.76" cy="236.04" r="1.35"/><circle cx="495.82" cy="234.78" r="1.35"/><circle cx="495.88" cy="233.35" r="1.35"/><circle cx="495.94" cy="229.12" r="1.35"/><circle cx="496.00" cy="231.48" r="1.35"/><circle cx="496.06" cy="229.05" r="1.35"/><circle cx="496.12" cy="227.42" r="1.35"/><circle cx="496.17" cy="225.83" r="1.35"/><circle cx="496.19" cy="225.03" r="1.35"/><circle cx="496.25" cy="226.24" r="1.35"/><circle cx="496.31" cy="225.73" r="1.35"/><circle cx="496.37" cy="222.37" r="1.35"/><circle cx="496.43" cy="219.72" r="1.35"/><circle cx="496.49" cy="219.31" r="1.35"/><circle cx="496.51" cy="219.60" r="1.35"/><circle cx="496.55" cy="219.75" r="1.35"/><circle cx="496.61" cy="218.02" r="1.35"/><circle cx="496.67" cy="217.83" r="1.35"/><circle cx="496.73" cy="215.60" r="1.35"/><circle cx="496.79" cy="216.91" r="1.35"/><circle cx="496.85" cy="214.93" r="1.35"/><circle cx="496.86" cy="215.15" r="1.35"/><circle cx="496.91" cy="213.67" r="1.35"/><circle cx="496.97" cy="213.42" r="1.35"/><circle cx="497.03" cy="209.74" r="1.35"/><circle cx="497.09" cy="210.52" r="1.35"/><circle cx="497.15" cy="209.98" r="1.35"/><circle cx="497.21" cy="214.17" r="1.35"/><circle cx="497.21" cy="211.88" r="1.35"/><circle cx="497.28" cy="211.76" r="1.35"/><circle cx="497.34" cy="209.85" r="1.35"/><circle cx="497.40" cy="213.16" r="1.35"/><circle cx="497.46" cy="208.29" r="1.35"/><circle cx="497.52" cy="208.14" r="1.35"/><circle cx="497.55" cy="211.10" r="1.35"/><circle cx="497.58" cy="210.58" r="1.35"/><circle cx="497.64" cy="210.14" r="1.35"/><circle cx="497.70" cy="208.87" r="1.35"/><circle cx="497.76" cy="207.96" r="1.35"/><circle cx="497.82" cy="206.04" r="1.35"/><circle cx="497.88" cy="208.95" r="1.35"/><circle cx="497.90" cy="207.69" r="1.35"/><circle cx="497.94" cy="208.49" r="1.35"/><circle cx="498.00" cy="206.38" r="1.35"/><circle cx="498.06" cy="207.72" r="1.35"/><circle cx="498.12" cy="206.90" r="1.35"/><circle cx="498.18" cy="210.10" r="1.35"/><circle cx="498.24" cy="208.94" r="1.35"/><circle cx="498.30" cy="209.76" r="1.35"/><circle cx="498.37" cy="206.72" r="1.35"/><circle cx="498.59" cy="208.54" r="1.35"/><circle cx="498.94" cy="212.80" r="1.35"/><circle cx="499.28" cy="217.94" r="1.35"/><circle cx="499.63" cy="223.31" r="1.35"/><circle cx="499.97" cy="232.80" r="1.35"/><circle cx="500.32" cy="241.96" r="1.35"/><circle cx="500.67" cy="249.49" r="1.35"/><circle cx="501.01" cy="256.36" r="1.35"/><circle cx="501.36" cy="269.02" r="1.35"/><circle cx="501.70" cy="277.76" r="1.35"/><circle cx="502.05" cy="285.66" r="1.35"/><circle cx="502.40" cy="291.60" r="1.35"/><circle cx="502.74" cy="294.18" r="1.35"/><circle cx="503.09" cy="296.55" r="1.35"/><circle cx="503.43" cy="298.06" r="1.35"/><circle cx="503.78" cy="296.86" r="1.35"/><circle cx="504.13" cy="294.46" r="1.35"/><circle cx="504.47" cy="290.38" r="1.35"/><circle cx="504.82" cy="286.89" r="1.35"/><circle cx="505.16" cy="279.60" r="1.35"/><circle cx="505.51" cy="272.10" r="1.35"/><circle cx="505.86" cy="266.19" r="1.35"/><circle cx="506.20" cy="258.79" r="1.35"/><circle cx="506.55" cy="252.65" r="1.35"/><circle cx="506.89" cy="246.12" r="1.35"/><circle cx="507.24" cy="239.65" r="1.35"/><circle cx="507.59" cy="237.55" r="1.35"/><circle cx="507.93" cy="234.79" r="1.35"/><circle cx="508.28" cy="232.50" r="1.35"/><circle cx="508.62" cy="233.11" r="1.35"/><circle cx="508.97" cy="233.50" r="1.35"/><circle cx="509.32" cy="241.48" r="1.35"/><circle cx="509.66" cy="241.73" r="1.35"/><circle cx="510.01" cy="248.48" r="1.35"/><circle cx="510.35" cy="253.30" r="1.35"/><circle cx="510.70" cy="258.38" r="1.35"/><circle cx="511.05" cy="264.15" r="1.35"/><circle cx="511.39" cy="270.13" r="1.35"/><circle cx="511.74" cy="276.79" r="1.35"/><circle cx="512.08" cy="279.97" r="1.35"/><circle cx="512.43" cy="286.09" r="1.35"/><circle cx="512.78" cy="288.91" r="1.35"/><circle cx="513.12" cy="289.90" r="1.35"/><circle cx="513.47" cy="291.95" r="1.35"/><circle cx="513.81" cy="289.01" r="1.35"/><circle cx="514.16" cy="288.64" r="1.35"/><circle cx="514.51" cy="285.02" r="1.35"/><circle cx="514.85" cy="284.11" r="1.35"/><circle cx="515.20" cy="280.72" r="1.35"/><circle cx="515.54" cy="275.83" r="1.35"/><circle cx="515.89" cy="270.63" r="1.35"/><circle cx="516.24" cy="267.94" r="1.35"/><circle cx="516.58" cy="262.47" r="1.35"/><circle cx="516.93" cy="259.21" r="1.35"/><circle cx="517.27" cy="253.88" r="1.35"/><circle cx="517.62" cy="254.41" r="1.35"/><circle cx="517.97" cy="250.53" r="1.35"/><circle cx="518.31" cy="252.00" r="1.35"/><circle cx="518.66" cy="252.58" r="1.35"/><circle cx="519.00" cy="253.29" r="1.35"/><circle cx="519.35" cy="255.77" r="1.35"/><circle cx="519.70" cy="256.59" r="1.35"/><circle cx="520.04" cy="258.58" r="1.35"/><circle cx="520.39" cy="263.30" r="1.35"/><circle cx="520.73" cy="266.54" r="1.35"/><circle cx="521.08" cy="269.15" r="1.35"/><circle cx="521.43" cy="274.80" r="1.35"/><circle cx="521.77" cy="278.51" r="1.35"/><circle cx="522.12" cy="282.26" r="1.35"/><circle cx="522.46" cy="286.37" r="1.35"/><circle cx="522.81" cy="285.88" r="1.35"/><circle cx="523.16" cy="289.84" r="1.35"/><circle cx="523.50" cy="288.04" r="1.35"/><circle cx="523.85" cy="288.64" r="1.35"/><circle cx="524.19" cy="286.72" r="1.35"/><circle cx="524.54" cy="286.57" r="1.35"/><circle cx="524.89" cy="285.49" r="1.35"/><circle cx="525.23" cy="281.86" r="1.35"/><circle cx="525.58" cy="280.31" r="1.35"/><circle cx="525.92" cy="277.10" r="1.35"/><circle cx="526.27" cy="274.04" r="1.35"/><circle cx="526.62" cy="271.61" r="1.35"/><circle cx="526.96" cy="269.27" r="1.35"/><circle cx="527.31" cy="268.06" r="1.35"/><circle cx="527.65" cy="265.61" r="1.35"/><circle cx="528.00" cy="267.08" r="1.35"/><circle cx="528.35" cy="263.97" r="1.35"/><circle cx="528.69" cy="265.39" r="1.35"/><circle cx="529.04" cy="262.97" r="1.35"/><circle cx="529.38" cy="263.91" r="1.35"/><circle cx="529.73" cy="269.75" r="1.35"/><circle cx="530.08" cy="269.00" r="1.35"/><circle cx="530.42" cy="271.64" r="1.35"/><circle cx="530.77" cy="275.28" r="1.35"/><circle cx="531.11" cy="275.84" r="1.35"/><circle cx="531.46" cy="279.55" r="1.35"/><circle cx="531.81" cy="283.40" r="1.35"/><circle cx="532.15" cy="283.79" r="1.35"/><circle cx="532.50" cy="285.46" r="1.35"/><circle cx="532.84" cy="286.61" r="1.35"/><circle cx="533.19" cy="288.97" r="1.35"/><circle cx="533.54" cy="287.61" r="1.35"/><circle cx="533.88" cy="287.56" r="1.35"/><circle cx="534.23" cy="289.11" r="1.35"/><circle cx="534.57" cy="287.84" r="1.35"/><circle cx="534.92" cy="286.12" r="1.35"/><circle cx="535.27" cy="285.24" r="1.35"/><circle cx="535.61" cy="281.08" r="1.35"/><circle cx="535.96" cy="281.07" r="1.35"/><circle cx="536.30" cy="280.76" r="1.35"/><circle cx="536.65" cy="278.85" r="1.35"/><circle cx="537.00" cy="276.44" r="1.35"/><circle cx="537.34" cy="272.18" r="1.35"/><circle cx="537.69" cy="274.25" r="1.35"/><circle cx="538.03" cy="273.16" r="1.35"/><circle cx="538.38" cy="272.31" r="1.35"/><circle cx="538.73" cy="273.03" r="1.35"/><circle cx="539.07" cy="270.43" r="1.35"/><circle cx="539.42" cy="274.75" r="1.35"/><circle cx="539.76" cy="274.16" r="1.35"/><circle cx="540.11" cy="276.17" r="1.35"/><circle cx="540.46" cy="277.08" r="1.35"/><circle cx="540.80" cy="280.82" r="1.35"/><circle cx="541.15" cy="279.05" r="1.35"/><circle cx="541.49" cy="282.87" r="1.35"/><circle cx="541.84" cy="284.26" r="1.35"/><circle cx="542.19" cy="286.71" r="1.35"/><circle cx="542.53" cy="287.69" r="1.35"/><circle cx="542.88" cy="287.34" r="1.35"/><circle cx="543.22" cy="287.63" r="1.35"/><circle cx="543.57" cy="288.29" r="1.35"/><circle cx="543.92" cy="287.96" r="1.35"/><circle cx="544.26" cy="288.29" r="1.35"/><circle cx="544.61" cy="288.56" r="1.35"/><circle cx="544.95" cy="287.08" r="1.35"/><circle cx="545.30" cy="286.48" r="1.35"/><circle cx="545.65" cy="286.24" r="1.35"/><circle cx="545.99" cy="284.30" r="1.35"/><circle cx="546.34" cy="282.59" r="1.35"/><circle cx="546.68" cy="282.70" r="1.35"/><circle cx="547.03" cy="282.40" r="1.35"/><circle cx="547.38" cy="280.35" r="1.35"/><circle cx="547.72" cy="278.31" r="1.35"/><circle cx="548.07" cy="280.31" r="1.35"/><circle cx="548.41" cy="279.95" r="1.35"/><circle cx="548.76" cy="280.00" r="1.35"/><circle cx="549.11" cy="278.65" r="1.35"/><circle cx="549.45" cy="282.66" r="1.35"/><circle cx="549.80" cy="280.76" r="1.35"/><circle cx="550.14" cy="280.65" r="1.35"/><circle cx="550.49" cy="283.86" r="1.35"/><circle cx="550.84" cy="282.35" r="1.35"/><circle cx="551.18" cy="284.49" r="1.35"/><circle cx="551.53" cy="286.73" r="1.35"/><circle cx="551.87" cy="286.98" r="1.35"/><circle cx="552.22" cy="289.70" r="1.35"/><circle cx="552.57" cy="289.54" r="1.35"/><circle cx="552.91" cy="287.85" r="1.35"/><circle cx="553.26" cy="291.03" r="1.35"/><circle cx="553.60" cy="288.70" r="1.35"/><circle cx="553.95" cy="290.70" r="1.35"/><circle cx="554.30" cy="289.62" r="1.35"/><circle cx="554.64" cy="290.33" r="1.35"/><circle cx="554.99" cy="292.20" r="1.35"/><circle cx="555.33" cy="290.08" r="1.35"/><circle cx="555.68" cy="288.75" r="1.35"/><circle cx="556.03" cy="289.47" r="1.35"/><circle cx="556.37" cy="289.03" r="1.35"/><circle cx="556.72" cy="286.63" r="1.35"/><circle cx="557.06" cy="287.10" r="1.35"/><circle cx="557.41" cy="287.70" r="1.35"/><circle cx="557.76" cy="286.22" r="1.35"/><circle cx="558.10" cy="284.28" r="1.35"/><circle cx="558.45" cy="285.58" r="1.35"/><circle cx="558.79" cy="284.06" r="1.35"/><circle cx="559.14" cy="283.58" r="1.35"/><circle cx="559.49" cy="285.48" r="1.35"/><circle cx="559.83" cy="287.14" r="1.35"/><circle cx="560.18" cy="287.84" r="1.35"/><circle cx="560.52" cy="287.12" r="1.35"/><circle cx="560.87" cy="286.87" r="1.35"/><circle cx="561.22" cy="288.22" r="1.35"/><circle cx="561.56" cy="288.66" r="1.35"/><circle cx="561.91" cy="290.33" r="1.35"/><circle cx="562.25" cy="290.25" r="1.35"/><circle cx="562.60" cy="291.56" r="1.35"/><circle cx="562.95" cy="291.89" r="1.35"/><circle cx="563.29" cy="293.16" r="1.35"/><circle cx="563.64" cy="293.67" r="1.35"/><circle cx="563.98" cy="292.78" r="1.35"/><circle cx="564.33" cy="293.38" r="1.35"/><circle cx="564.68" cy="293.15" r="1.35"/><circle cx="565.02" cy="291.44" r="1.35"/><circle cx="565.37" cy="291.89" r="1.35"/><circle cx="565.71" cy="288.69" r="1.35"/><circle cx="566.06" cy="290.19" r="1.35"/><circle cx="566.41" cy="291.30" r="1.35"/><circle cx="566.75" cy="289.54" r="1.35"/><circle cx="567.10" cy="289.59" r="1.35"/><circle cx="567.44" cy="290.30" r="1.35"/><circle cx="567.79" cy="288.28" r="1.35"/><circle cx="568.14" cy="289.98" r="1.35"/><circle cx="568.48" cy="292.17" r="1.35"/><circle cx="568.83" cy="288.34" r="1.35"/><circle cx="569.17" cy="289.85" r="1.35"/><circle cx="569.52" cy="287.97" r="1.35"/><circle cx="569.87" cy="290.36" r="1.35"/><circle cx="570.21" cy="291.22" r="1.35"/><circle cx="570.56" cy="288.98" r="1.35"/><circle cx="570.90" cy="291.96" r="1.35"/><circle cx="571.25" cy="291.21" r="1.35"/><circle cx="571.60" cy="290.52" r="1.35"/><circle cx="571.94" cy="292.24" r="1.35"/><circle cx="572.29" cy="292.86" r="1.35"/><circle cx="572.63" cy="293.09" r="1.35"/><circle cx="572.98" cy="292.76" r="1.35"/><circle cx="573.33" cy="294.50" r="1.35"/><circle cx="573.67" cy="293.43" r="1.35"/><circle cx="574.02" cy="293.58" r="1.35"/><circle cx="574.36" cy="292.07" r="1.35"/><circle cx="574.71" cy="294.41" r="1.35"/><circle cx="575.06" cy="294.83" r="1.35"/><circle cx="575.40" cy="293.21" r="1.35"/><circle cx="575.75" cy="294.04" r="1.35"/><circle cx="576.09" cy="293.20" r="1.35"/><circle cx="576.44" cy="293.12" r="1.35"/><circle cx="576.79" cy="291.94" r="1.35"/><circle cx="577.13" cy="293.40" r="1.35"/><circle cx="577.48" cy="292.69" r="1.35"/><circle cx="577.82" cy="294.83" r="1.35"/><circle cx="578.17" cy="293.19" r="1.35"/><circle cx="578.52" cy="290.90" r="1.35"/><circle cx="578.86" cy="292.98" r="1.35"/><circle cx="579.21" cy="293.07" r="1.35"/><circle cx="579.55" cy="293.68" r="1.35"/><circle cx="579.90" cy="292.21" r="1.35"/><circle cx="580.25" cy="292.82" r="1.35"/><circle cx="580.59" cy="294.33" r="1.35"/><circle cx="580.94" cy="292.96" r="1.35"/><circle cx="581.28" cy="293.65" r="1.35"/><circle cx="581.63" cy="293.54" r="1.35"/><circle cx="581.98" cy="295.09" r="1.35"/><circle cx="582.32" cy="293.31" r="1.35"/><circle cx="582.67" cy="294.74" r="1.35"/><circle cx="583.01" cy="295.44" r="1.35"/><circle cx="583.36" cy="295.97" r="1.35"/><circle cx="583.71" cy="295.89" r="1.35"/><circle cx="584.05" cy="295.05" r="1.35"/><circle cx="584.40" cy="296.06" r="1.35"/><circle cx="584.74" cy="294.93" r="1.35"/><circle cx="585.09" cy="295.31" r="1.35"/><circle cx="585.44" cy="294.59" r="1.35"/><circle cx="585.78" cy="294.94" r="1.35"/><circle cx="586.13" cy="295.57" r="1.35"/><circle cx="586.47" cy="297.03" r="1.35"/><circle cx="586.82" cy="295.01" r="1.35"/><circle cx="587.17" cy="294.46" r="1.35"/><circle cx="587.51" cy="294.90" r="1.35"/><circle cx="587.86" cy="294.48" r="1.35"/><circle cx="588.20" cy="295.32" r="1.35"/><circle cx="588.55" cy="295.22" r="1.35"/><circle cx="588.90" cy="295.73" r="1.35"/><circle cx="589.24" cy="293.79" r="1.35"/><circle cx="589.59" cy="294.93" r="1.35"/><circle cx="589.93" cy="295.63" r="1.35"/><circle cx="590.28" cy="296.51" r="1.35"/><circle cx="590.63" cy="295.68" r="1.35"/><circle cx="590.97" cy="294.54" r="1.35"/><circle cx="591.32" cy="295.59" r="1.35"/><circle cx="591.66" cy="296.81" r="1.35"/><circle cx="592.01" cy="295.23" r="1.35"/><circle cx="592.36" cy="295.45" r="1.35"/><circle cx="592.70" cy="296.02" r="1.35"/><circle cx="593.05" cy="296.35" r="1.35"/><circle cx="593.39" cy="296.20" r="1.35"/><circle cx="593.74" cy="296.82" r="1.35"/><circle cx="594.09" cy="296.71" r="1.35"/><circle cx="594.43" cy="298.02" r="1.35"/><circle cx="594.78" cy="296.21" r="1.35"/><circle cx="595.12" cy="297.23" r="1.35"/><circle cx="595.47" cy="295.75" r="1.35"/><circle cx="595.82" cy="299.00" r="1.35"/><circle cx="596.16" cy="296.71" r="1.35"/><circle cx="596.51" cy="296.42" r="1.35"/><circle cx="596.85" cy="297.43" r="1.35"/><circle cx="597.20" cy="296.72" r="1.35"/><circle cx="597.55" cy="296.42" r="1.35"/><circle cx="597.89" cy="296.52" r="1.35"/><circle cx="598.24" cy="297.42" r="1.35"/><circle cx="598.58" cy="297.09" r="1.35"/><circle cx="598.93" cy="296.17" r="1.35"/><circle cx="599.28" cy="296.01" r="1.35"/><circle cx="599.62" cy="297.04" r="1.35"/><circle cx="599.97" cy="297.15" r="1.35"/><circle cx="600.31" cy="297.17" r="1.35"/><circle cx="600.66" cy="296.62" r="1.35"/><circle cx="601.01" cy="298.45" r="1.35"/><circle cx="601.35" cy="298.82" r="1.35"/><circle cx="601.70" cy="297.81" r="1.35"/><circle cx="602.04" cy="298.94" r="1.35"/><circle cx="602.39" cy="298.68" r="1.35"/><circle cx="602.74" cy="298.29" r="1.35"/><circle cx="603.08" cy="298.10" r="1.35"/><circle cx="603.43" cy="299.42" r="1.35"/><circle cx="603.77" cy="298.06" r="1.35"/><circle cx="604.12" cy="300.12" r="1.35"/><circle cx="604.47" cy="298.38" r="1.35"/><circle cx="604.81" cy="300.04" r="1.35"/><circle cx="605.16" cy="299.82" r="1.35"/><circle cx="605.50" cy="298.35" r="1.35"/><circle cx="605.85" cy="299.14" r="1.35"/><circle cx="606.20" cy="299.42" r="1.35"/><circle cx="606.54" cy="299.12" r="1.35"/><circle cx="606.89" cy="298.38" r="1.35"/><circle cx="607.23" cy="298.76" r="1.35"/><circle cx="607.58" cy="298.71" r="1.35"/><circle cx="607.93" cy="297.86" r="1.35"/><circle cx="608.27" cy="299.23" r="1.35"/><circle cx="608.62" cy="299.05" r="1.35"/><circle cx="608.96" cy="299.11" r="1.35"/><circle cx="609.31" cy="297.85" r="1.35"/><circle cx="609.66" cy="298.04" r="1.35"/><circle cx="610.00" cy="297.89" r="1.35"/><circle cx="610.35" cy="298.98" r="1.35"/><circle cx="610.69" cy="299.17" r="1.35"/><circle cx="611.04" cy="298.51" r="1.35"/><circle cx="611.39" cy="299.56" r="1.35"/><circle cx="611.73" cy="298.75" r="1.35"/><circle cx="612.08" cy="298.94" r="1.35"/><circle cx="612.42" cy="300.11" r="1.35"/><circle cx="612.77" cy="299.75" r="1.35"/><circle cx="613.12" cy="299.87" r="1.35"/><circle cx="613.46" cy="298.58" r="1.35"/><circle cx="613.81" cy="298.02" r="1.35"/><circle cx="614.15" cy="300.07" r="1.35"/><circle cx="614.50" cy="300.03" r="1.35"/><circle cx="614.85" cy="301.75" r="1.35"/><circle cx="615.19" cy="299.94" r="1.35"/><circle cx="615.54" cy="300.11" r="1.35"/><circle cx="615.88" cy="300.90" r="1.35"/><circle cx="616.23" cy="299.53" r="1.35"/><circle cx="616.58" cy="301.25" r="1.35"/><circle cx="616.92" cy="300.25" r="1.35"/><circle cx="617.27" cy="299.98" r="1.35"/><circle cx="617.61" cy="300.99" r="1.35"/><circle cx="617.96" cy="299.44" r="1.35"/><circle cx="618.31" cy="299.31" r="1.35"/><circle cx="618.65" cy="301.12" r="1.35"/><circle cx="619.00" cy="301.16" r="1.35"/><circle cx="619.34" cy="299.71" r="1.35"/><circle cx="619.69" cy="300.22" r="1.35"/><circle cx="620.04" cy="301.14" r="1.35"/><circle cx="620.38" cy="300.53" r="1.35"/><circle cx="620.73" cy="300.46" r="1.35"/><circle cx="621.07" cy="300.56" r="1.35"/><circle cx="621.42" cy="299.94" r="1.35"/><circle cx="621.77" cy="300.34" r="1.35"/><circle cx="622.11" cy="299.43" r="1.35"/><circle cx="622.46" cy="299.79" r="1.35"/><circle cx="622.80" cy="300.37" r="1.35"/><circle cx="623.15" cy="300.15" r="1.35"/><circle cx="623.50" cy="300.04" r="1.35"/><circle cx="623.84" cy="300.54" r="1.35"/><circle cx="624.19" cy="301.95" r="1.35"/><circle cx="624.53" cy="300.52" r="1.35"/><circle cx="624.88" cy="301.11" r="1.35"/><circle cx="625.23" cy="300.04" r="1.35"/><circle cx="625.57" cy="301.13" r="1.35"/><circle cx="625.92" cy="300.84" r="1.35"/><circle cx="626.26" cy="300.99" r="1.35"/><circle cx="626.61" cy="300.04" r="1.35"/><circle cx="626.96" cy="301.10" r="1.35"/><circle cx="627.30" cy="301.42" r="1.35"/><circle cx="627.65" cy="301.02" r="1.35"/><circle cx="627.99" cy="301.55" r="1.35"/><circle cx="628.34" cy="301.14" r="1.35"/><circle cx="628.69" cy="301.28" r="1.35"/><circle cx="629.03" cy="301.11" r="1.35"/><circle cx="629.38" cy="299.98" r="1.35"/><circle cx="629.72" cy="301.65" r="1.35"/><circle cx="630.07" cy="301.38" r="1.35"/><circle cx="630.42" cy="301.59" r="1.35"/><circle cx="630.76" cy="301.04" r="1.35"/><circle cx="631.11" cy="302.38" r="1.35"/><circle cx="631.45" cy="302.10" r="1.35"/><circle cx="631.80" cy="301.70" r="1.35"/><circle cx="632.15" cy="301.36" r="1.35"/><circle cx="632.49" cy="301.83" r="1.35"/><circle cx="632.84" cy="302.19" r="1.35"/><circle cx="633.18" cy="302.49" r="1.35"/><circle cx="633.53" cy="301.60" r="1.35"/><circle cx="633.88" cy="301.02" r="1.35"/><circle cx="634.22" cy="301.82" r="1.35"/><circle cx="634.57" cy="301.94" r="1.35"/><circle cx="634.91" cy="301.80" r="1.35"/><circle cx="635.26" cy="302.76" r="1.35"/><circle cx="635.61" cy="302.35" r="1.35"/><circle cx="635.95" cy="302.34" r="1.35"/><circle cx="636.30" cy="301.97" r="1.35"/><circle cx="636.64" cy="302.20" r="1.35"/><circle cx="636.99" cy="303.01" r="1.35"/><circle cx="637.34" cy="301.44" r="1.35"/><circle cx="637.68" cy="301.07" r="1.35"/><circle cx="638.03" cy="302.40" r="1.35"/><circle cx="638.37" cy="301.97" r="1.35"/><circle cx="638.72" cy="302.08" r="1.35"/><circle cx="639.07" cy="301.75" r="1.35"/><circle cx="639.41" cy="303.30" r="1.35"/><circle cx="639.76" cy="301.26" r="1.35"/><circle cx="640.10" cy="302.68" r="1.35"/><circle cx="640.45" cy="301.56" r="1.35"/><circle cx="640.80" cy="302.39" r="1.35"/><circle cx="641.14" cy="302.75" r="1.35"/><circle cx="641.49" cy="302.62" r="1.35"/><circle cx="641.83" cy="301.98" r="1.35"/><circle cx="642.18" cy="303.19" r="1.35"/><circle cx="642.53" cy="302.91" r="1.35"/><circle cx="642.87" cy="303.03" r="1.35"/><circle cx="643.22" cy="303.88" r="1.35"/><circle cx="643.56" cy="301.94" r="1.35"/><circle cx="643.91" cy="302.45" r="1.35"/><circle cx="644.26" cy="302.87" r="1.35"/><circle cx="644.60" cy="302.13" r="1.35"/><circle cx="644.95" cy="303.53" r="1.35"/><circle cx="645.29" cy="302.98" r="1.35"/><circle cx="645.64" cy="301.83" r="1.35"/><circle cx="645.99" cy="302.33" r="1.35"/><circle cx="646.33" cy="304.43" r="1.35"/><circle cx="646.68" cy="305.16" r="1.35"/><circle cx="647.02" cy="303.69" r="1.35"/><circle cx="647.37" cy="302.34" r="1.35"/><circle cx="647.72" cy="303.34" r="1.35"/><circle cx="648.06" cy="303.19" r="1.35"/><circle cx="648.41" cy="302.68" r="1.35"/><circle cx="648.75" cy="303.66" r="1.35"/><circle cx="649.10" cy="302.97" r="1.35"/><circle cx="649.45" cy="302.62" r="1.35"/><circle cx="649.79" cy="302.85" r="1.35"/><circle cx="650.14" cy="302.93" r="1.35"/><circle cx="650.48" cy="303.60" r="1.35"/><circle cx="650.83" cy="302.91" r="1.35"/><circle cx="651.18" cy="303.55" r="1.35"/><circle cx="651.52" cy="302.47" r="1.35"/><circle cx="651.87" cy="301.70" r="1.35"/><circle cx="652.21" cy="303.85" r="1.35"/><circle cx="652.56" cy="304.79" r="1.35"/><circle cx="652.91" cy="303.71" r="1.35"/><circle cx="653.25" cy="303.24" r="1.35"/><circle cx="653.60" cy="302.84" r="1.35"/><circle cx="653.94" cy="302.85" r="1.35"/><circle cx="654.29" cy="304.06" r="1.35"/><circle cx="654.64" cy="304.09" r="1.35"/><circle cx="654.98" cy="302.81" r="1.35"/><circle cx="655.33" cy="304.32" r="1.35"/><circle cx="655.67" cy="302.96" r="1.35"/><circle cx="656.02" cy="303.81" r="1.35"/><circle cx="656.37" cy="303.20" r="1.35"/><circle cx="656.71" cy="303.25" r="1.35"/><circle cx="657.06" cy="303.22" r="1.35"/><circle cx="657.40" cy="303.21" r="1.35"/><circle cx="657.75" cy="304.36" r="1.35"/><circle cx="658.10" cy="303.57" r="1.35"/><circle cx="658.44" cy="303.76" r="1.35"/><circle cx="658.79" cy="303.59" r="1.35"/><circle cx="659.13" cy="303.03" r="1.35"/><circle cx="659.48" cy="303.99" r="1.35"/><circle cx="659.83" cy="304.28" r="1.35"/><circle cx="660.17" cy="304.32" r="1.35"/><circle cx="660.52" cy="304.08" r="1.35"/><circle cx="660.86" cy="303.45" r="1.35"/><circle cx="661.21" cy="304.44" r="1.35"/><circle cx="661.56" cy="303.25" r="1.35"/><circle cx="661.90" cy="303.81" r="1.35"/><circle cx="662.25" cy="304.16" r="1.35"/><circle cx="662.59" cy="304.87" r="1.35"/><circle cx="662.94" cy="303.92" r="1.35"/><circle cx="663.29" cy="303.68" r="1.35"/><circle cx="663.63" cy="305.20" r="1.35"/><circle cx="663.98" cy="303.42" r="1.35"/><circle cx="664.32" cy="303.16" r="1.35"/><circle cx="664.67" cy="303.98" r="1.35"/><circle cx="665.02" cy="303.91" r="1.35"/><circle cx="665.36" cy="302.76" r="1.35"/><circle cx="665.71" cy="303.50" r="1.35"/><circle cx="666.05" cy="304.81" r="1.35"/><circle cx="666.40" cy="307.92" r="1.35"/><circle cx="666.75" cy="308.17" r="1.35"/><circle cx="667.09" cy="308.35" r="1.35"/><circle cx="667.44" cy="309.50" r="1.35"/><circle cx="667.78" cy="308.28" r="1.35"/><circle cx="668.13" cy="309.03" r="1.35"/><circle cx="668.48" cy="308.83" r="1.35"/><circle cx="668.82" cy="309.10" r="1.35"/><circle cx="669.17" cy="308.81" r="1.35"/><circle cx="669.51" cy="309.41" r="1.35"/><circle cx="669.86" cy="309.72" r="1.35"/><circle cx="670.21" cy="309.31" r="1.35"/><circle cx="670.55" cy="309.08" r="1.35"/><circle cx="670.90" cy="309.84" r="1.35"/><circle cx="671.24" cy="309.30" r="1.35"/><circle cx="671.59" cy="309.81" r="1.35"/><circle cx="671.94" cy="310.18" r="1.35"/><circle cx="672.28" cy="309.52" r="1.35"/><circle cx="672.63" cy="310.44" r="1.35"/><circle cx="672.97" cy="309.86" r="1.35"/><circle cx="673.32" cy="310.46" r="1.35"/><circle cx="673.67" cy="310.20" r="1.35"/><circle cx="674.01" cy="310.83" r="1.35"/><circle cx="674.36" cy="310.76" r="1.35"/><circle cx="674.70" cy="310.18" r="1.35"/><circle cx="675.05" cy="310.52" r="1.35"/><circle cx="675.40" cy="310.62" r="1.35"/><circle cx="675.74" cy="310.82" r="1.35"/><circle cx="676.09" cy="310.58" r="1.35"/><circle cx="676.43" cy="311.21" r="1.35"/><circle cx="676.78" cy="311.16" r="1.35"/><circle cx="677.13" cy="310.90" r="1.35"/><circle cx="677.47" cy="311.14" r="1.35"/><circle cx="677.82" cy="311.13" r="1.35"/><circle cx="678.16" cy="310.97" r="1.35"/><circle cx="678.51" cy="311.03" r="1.35"/><circle cx="678.86" cy="311.08" r="1.35"/><circle cx="679.20" cy="310.54" r="1.35"/><circle cx="679.55" cy="310.77" r="1.35"/><circle cx="679.89" cy="310.73" r="1.35"/><circle cx="680.24" cy="311.13" r="1.35"/><circle cx="680.59" cy="311.29" r="1.35"/><circle cx="680.93" cy="311.58" r="1.35"/></g>
<polyline points="496.86,226.65 497.03,222.65 497.21,219.10 497.38,216.01 497.55,213.44 497.72,211.38 497.90,209.87 498.07,208.92 498.24,208.53 498.42,208.69 498.59,209.40 498.76,210.65 498.94,212.40 499.11,214.65 499.28,217.34 499.45,220.46 499.63,223.95 499.80,227.77 499.97,231.88 500.15,236.22 500.32,240.74 500.49,245.40 500.67,250.12 500.84,254.87 501.01,259.58 501.19,264.21 501.36,268.70 501.53,273.01 501.70,277.08 501.88,280.89 502.05,284.38 502.22,287.53 502.40,290.30 502.57,292.68 502.74,294.64 502.91,296.16 503.09,297.24 503.26,297.88 503.43,298.07 503.61,297.81 503.78,297.13 503.95,296.04 504.13,294.56 504.30,292.71 504.47,290.52 504.64,288.02 504.82,285.25 504.99,282.25 505.16,279.05 505.34,275.70 505.51,272.24 505.68,268.72 505.86,265.17 506.03,261.64 506.20,258.17 506.38,254.80 506.55,251.57 506.72,248.52 506.89,245.68 507.07,243.09 507.24,240.76 507.41,238.73 507.59,237.02 507.76,235.63 507.93,234.59 508.10,233.90 508.28,233.56 508.45,233.59 508.62,233.96 508.80,234.68 508.97,235.72 509.14,237.08 509.32,238.74 509.49,240.67 509.66,242.85 509.83,245.25 510.01,247.85 510.18,250.60 510.35,253.47 510.53,256.44 510.70,259.47 510.87,262.53 511.05,265.57 511.22,268.57 511.39,271.49 511.56,274.30 511.74,276.98 511.91,279.49 512.08,281.81 512.26,283.91 512.43,285.79 512.60,287.41 512.78,288.77 512.95,289.86 513.12,290.67 513.29,291.19 513.47,291.43 513.64,291.39 513.81,291.07 513.99,290.49 514.16,289.65 514.33,288.57 514.51,287.27 514.68,285.77 514.85,284.08 515.02,282.24 515.20,280.27 515.37,278.19 515.54,276.04 515.72,273.83 515.89,271.60 516.06,269.37 516.24,267.17 516.41,265.03 516.58,262.97 516.75,261.01 516.93,259.19 517.10,257.51 517.27,256.00 517.45,254.67 517.62,253.54 517.79,252.61 517.97,251.90 518.14,251.42 518.31,251.16 518.49,251.13 518.66,251.32 518.83,251.73 519.00,252.36 519.18,253.19 519.35,254.21 519.52,255.41 519.70,256.78 519.87,258.29 520.04,259.93 520.22,261.68 520.39,263.51 520.56,265.41 520.73,267.36 520.91,269.33 521.08,271.29 521.25,273.24 521.43,275.14 521.60,276.98 521.77,278.74 521.95,280.40 522.12,281.94 522.29,283.35 522.46,284.62 522.64,285.73 522.81,286.68 522.98,287.45 523.16,288.05 523.33,288.46 523.50,288.70 523.67,288.75 523.85,288.63 524.02,288.33 524.19,287.87 524.37,287.26 524.54,286.50 524.71,285.61 524.89,284.59 525.06,283.47 525.23,282.27 525.40,280.99 525.58,279.65 525.75,278.27 525.92,276.88 526.10,275.48 526.27,274.09 526.44,272.74 526.62,271.43 526.79,270.19 526.96,269.02 527.13,267.94 527.31,266.97 527.48,266.10 527.65,265.36 527.83,264.76 528.00,264.28 528.17,263.95 528.35,263.76 528.52,263.72 528.69,263.82 528.87,264.06 529.04,264.43 529.21,264.94 529.38,265.58 529.56,266.33 529.73,267.19 529.90,268.15 530.08,269.19 530.25,270.30 530.42,271.47 530.60,272.70 530.77,273.95 530.94,275.22 531.11,276.49 531.29,277.76 531.46,279.01 531.63,280.21 531.81,281.37 531.98,282.47 532.15,283.50 532.33,284.45 532.50,285.31 532.67,286.07 532.84,286.72 533.02,287.27 533.19,287.71 533.36,288.03 533.54,288.24 533.71,288.33 533.88,288.31 534.06,288.17 534.23,287.94 534.40,287.59 534.57,287.16 534.75,286.64 534.92,286.03 535.09,285.36 535.27,284.63 535.44,283.85 535.61,283.03 535.78,282.18 535.96,281.31 536.13,280.44 536.30,279.57 536.48,278.72 536.65,277.90 536.82,277.11 537.00,276.37 537.17,275.68 537.34,275.06 537.51,274.50 537.69,274.03 537.86,273.63 538.03,273.32 538.21,273.10 538.38,272.97 538.55,272.93 538.73,272.98 538.90,273.13 539.07,273.36 539.25,273.67 539.42,274.07 539.59,274.55 539.76,275.09 539.94,275.70 540.11,276.36 540.28,277.08 540.46,277.83 540.63,278.62 540.80,279.43 540.98,280.26 541.15,281.09 541.32,281.91 541.49,282.73 541.67,283.53 541.84,284.29 542.01,285.02 542.19,285.71 542.36,286.35 542.53,286.93 542.71,287.46 542.88,287.91 543.05,288.30 543.22,288.62 543.40,288.87 543.57,289.04 543.74,289.14 543.92,289.17 544.09,289.12 544.26,289.01 544.44,288.83 544.61,288.59 544.78,288.29 544.95,287.94 545.13,287.54 545.30,287.10 545.47,286.63 545.65,286.13 545.82,285.61 545.99,285.08 546.16,284.54 546.34,284.00 546.51,283.47 546.68,282.96 546.86,282.47 547.03,282.00 547.20,281.57 547.38,281.17 547.55,280.82 547.72,280.52 547.89,280.27 548.07,280.07 548.24,279.92 548.41,279.84 548.59,279.81 548.76,279.84 548.93,279.93 549.11,280.08 549.28,280.28 549.45,280.53 549.62,280.83 549.80,281.18 549.97,281.57 550.14,282.00 550.32,282.46 550.49,282.95 550.66,283.46 550.84,283.99 551.01,284.53 551.18,285.07 551.36,285.61 551.53,286.15 551.70,286.68 551.87,287.19 552.05,287.68 552.22,288.14 552.39,288.57 552.57,288.97 552.74,289.33 552.91,289.65 553.09,289.93 553.26,290.16 553.43,290.35 553.60,290.49 553.78,290.58 553.95,290.63 554.12,290.63 554.30,290.58 554.47,290.50 554.64,290.37 554.82,290.20 554.99,290.01 555.16,289.78 555.33,289.52 555.51,289.24 555.68,288.94 555.85,288.63 556.03,288.31 556.20,287.98 556.37,287.65 556.55,287.32 556.72,287.01 556.89,286.70 557.06,286.41 557.24,286.14 557.41,285.90 557.58,285.68 557.76,285.49 557.93,285.33 558.10,285.21 558.27,285.12 558.45,285.07 558.62,285.05 558.79,285.07 558.97,285.13 559.14,285.22 559.31,285.36 559.49,285.52 559.66,285.72 559.83,285.94 560.00,286.20 560.18,286.47 560.35,286.78 560.52,287.09 560.70,287.43 560.87,287.78 561.04,288.13 561.22,288.49 561.39,288.85 561.56,289.21 561.74,289.56 561.91,289.90 562.08,290.23 562.25,290.54 562.43,290.83 562.60,291.11 562.77,291.36 562.95,291.58 563.12,291.78 563.29,291.95 563.47,292.09 563.64,292.20 563.81,292.29 563.98,292.34 564.16,292.36 564.33,292.35 564.50,292.32 564.68,292.26 564.85,292.17 565.02,292.06 565.20,291.94 565.37,291.79 565.54,291.63 565.71,291.45 565.89,291.27 566.06,291.08 566.23,290.88 566.41,290.68 566.58,290.49 566.75,290.30 566.93,290.11 567.10,289.94 567.27,289.77 567.44,289.62 567.62,289.49 567.79,289.37 567.96,289.28 568.14,289.20 568.31,289.15 568.48,289.12 568.66,289.12 568.83,289.13 569.00,289.18 569.17,289.24 569.35,289.33 569.52,289.44 569.69,289.57 569.87,289.72 570.04,289.88 570.21,290.07 570.38,290.27 570.56,290.48 570.73,290.70 570.90,290.93 571.08,291.16 571.25,291.40 571.42,291.64 571.60,291.88 571.77,292.12 571.94,292.35 572.12,292.57 572.29,292.79 572.46,292.99 572.63,293.18 572.81,293.35 572.98,293.51 573.15,293.66 573.33,293.78 573.50,293.89 573.67,293.98 573.85,294.04 574.02,294.09 574.19,294.12 574.36,294.14 574.54,294.13 574.71,294.11 574.88,294.07 575.06,294.02 575.23,293.95 575.40,293.87 575.58,293.78 575.75,293.68 575.92,293.58 576.09,293.47 576.27,293.35 576.44,293.24 576.61,293.12 576.79,293.01 576.96,292.90 577.13,292.79 577.31,292.70 577.48,292.61 577.65,292.53 577.82,292.46 578.00,292.41 578.17,292.37 578.34,292.34 578.52,292.33 578.69,292.33 578.86,292.34 579.04,292.37 579.21,292.42 579.38,292.48 579.55,292.56 579.73,292.64 579.90,292.75 580.07,292.86 580.25,292.98 580.42,293.12 580.59,293.26 580.77,293.41 580.94,293.56 581.11,293.72 581.28,293.88 581.46,294.04 581.63,294.20 581.80,294.37 581.98,294.52 582.15,294.68 582.32,294.82 582.50,294.96 582.67,295.10 582.84,295.22 583.01,295.33 583.19,295.44 583.36,295.53 583.53,295.61 583.71,295.68 583.88,295.74 584.05,295.78 584.23,295.81 584.40,295.83 584.57,295.84 584.74,295.84 584.92,295.83 585.09,295.81 585.26,295.77 585.44,295.74 585.61,295.69 585.78,295.64 585.96,295.58 586.13,295.52 586.30,295.46 586.47,295.39 586.65,295.33 586.82,295.26 586.99,295.20 587.17,295.14 587.34,295.09 587.51,295.04 587.69,294.99 587.86,294.96 588.03,294.93 588.20,294.91 588.38,294.90 588.55,294.89 588.72,294.90 588.90,294.91 589.07,294.94 589.24,294.97 589.42,295.02 589.59,295.07 589.76,295.13 589.93,295.20 590.11,295.28 590.28,295.37 590.45,295.46 590.63,295.55 590.80,295.66 590.97,295.76 591.15,295.87 591.32,295.98 591.49,296.09 591.66,296.20 591.84,296.31 592.01,296.42 592.18,296.53 592.36,296.63 592.53,296.73 592.70,296.82 592.88,296.91 593.05,297.00 593.22,297.07 593.39,297.14 593.57,297.20 593.74,297.26 593.91,297.30 594.09,297.34 594.26,297.37 594.43,297.39 594.61,297.41 594.78,297.42 594.95,297.42 595.12,297.42 595.30,297.41 595.47,297.39 595.64,297.37 595.82,297.34 595.99,297.32 596.16,297.29 596.34,297.25 596.51,297.22 596.68,297.19 596.85,297.15 597.03,297.12 597.20,297.09 597.37,297.06 597.55,297.03 597.72,297.01 597.89,297.00 598.07,296.98 598.24,296.97 598.41,296.97 598.58,296.98 598.76,296.98 598.93,297.00 599.10,297.02 599.28,297.05 599.45,297.08 599.62,297.12 599.80,297.17 599.97,297.22 600.14,297.27 600.31,297.33 600.49,297.39 600.66,297.46 600.83,297.53 601.01,297.61 601.18,297.68 601.35,297.76 601.53,297.83 601.70,297.91 601.87,297.99 602.04,298.07 602.22,298.14 602.39,298.22 602.56,298.29 602.74,298.35 602.91,298.42 603.08,298.48 603.26,298.53 603.43,298.59 603.60,298.63 603.77,298.68 603.95,298.71 604.12,298.75 604.29,298.77 604.47,298.80 604.64,298.82 604.81,298.83 604.99,298.84 605.16,298.84 605.33,298.84 605.50,298.84 605.68,298.83 605.85,298.83 606.02,298.81 606.20,298.80 606.37,298.79 606.54,298.77 606.72,298.76 606.89,298.74 607.06,298.73 607.23,298.71 607.41,298.70 607.58,298.69 607.75,298.68 607.93,298.68 608.10,298.67 608.27,298.67 608.45,298.68 608.62,298.68 608.79,298.69 608.96,298.71 609.14,298.73 609.31,298.75 609.48,298.78 609.66,298.81 609.83,298.84 610.00,298.88 610.18,298.92 610.35,298.96 610.52,299.00 610.69,299.05 610.87,299.10 611.04,299.15 611.21,299.21 611.39,299.26 611.56,299.32 611.73,299.37 611.91,299.43 612.08,299.48 612.25,299.54 612.42,299.59 612.60,299.64 612.77,299.69 612.94,299.74 613.12,299.78 613.29,299.83 613.46,299.86 613.64,299.90 613.81,299.94 613.98,299.97 614.15,299.99 614.33,300.02 614.50,300.04 614.67,300.06 614.85,300.07 615.02,300.08 615.19,300.09 615.37,300.10 615.54,300.10 615.71,300.11 615.88,300.11 616.06,300.11 616.23,300.10 616.40,300.10 616.58,300.10 616.75,300.09 616.92,300.09 617.10,300.08 617.27,300.08 617.44,300.08 617.61,300.07 617.79,300.07 617.96,300.07 618.13,300.08 618.31,300.08 618.48,300.09 618.65,300.10 618.83,300.11 619.00,300.12 619.17,300.14 619.34,300.16 619.52,300.18 619.69,300.20 619.86,300.23 620.04,300.25 620.21,300.28 620.38,300.32 620.56,300.35 620.73,300.38 620.90,300.42 621.07,300.46 621.25,300.50 621.42,300.54 621.59,300.58 621.77,300.62 621.94,300.66 622.11,300.70 622.29,300.74 622.46,300.78 622.63,300.81 622.80,300.85 622.98,300.89 623.15,300.92 623.32,300.95 623.50,300.98 623.67,301.01 623.84,301.04 624.02,301.06 624.19,301.09 624.36,301.11 624.53,301.13 624.71,301.14 624.88,301.16 625.05,301.17 625.23,301.18 625.40,301.19 625.57,301.20 625.75,301.20 625.92,301.21 626.09,301.21 626.26,301.22 626.44,301.22 626.61,301.22 626.78,301.22 626.96,301.23 627.13,301.23 627.30,301.23 627.48,301.23 627.65,301.23 627.82,301.24 627.99,301.24 628.17,301.25 628.34,301.26 628.51,301.26 628.69,301.27 628.86,301.29 629.03,301.30 629.21,301.31 629.38,301.33 629.55,301.34 629.72,301.36 629.90,301.38 630.07,301.40 630.24,301.43 630.42,301.45 630.59,301.48 630.76,301.50 630.94,301.53 631.11,301.56 631.28,301.59 631.45,301.62 631.63,301.65 631.80,301.68 631.97,301.71 632.15,301.74 632.32,301.76 632.49,301.79 632.67,301.82 632.84,301.85 633.01,301.88 633.18,301.90 633.36,301.93 633.53,301.95 633.70,301.97 633.88,302.00 634.05,302.02 634.22,302.04 634.40,302.05 634.57,302.07 634.74,302.08 634.91,302.10 635.09,302.11 635.26,302.12 635.43,302.13 635.61,302.14 635.78,302.15 635.95,302.16 636.13,302.16 636.30,302.17 636.47,302.18 636.64,302.18 636.82,302.19 636.99,302.19 637.16,302.20 637.34,302.20 637.51,302.21 637.68,302.21 637.86,302.22 638.03,302.23 638.20,302.23 638.37,302.24 638.55,302.25 638.72,302.26 638.89,302.27 639.07,302.28 639.24,302.29 639.41,302.31 639.59,302.32 639.76,302.34 639.93,302.35 640.10,302.37 640.28,302.39 640.45,302.41 640.62,302.43 640.80,302.45 640.97,302.47 641.14,302.49 641.32,302.51 641.49,302.53 641.66,302.55 641.83,302.58 642.01,302.60 642.18,302.62 642.35,302.64 642.53,302.67 642.70,302.69 642.87,302.71 643.05,302.73 643.22,302.75 643.39,302.77 643.56,302.79 643.74,302.81 643.91,302.82 644.08,302.84 644.26,302.86 644.43,302.87 644.60,302.89 644.78,302.90 644.95,302.91 645.12,302.92 645.29,302.93 645.47,302.94 645.64,302.95 645.81,302.96 645.99,302.97 646.16,302.98 646.33,302.99 646.51,302.99 646.68,303.00 646.85,303.01 647.02,303.01 647.20,303.02 647.37,303.03 647.54,303.03 647.72,303.04 647.89,303.05 648.06,303.05 648.24,303.06 648.41,303.07 648.58,303.08 648.75,303.09 648.93,303.10 649.10,303.11 649.27,303.12 649.45,303.13 649.62,303.14 649.79,303.15 649.97,303.17 650.14,303.18 650.31,303.19 650.48,303.21 650.66,303.22 650.83,303.24 651.00,303.26 651.18,303.27 651.35,303.29 651.52,303.31 651.70,303.32 651.87,303.34 652.04,303.36 652.21,303.38 652.39,303.39 652.56,303.41 652.73,303.43 652.91,303.44 653.08,303.46 653.25,303.48 653.43,303.49 653.60,303.51 653.77,303.52 653.94,303.54 654.12,303.55 654.29,303.56 654.46,303.58 654.64,303.59 654.81,303.60 654.98,303.61 655.16,303.62 655.33,303.63 655.50,303.64 655.67,303.65 655.85,303.66 656.02,303.67 656.19,303.67 656.37,303.68 656.54,303.69 656.71,303.70 656.89,303.70 657.06,303.71 657.23,303.72 657.40,303.72 657.58,303.73 657.75,303.74 657.92,303.74 658.10,303.75 658.27,303.76 658.44,303.77 658.62,303.78 658.79,303.78 658.96,303.79 659.13,303.80 659.31,303.81 659.48,303.82 659.65,303.83 659.83,303.84 660.00,303.85 660.17,303.86 660.35,303.88 660.52,303.89 660.69,303.90 660.86,303.91 661.04,303.93 661.21,303.94 661.38,303.95 661.56,303.97 661.73,303.98 661.90,303.99 662.08,304.01 662.25,304.02 662.42,304.03 662.59,304.05 662.77,304.06 662.94,304.07 663.11,304.09 663.29,304.10 663.46,304.11 663.63,304.12 663.81,304.14 663.98,304.15 664.15,304.16 664.32,304.17 664.50,304.18 664.67,304.19 664.84,304.20 665.02,304.21 665.19,304.22 665.36,304.23 665.54,304.24 665.71,304.24 665.88,304.25 666.05,304.26" fill="none" stroke="#f2a864" stroke-width="1.15" stroke-linejoin="round" stroke-linecap="round" />
<path d="M 523.1,228.7 L 532.3,228.7 C 533.2,228.7 533.0,212.3 534.0,211.6 L 589.3,211.6 L 589.3,228.7 L 598.7,228.7" stroke="#c8394f" stroke-width="1.3" fill="none" />
<text x="547.70" y="225.50" font-size="10.34" fill="#c8394f" textLength="26.80" lengthAdjust="spacingAndGlyphs">100 ns</text>
<text x="604.00" y="216.90" font-size="10.34" fill="#c8394f" textLength="71.80" lengthAdjust="spacingAndGlyphs"><tspan font-family="Liberation Serif, serif" font-style="italic" font-weight="bold" font-size="10.5">Ω</tspan> = 2π × 171 MHz</text>
<circle cx="569.40" cy="251.10" r="1.90" fill="#7f90d4" stroke="none" stroke-width="0"/>
<text x="586.80" y="254.70" font-size="10.34" textLength="74.40" lengthAdjust="spacingAndGlyphs">Data (|−1⟩ <tspan font-family="DejaVu Sans" font-size="10.5">→</tspan><tspan> |</tspan><tspan font-style="italic">A</tspan><tspan font-size="6.2" dy="1.8">2</tspan><tspan dy="-1.8">⟩)</tspan></text>
<line x1="557.60" y1="263.90" x2="579.50" y2="263.90" stroke="#f0a867" stroke-width="1.5" />
<text x="586.80" y="267.50" font-size="10.34" textLength="24.00" lengthAdjust="spacingAndGlyphs">Model</text>
</svg>
</body></html>
